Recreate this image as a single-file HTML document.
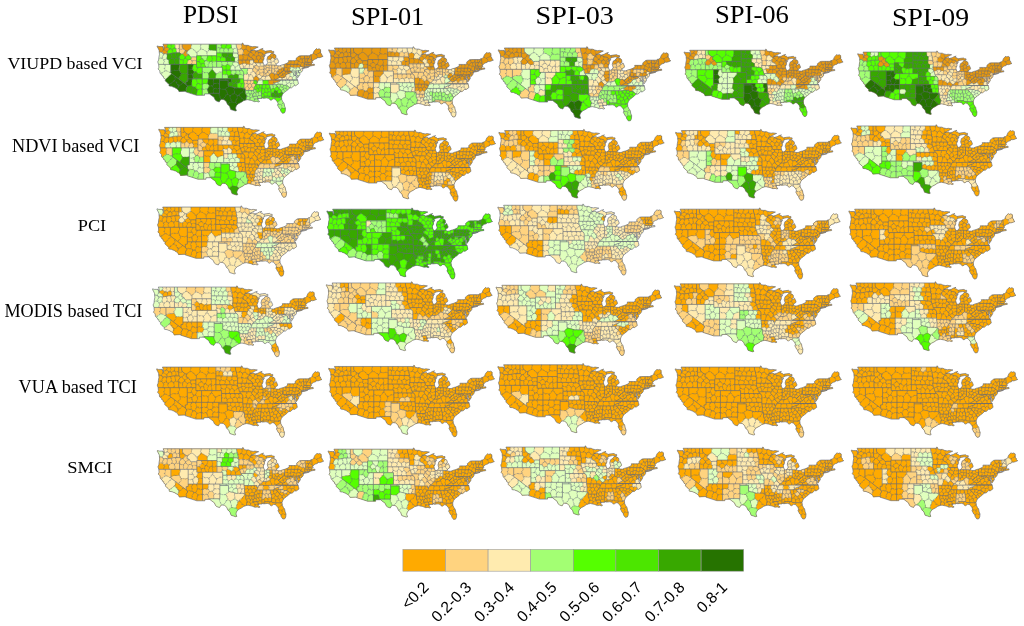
<!DOCTYPE html><html><head><meta charset="utf-8"><title>Correlation maps</title><style>html,body{margin:0;padding:0;background:#fff}body{width:1024px;height:626px;overflow:hidden;position:relative}svg{position:absolute;left:0;top:0}.t{font-family:"Liberation Serif","Times New Roman",serif;fill:#000}.l{font-family:"Liberation Sans",Arial,sans-serif;fill:#000}</style></head><body><svg width="1024" height="626" viewBox="0 0 1024 626"><defs><filter id="bl" x="-5%" y="-5%" width="110%" height="110%"><feGaussianBlur stdDeviation="0.45"/></filter><g id="b" fill="none" stroke-linejoin="round"><path d="M17 53l-3 -1l-3 0l-3 1l-2 0M27 96l-1 2l-2 1l-5 3l-3 0l1 3l-2 -1l-3 2M22 23l-2 1l0 3l-2 2l-2 3M23 38l-1 2l-2 6l-3 0l1 2l1 2l-2 3M17 53l2 2l3 2l1 2M18 13l1 1l1 2M23 59l0 2l2 3l-1 4l-2 0l0 2l0 4M22 21l0 2M22 23l3 1l2 1l5 3l0 2l2 0l2 0M23 59l3 -2l3 -1l4 -1l1 0M34 14l-3 1l-2 3l-2 -1l-3 1M27 74l1 3l-1 0l1 6l-2 3l-2 2l2 0l1 5l0 3M47 102l-3 -1l-3 1l-3 -3l-2 -2l-6 -1l-1 1l-2 -1M29 126l1 -2l4 -2l3 -3l1 -3l1 -1l4 -3l2 1l0 -3l2 -1l3 -3M34 38l0 3l1 1l-1 6l-2 3l2 0l0 4M35 4l0 2l2 2l-2 3l-1 3M34 14l4 3l1 -1l2 2l1 2M34 55l2 2l2 2l3 -1M42 20l-1 4l-2 2l-3 1l0 3M36 30l0 2l0 4l1 1M51 54l-3 0l-3 3l-4 1M41 58l0 2l-2 4l0 3l2 2l0 1l1 4M60 130l-3 1l0 3l-3 1l-4 3l-2 0l-1 4l-3 0l-3 1M47 20l-3 1l-2 -1M49 4l-1 4l0 2l1 1l1 2l-3 4l0 3M47 20l3 1l1 1M76 93l-3 1l-1 1l-7 0l-1 -2l-1 2l-3 -1l-5 1l-3 2l-1 0l-3 1M48 36l1 3l1 5l1 -1l1 5l-1 3l0 3M59 56l-2 -1l-3 -1l-3 0M62 18l-3 0l-4 1l0 1l-4 2M51 22l2 2l0 4l-1 3l1 0l1 3M65 53l-2 1l-3 2l-1 0M59 56l1 4l-1 1l2 3l1 6l-2 0l0 4M64 116l-2 3l1 6l1 -1l-2 3l-2 3M74 148l-1 -3l0 -3l-2 2l-3 -4l0 -5l-5 0l-1 -1l-2 -4M62 18l0 -4l1 0l0 -5l-2 -3l0 -2M66 20l-2 -1l-2 -1M64 34l-1 2l1 3l1 3l-1 4l2 0l0 3l-1 4M77 54l-3 -1l-5 2l0 -1l-4 -1M77 17l-2 2l-5 2l-2 -2l-2 1M67 34l0 -2l1 -6l-1 -1l0 -3l-1 -2M74 148l1 3l0 2l-3 0l-1 5l0 2M84 105l-2 3l1 4l-1 2l-3 3l-3 1l0 2l-2 4M91 137l-3 1l-3 4l-2 3l-5 1l-2 1l-2 1M79 74l0 2l1 5l0 2l-3 1l-2 3l1 3l0 3M84 105l-2 -2l-3 0l0 -7l-2 -1l-1 -2M77 56l3 1l4 1l-1 0l4 0l3 0M90 19l-2 2l-5 1l-1 -1l-3 2l-2 0M89 39l-2 -2l-2 1l-3 1M107 104l-3 0l-1 1l-5 2l-4 -1l-2 -1l-1 1l-4 -1l-3 0M98 26l-2 2l0 4l-1 -1l-2 3l-3 1l-1 4M98 48l-2 -1l-3 -4l-2 -1l-1 -1l-1 -2M98 52l-3 1l0 2l-3 0l-2 3M90 58l1 2l-1 5l0 1l1 0l0 6l2 2M98 48l0 2l0 2M98 52l1 1l3 2l3 3l1 0l1 2M110 40l-2 3l-5 1l-1 3l-1 0l-3 1M104 74l-1 -3l0 -2l3 -2l1 -4l0 -3M118 18l-1 3l-1 -1l-4 3l-4 0l-1 3l0 2l-3 3M120 148l-4 0l-2 0l-3 0l0 -2l-4 1l-3 1M107 60l2 -1l1 -1l5 -1l2 1M123 108l-3 -1l-2 1l-1 2l-5 -1l-3 0l-2 0M121 91l-3 0l-3 0l-4 0l-4 1M126 152l-1 4l-1 3l-2 1l-2 3l1 1l0 5l-3 3l-2 2M117 58l2 -4l0 -2l0 -3M121 62l0 -1l-2 -1l-2 -2M119 4l1 4l-2 4l0 5l0 1M139 32l-2 0l-4 -1l-1 -4l-1 -2l-3 0l0 -1l-5 -4l-3 -1l-2 -1M122 124l0 4l-2 0l-2 5l2 5l1 0l-1 3l1 3l-1 4M126 152l-1 -2l-3 -1l-2 -1M120 74l0 -3l2 -3l0 -3l-1 -3M137 61l-3 1l-2 -2l-2 0l-6 1l-3 1M126 74l0 4l-1 3l-3 2l-2 2l2 3l-1 3M130 100l-2 -1l-3 -4l1 -3l-3 1l-2 -2M130 100l-2 2l0 2l-3 1l-2 3M127 124l-1 -3l-1 -3l-2 -4l1 2l-1 -5l0 -3M132 152l-3 1l-1 0l-2 -1M134 99l-2 1l-2 0M140 141l-2 1l-1 3l0 2l-2 4l-3 1M132 152l2 3l2 0l2 2l2 3l0 1M142 84l0 2l-2 3l-2 2l0 5l-1 1l-3 2M134 99l3 1l3 2l1 3l2 1M135 124l1 2l2 5l0 1l2 6l-1 1l1 2M140 161l0 2l-1 3l0 3l-2 6l-1 -1l1 3l0 3M146 65l-3 -1l-4 0l-2 0M143 106l-1 2l2 5l-2 3l-3 2l-1 2l1 4M152 18l-1 1l-1 5l-4 1l-2 2l-1 2l-1 0l-3 3M139 32l0 2l-1 7l1 -1l1 4M157 142l-3 0l-3 2l-5 -2l1 -2l-4 0l-3 1M157 160l-3 0l0 -2l-6 1l-3 2l-2 0l-3 0M157 105l-3 -1l-1 1l-6 -1l-2 1l-2 1M155 53l-2 3l-3 1l-3 1l0 4l-1 3M146 65l2 2l1 3l2 0l2 2M153 72l-1 4l1 2l-1 3l-2 3M152 4l0 3l-1 4l-2 2l3 1l0 4M174 31l-3 -2l-3 -2l0 1l-2 -1l-4 -3l-2 -2l-5 0l-1 -2l-2 -2M152 44l0 2l2 1l0 5l1 1M153 72l2 0l4 -2l2 1l2 -2M155 53l2 1l2 0l1 4l5 2l2 1M175 160l-3 -1l-4 -1l-2 3l-1 1l-6 -3l-2 0M157 143l2 -1l3 -1l2 -2l6 2l0 1l2 -1l3 0M179 105l-2 -1l-3 -2l-4 0l-5 1l1 0l-3 -2l-2 -1l-4 -1M167 61l0 2l-2 1l-1 4l-1 1M163 69l1 4l2 -1l-1 4l3 5l1 0l2 3M171 60l-1 0l-3 1M175 44l0 2l0 2l-1 4l-2 5l-1 3M171 60l2 1l1 3l5 2l1 -1l3 1M174 31l-1 3l0 1l0 2l1 4l-1 3M181 23l-1 1l-1 3l-3 2l-2 2M182 149l-2 2l-3 2l0 2l0 2l-2 3M175 160l1 3l1 4l0 -1l2 5l-1 3l2 2M175 141l1 -3l1 -4l0 -2l1 0l-1 -6l0 -2M175 141l2 2l2 0l2 4l1 2M183 66l-1 1l-2 5l-3 3l0 1l1 2l0 2l-2 4M192 92l-4 2l-2 0l1 3l-1 1l-4 4l-2 1l-1 2M179 105l1 3l0 2l1 1l0 7l-2 1l1 2l0 3M181 4l1 4l-1 0l0 4l0 2l-2 6l1 0l1 3M181 23l2 1l5 1l2 0l2 1l1 -1l4 -1l6 0l1 2l3 1M191 148l-4 0l-1 1l-4 0M190 64l-3 0l-2 0l-2 2M189 44l1 4l0 1l2 3l0 4l-2 4l1 0l-1 4M190 64l2 1M197 140l-1 2l0 4l-3 0l-2 2M191 148l1 2l3 4l1 2l2 2M192 84l1 3l-1 3l0 2M192 92l2 1l3 3l1 4l3 0l0 1l2 3l1 2M207 63l-3 0l-3 1l-3 2l-2 -1l-1 0l-3 0M192 65l0 3l-1 2l0 1l2 6l-2 2l3 2l1 3M198 158l-1 2l-2 4l0 3l1 -1l0 5l-1 3M196 124l0 1l0 6l1 1l-2 2l1 2l1 4M217 142l-3 -1l-4 -2l-2 1l-2 1l-1 -1l-6 0l-2 0M217 156l-2 1l-3 1l-2 1l-7 -2l0 -1l-2 1l-3 1M202 124l0 -4l2 -5l2 -3l-1 -4l-1 -2M204 106l3 0l3 -1l4 -2l1 0l1 -3l7 1l1 -1l3 0M222 50l-3 -1l-4 -2l0 -1l-2 2l-3 0l-3 -2M220 18l-3 -1l-4 -2l1 1l-4 1l-3 0M215 174l0 4l2 -1l-1 5l3 4l-1 2l3 1l0 3l2 3M237 160l-2 0l-6 0l-3 0l-1 0l-6 -2l-2 0M220 18l-1 3l-1 2l0 2l0 3l0 5l0 1M222 16l-2 2M222 50l-1 3l0 2l-1 2l0 4l1 3M226 77l-1 1l-2 4l-1 2M226 47l-2 1l-2 2M224 4l-2 3l1 4l0 -2l0 5l-1 2M222 16l3 2l2 0l2 0l4 3M223 64l0 2l2 2l0 7l1 -1l0 3M244 178l-2 2l-4 0l0 4l0 2l-3 2l-4 4l-1 0l-2 2l-2 1M226 35l-1 3l0 2l0 2l0 1l1 4M226 47l2 2l2 2l2 -2l5 1l2 1M226 77l2 0l2 0l2 2l5 0l1 -1M242 108l-2 1l-5 2l-3 -3l-2 1l-3 1M233 21l-1 4l-2 1l2 2l1 3l0 3M240 17l-3 0l-1 2l-3 2M249 149l-1 3l-1 0l-4 3l-3 0l-1 3l-2 2M237 160l3 3l0 3l3 1l-1 2l3 5l-1 2l0 2M244 73l-2 3l-2 1l-2 1M238 78l2 2l1 3l-1 4l2 2l-2 2l1 3M239 51l0 4l2 1l-2 2l-1 2l1 4M245 46l-3 1l-2 3l-1 1M240 124l-1 2l0 3M241 4l1 3l0 3l-3 2l0 1l1 4M248 21l-2 0l-1 0l-4 -2l-1 -2M243 94l-1 4l-1 0l1 4l0 4l0 2M247 113l-3 -2l0 -2l-2 -1M244 64l1 3l0 3l-1 3M256 80l-3 -1l-1 -3l-1 -2l-4 0l-3 -1M255 182l-4 -1l-4 -3l-3 0M245 35l1 2l0 6l-1 0l0 3M255 52l-2 -1l-2 0l-3 -3l-3 -2M246 213l3 -3l0 -2l2 -2l4 -1l2 -1M247 113l-1 4l0 2l1 1l0 4M258 108l-2 2l-1 -1l-3 3l-3 0l-2 1M248 138l2 0l3 -1l2 -1l3 -2M248 21l1 2l-2 6l1 3l0 2M258 17l-2 0l-5 1l0 1l-3 2M253 94l1 -2l1 -3l1 -5l0 -1l0 -3M269 175l-3 1l-4 0l0 2l-1 1l-4 1l-2 2M255 182l-1 2l0 4l1 3l0 1l2 2l0 6l0 1l0 3M255 52l0 1l1 6l0 -1l0 3l-1 3M264 46l-2 1l0 1l-5 1l-2 3M256 80l2 0l3 -2l2 -2M257 94l1 2l-1 6l1 3l0 3M257 204l3 0l2 0l1 1l6 1l2 0l2 -1M259 124l0 2l0 2l-1 4l0 2M258 134l1 1l2 1l3 3l1 1M258 108l3 2l2 0l2 2M258 17l1 -3l-1 0l1 -5l-1 -3l0 -2M265 21l-2 0l-2 -2l-3 -2M265 140l-1 3l-1 1l-1 2l0 4l0 2M265 65l-1 2l-2 3l1 4l0 2M263 76l2 2l3 1l1 3l3 1M264 35l-1 2l0 6l1 3M271 51l-3 -1l-2 -2l-2 -2M264 34l1 -2l0 -1l0 -6l0 -2l0 -2M265 21l2 0l2 -3l6 1l0 -2l2 0M273 107l-3 0l-3 1l0 2l-2 2M265 112l1 3l1 4l-1 1l0 4M273 138l-3 1l-2 1l-3 0M269 154l0 4l-2 3l0 2l2 1l0 5l0 4l0 2M281 182l-4 -2l-3 0l0 -3l-3 -2l-2 0M269 66l1 -3l0 -1l-1 -6l0 -2l2 -3M271 51l4 0l2 -3l2 1l4 0M272 94l0 2l3 1l-1 7l-1 0l0 3M285 75l-2 2l-3 1l-1 3l-2 0l-2 2l-3 0M272 83l-1 2l0 2l1 5l1 2M283 111l-3 -1l0 -1l-4 -2l-3 0M281 182l-2 3l0 4l0 1l-1 3l-1 -1l-2 6l-1 3l0 2l-1 2M273 205l1 2l2 2l1 2l3 1M273 138l1 -2l2 -4l-2 -4l0 -1l0 -3M277 140l-1 -1l-3 -1M288 137l-4 1l-3 1l-4 1M277 140l2 3l0 4l-1 0l1 2l0 4l0 2M292 20l-3 0l0 2l-5 0l-2 2l-3 -1M285 182l-2 -1l-2 1M299 40l-3 -1l0 2l-7 0l-2 0l-3 0l-2 -1M283 124l0 -3l1 -1l-2 -6l0 -1l1 -2M286 108l-2 2l-1 1M305 158l-3 2l0 2l-1 2l-4 5l-2 1l1 2l-2 1l-4 1l-4 3l0 1l-1 4M285 182l3 2l1 1l1 0l3 4l0 4l5 0l2 1l2 3l2 1M295 72l-3 1l-4 2l1 0l-3 0M288 94l-1 3l0 2l2 2l-1 5l-2 2M286 108l4 1l1 -2l2 1l1 2l5 2l2 0M288 124l0 3l1 3l-1 1l1 3l-1 3M293 141l-1 -1l-2 -1l-2 -2M289 156l0 -3l1 -2l2 0l1 -6l0 -2l0 -2M294 4l0 2l0 3l1 2l-1 5l-2 2l0 2M300 25l-1 -1l-4 -2l-1 -2l-2 0M293 141l2 -1l2 0l3 -1l3 1M297 71l-2 1M302 88l-1 -3l1 -4l-3 1l1 -3l-3 -5l-2 -2M295 59l1 3l0 1l1 6l0 2M297 71l2 -1l2 0l1 0l5 0l2 1M299 40l-1 3l1 3l2 3l-1 -1l-1 6l0 2l-1 3M300 25l1 3l-1 2l-3 6l1 1l1 3M317 42l-3 -1l-4 0l1 1l-3 1l-2 -1l-5 -2l-2 0M309 21l-3 1l-3 1l0 2l-3 0M314 106l-1 2l-5 0l-2 0l-3 1l-2 -1M315 150l-3 1l-2 2l-1 1l-3 -1l-3 1M313 139l-3 1l-2 2l-3 -1l-2 0M311 73l0 3l-1 0l-3 3l-2 5l1 2l0 2M313 8l-1 2l-2 3l0 4l0 2l-1 2M309 21l2 2l4 2l0 3l3 -1l-1 0l4 4l2 2M317 173l-3 1l-4 1l-1 2M310 59l-2 3l1 4l1 1l-1 4M309 71l1 1l1 1M311 73l2 0l2 0l3 0l3 1M311 186l3 0l0 -2l4 1l3 1M313 129l1 2l0 3l0 3l-1 2M313 139l2 1l1 2M313 59l1 -3l1 -5l0 -2l1 -5l1 -2M315 88l0 3l0 5l-1 -1l-2 2l1 3l1 5l0 1M319 110l-2 -2l-1 -1l-2 -1M316 142l1 3l-2 3l0 2M320 157l-2 -3l-1 -3l-2 -1M319 110l0 3l1 4l-1 -1l-1 4l-1 4l-1 3l0 2M316 142l3 0l1 -1l4 0M317 164l0 3l1 2l0 2l-1 2M323 177l-2 -1l-1 -3l-3 0M319 41l-2 1M324 109l-2 1l-3 0M320 163l-1 -3l1 -1l0 -2M329 151l-3 2l-3 2l0 1l-3 1M323 177l0 3l1 0l-2 3l-1 3M321 186l2 2l1 2M323 73l-2 1M321 74l1 3l-2 4l1 0l0 4l0 3M324 190l-1 1l0 4l-1 3M322 59l0 2l0 4l-1 3l2 2l0 3M327 175l-3 2l-1 0M330 73l-2 1l-3 -1l-2 0M335 97l-1 1l-2 2l-5 1l-1 5l0 2l-2 1M324 109l3 2l1 -1l4 3l-1 4l3 1l3 1M335 187l-4 0l-3 1l-1 1l-3 1M325 129l1 3l-1 3l0 2l-1 4M324 141l2 1l2 1M324 31l3 2l4 0l0 3l3 4l2 1M329 26l-2 -3l0 -1l-3 -5l2 -3l-1 -2M328 164l0 3l1 0l-1 6l-1 2M327 175l3 1l2 0l1 2M336 139l-4 1l-1 2l-3 1M328 143l1 2l0 3l0 3M336 41l-2 1l-2 2l-3 4l-1 2M329 151l3 2l3 0l2 2M337 67l-2 1l-2 4l-3 1M330 73l3 3l3 3l0 3M336 184l1 1l-2 2M339 196l-1 -2l1 0l-3 -5l-1 -2M337 119l-1 2l0 4l-1 2l0 2M335 60l4 0l2 -2l1 -1l3 -3M337 41l-1 0M337 129l0 2l0 3l-1 3l0 2M336 139l2 1l5 2l-1 3l2 0M344 161l-4 -1l-3 1M337 84l2 1l5 2l-1 3l2 0l3 1l2 3M337 202l0 -2l2 -2l0 -2M345 114l-2 0l0 2l-4 1l-2 2M343 29l-1 1l1 5l-2 2l-3 2l-1 2M337 41l1 1l4 3l2 1l2 0M337 172l3 0l3 1M339 196l3 -1l0 -3l4 1l3 0M350 94l-2 2l0 2l-1 3l-4 1l-2 1M343 147l2 2l3 3l-1 3l1 2M347 170l-2 1l-2 2M343 173l1 4l1 2l0 2l-1 3M348 157l-2 2l-2 2M344 161l0 2l-1 5l3 0l1 2M345 77l4 2l3 0l0 2l4 1M346 46l0 2l-1 4l0 2M345 54l1 2l5 0l0 2l2 2M357 108l-3 1l-2 0l-1 3l-3 0l-2 1M346 46l2 -1l1 0l3 -2M352 171l-3 -1l-2 0M348 157l2 -1l3 1M350 184l1 -1l3 -2M352 93l-2 1M356 168l-2 2l-2 1M352 171l0 3l2 2l-1 1l1 4M353 32l1 3l-2 2l0 4l0 2M352 43l2 1l4 1l2 2M355 89l-1 2l-2 2M352 93l2 4l1 1l1 2l2 4M361 54l-3 1l-4 3l1 0l-2 2M353 60l0 3l0 3l0 3M356 155l-2 1l-1 1M353 157l0 4l1 1l0 3l2 3M354 181l3 1l4 -1l2 0M356 82l-1 3l0 2l0 2M355 89l2 1l3 3l3 -1l6 -2l0 1l3 2M358 79l-1 2l-1 1M356 168l1 1l3 1l3 -1M356 144l0 3l1 5l-1 3M365 156l-4 0l-1 -1l-4 0M358 104l-1 2l0 2M357 108l0 1l3 4l2 2l2 -1l1 3M372 100l-3 1l-3 0l-4 3l-1 -1l-3 1M372 79l-3 1l-5 0l1 0l-4 0l-3 -1M358 69l1 3l0 2l0 2l-1 3M369 39l-3 3l-3 1l-1 3l-2 1M360 47l1 3l0 1l0 3M370 58l-3 0l0 1l-3 -3l-3 -2M369 175l-2 0l-2 0l-2 -1M365 158l2 -1l4 1l2 1M368 129l0 4l-1 2l-1 1l2 5l0 3M375 170l-3 2l-1 2l-2 1M369 175l1 2l3 2l0 3l2 2M372 103l2 0l2 2l3 -1M377 90l-3 -1l-2 2M378 156l-2 1l-3 2M373 159l1 3l1 3l1 1l-1 4M375 170l4 1l2 0l3 1M377 115l0 3l1 2l-3 1l2 6l0 1M381 86l-1 0l-1 2l-2 2M385 99l-2 -3l0 -1l-4 -2l-2 -3M378 144l0 4l0 3l0 1l0 4M385 158l-2 0l-2 -1l-3 -1M378 29l0 2l1 2l-1 3M379 77l0 2l-1 4l2 0l1 3M384 100l0 2l-3 1l-2 1M379 104l0 3l-1 0l2 5l1 2M381 86l2 -1l4 0l2 1M395 57l-2 -1l-3 0l0 2l-5 0l-2 -2M384 172l-1 2l2 4l-1 3l0 3M384 172l2 -2M385 99l-1 1M384 100l3 2l0 1l3 3l2 2M389 95l-2 0l-1 2l-1 2M397 67l-2 0l-1 0l-5 0l-2 1l-2 -1M393 155l-2 0l-4 2l0 1l-2 0M385 158l1 3l-1 0l1 7l0 2M386 170l3 -1l3 0l2 1l3 0M387 129l0 3l0 3l2 2l1 -1l-3 6l0 2M390 85l-1 1M389 86l1 4l0 1l-1 4M389 95l4 0l2 2l2 -1l2 1M389 76l0 3l2 1l-1 2l0 3M392 184l-2 3l0 3l0 2M390 85l2 2l4 -1l3 0M398 128l-1 -2l0 -4l-2 -2l0 1l-3 -6l0 -3l-2 -1M392 44l2 2l3 0l1 3l1 2M405 156l-3 2l-3 2l-1 -1l-3 1M399 51l-1 3l-2 0l-1 3M395 57l1 3l0 4l2 2M398 66l-1 1M397 67l0 2l0 3l0 3l1 1M404 172l-2 0l-2 1l-3 0M408 64l-2 -1l-3 1l-3 1l-2 1M399 51l3 0M408 89l-3 1l-2 -2l-4 1M407 39l-1 2l-1 1l-2 6l-1 1l0 2M402 51l1 0l3 2l2 1M402 144l1 3l2 4l-2 -2l1 5l1 2M410 95l-1 2l-1 5l-3 1l-2 1M410 163l-2 3l-2 3l0 1l-2 2M411 178l-2 -1l0 -2l-3 -3l-2 0M408 158l-2 0l-1 -2M407 140l-1 -3l0 1l0 -5l-1 -3l0 -2M409 107l-1 4l0 2l-1 2l-1 3l2 4l0 4l-2 2M418 149l-2 3l-4 1l-1 3l-3 2M408 158l1 1l1 4M410 57l-1 2l-1 2l0 3M415 74l-2 -3l-4 -3l0 -1l-1 -3M410 87l-2 2M408 89l0 2l1 1l1 3M409 77l1 3l-1 0l1 5l0 2M420 86l-3 0l0 3l-4 -1l-3 -1M410 163l2 2l4 1l0 -1l3 1M410 194l1 -3l1 -1l-1 -2M410 95l2 2l2 2l3 -1M411 178l0 2l0 5l0 2M420 173l-2 1l-2 3l-2 0l-3 1M417 98l0 2l-2 4l1 3M417 98l3 -1M419 166l1 -2l4 -3l1 0l0 -3M419 166l0 2l0 3l1 2M434 194l-4 2l-1 3l-5 2l-3 1l-1 2M421 79l0 3l-1 2l0 2M420 86l0 1l3 4M420 173l1 1l3 1M420 135l1 4l0 1l1 2M423 91l-1 3l-1 1l-1 2M420 97l3 1l0 2l4 3l2 1M421 211l3 1l0 1l5 -1l3 1M423 91l2 0l4 0l1 -1M435 170l-3 0l-3 1l-2 1l-3 3M424 175l0 2l-1 4l2 2l2 4M428 152l-2 1l-2 3M436 110l-2 1l-3 3l-1 -1l-2 2l-2 1M428 142l1 3l0 4l0 -1l-1 4M438 153l-3 0l-4 -1l-3 0M434 226l-2 1l0 1l-3 2M433 86l-2 2l-1 2M430 90l2 2l1 0l1 5l1 2M430 78l0 3l2 1l1 4M440 207l-2 2l-1 0l-2 2l-3 2M432 213l2 2l-1 4l0 2l1 2l0 3M432 101l2 2l3 2l0 2M433 164l2 -1l2 -1l2 -3M442 86l-3 0l-2 0l-4 0M446 226l-2 0l-2 2l-1 -1l-4 -2l-3 1M434 121l1 3l0 1l0 3M437 128l0 4l0 1l0 2l-1 6l-1 2M437 107l-1 3M436 110l2 1l1 4l2 3l0 1M445 106l-4 1l-2 1l-2 -1M440 146l0 3l-1 2l-1 2M438 153l0 1l2 3M440 157l-1 2M439 159l1 3l2 2l1 2l3 2M449 156l-3 1l-2 -1l-4 1M452 85l-2 0l-2 -1l-4 0l-2 2M447 97l0 2l0 2l-1 4l-1 1M445 106l2 1l2 3M445 128l2 2l2 3l1 5l1 3M454 125l-1 -1l-3 -2l0 -5l-3 -1l-1 -1M451 141l-1 3l-2 2M453 148l-1 1l-2 4l-1 3M449 156l0 2l2 1l0 1l3 3M461 137l-3 1l-5 1l1 1l-3 1M453 74l-1 4l0 2l0 2l0 3M453 86l-1 -1M453 96l1 -3l0 -1l0 -3l-1 -3M462 86l-3 1l-4 -1l-2 0M463 115l-2 3l-3 1l-1 4l-1 0l-2 2M454 125l0 3M457 100l1 1l1 3l-1 2M460 106l2 2l1 1l-1 3l1 3M461 128l0 3l1 2l-1 4M461 137l3 3l1 1M465 83l-1 2l-2 1M462 86l2 1l-1 4l0 3l1 2M462 155l0 -3l2 0l1 -6l0 -3l0 -2M463 115l3 1l2 1l3 1M465 83l-1 -2l0 -4l-1 -1l0 -2M474 85l-2 -1l-4 0l-2 0l-1 -1M465 141l2 0l2 -3l3 1l3 1M465 61l0 2l2 2l-1 4l-1 3l0 2M479 112l-2 1l0 1l-4 1l-2 3M471 118l0 2l-1 5l2 0l0 3M472 96l0 -3l1 -1l1 -3l0 -4M475 84l-1 1M477 128l-2 4l-1 3l2 1l-1 4M475 140l1 2l4 2l-1 1l1 2M476 74l0 3l-1 3l0 1l0 3M475 84l3 1l0 3l4 -1l2 -1M475 105l1 -3l3 -1l2 0M477 61l1 3l1 3l-2 2l0 1l1 4M481 101l1 -3l-1 -1M481 101l1 1M487 84l-3 2M484 86l1 2l-2 3l1 4l1 1M491 63l-2 -2l-1 -1l-3 -1M485 105l1 1M486 106l0 1l0 2M494 102l-4 1l-3 2l-1 1M487 74l0 1l0 5l0 2l0 2M495 86l-3 -1l-3 0l-2 -1M488 111l1 1l3 1l3 -1M488 74l0 -3l1 -2l2 -4l0 -2M493 62l-2 1M500 53l-1 3l-3 3l-2 0l-1 3M493 62l2 2l3 3l3 0l3 1M496 45l1 3l2 -1l0 4l1 2M498 93l1 3l3 2l1 1M507 89l-3 -1l-1 1l-5 1M498 79l1 -2l1 -3l3 -3l1 -3M506 55l-3 0l-1 0l-2 -2M504 68l2 -1M513 52l-2 0l-2 2l-3 1M506 55l-1 3l0 5l1 1l0 3M506 67l3 1l1 1l4 0M522 54l-3 1l-3 0l-2 0M520 74l2 3l-1 1l0 3M521 44l1 2l1 2l-1 3l0 3M525 56l0 -1l-3 -1M526 67l0 1l-1 3l1 2M537 57l-2 0l-4 -2l-2 -1l-3 0M535 76l0 -3l3 -1M540 69l1 -2M544 35l2 1l3 3l3 1l2 0M569 30l-3 3l-1 3l-6 0l-3 3l0 -1l-2 2M554 40l1 2l2 2l1 6l-1 -1l1 3" stroke="#5f677a" stroke-width="1.9" stroke-dasharray="7 2 3 2"/><path d="M47 74l-42 0M5 74l-2 -5l-1 -4l3 -6l1 -10l2 -10l-1 -8M100 167l-24 1l-2 -4l-6 -6l-5 -2l-1 -2l-7 -2l-4 -2l-9 -1l-1 -1l0 -5l-3 -3l-4 -3l-6 -6l0 -3l1 -2l-2 -2l-4 -2l-1 -3l0 -3l-5 -2l0 -3l-7 -6l-1 -9l-6 -6l3 -6l-1 -10M7 31l0 -4l-1 -3l-3 -6l-3 -5l0 -3l6 2l9 0l5 0l2 9l2 -1l-1 -9l-3 -7l57 0M78 34l-21 0l-3 1l-12 2l-7 1l-7 -1l-4 1l-5 -1l-1 -4l-5 -1l-6 -1M77 74l-30 0M47 74l0 30l22 16l18 14l14 10M77 74l30 0M78 34l5 4l-4 6l-4 5l3 3l-1 4l0 18M77 4l10 0M77 4l0 26l1 4M87 4l120 0M87 4l0 10l3 6l10 7l4 0l-1 11l6 1l4 5l4 5l7 -1l8 0l5 1M101 144l1 2l4 5l-3 2l-3 7l2 4l-2 3M157 181l-20 0l-38 -12l1 -2M107 124l0 8l-7 1l0 6l1 5M157 124l-50 0M107 74l0 50M137 74l-30 0M137 49l0 25M157 84l-20 0l0 -10M207 44l-70 0l0 5M182 176l-17 0l0 5l-8 0M157 124l0 57M217 124l-60 0M157 84l0 40M207 84l-50 0M217 129l0 45l-36 0l1 2M309 197l-9 3l-4 3l-3 2l-10 5l-6 5l-3 6l-1 5l3 8l-4 1l-7 -2l-9 -3l-4 -11l-8 -8l-3 -8l-8 -7l-9 -1l-4 2l-4 7l-9 -3l-5 -4l-4 -9l-11 -8l-5 -4M207 84l20 0l0 10M207 64l0 20M283 69l-3 -1l-5 -3l-7 1l-6 -2l-55 0M207 44l0 20M207 34l0 10M207 4l0 30M282 35l-75 -1M207 4l68 0M302 157l-8 -2l-7 1l-6 -1l-6 1l-7 -2l-7 -2l-6 -1l-8 -3l0 -19l-30 0M217 124l0 5M227 124l-10 0M301 124l-74 0M227 94l0 30M294 94l-67 0M275 4l21 0l0 -4l3 1l2 6l8 1l8 0l6 3l10 2l6 -1l13 2l-5 2l-10 5l-10 6M275 4l1 10l3 5l0 6l3 10M282 35l-3 3l4 3l0 18M283 59l-2 0l2 10M283 69l3 8l2 5l1 5l1 1M335 59l-52 0M333 90l-3 -2l-40 0M290 88l4 6M294 94l4 2l3 6l0 22M350 134l-6 0l2 -5l-45 0M301 124l0 5M301 129l2 11l-1 17M302 157l5 1l0 6M307 164l0 10l2 4l3 4l-2 6l0 3l-1 6M336 164l-29 0M351 192l-3 1l5 0l-3 4l3 3l4 2l-4 2l-6 -2l-8 1l-5 -2l-5 -2l-5 -1l-9 -2l-6 1M327 27l10 -2l3 -1l3 4M327 27l-3 0l0 6l-6 4l2 7l-1 2l8 4l7 5l1 4M341 69l5 4l-1 3l-1 2l-7 2l-1 6l-3 4M333 90l-1 4l1 1l7 7l1 3l4 1l0 2l-1 4l8 9l4 3M335 59l1 7l5 3M346 144l-5 4l-4 7l-1 9M336 164l0 5l2 2l-5 7l-2 6l19 0l-1 3l2 5M369 69l-28 0M343 28l11 -3l7 -4l8 -2l-4 3l2 3l4 0l5 4l11 -2l10 -1l4 3l5 0l0 5l-6 1l-8 -2l-10 2l-5 2l-6 6M343 28l13 5l10 2l3 5l2 3M365 144l-19 0M350 134l-4 10M353 129l-1 0l-2 5M363 192l-12 0M410 128l-43 1l0 -2l-14 2M356 124l-3 5M366 116l-3 4l-1 3l-6 1M372 191l-5 0l1 -4l-2 3l-3 2M365 144l1 1l-3 30l0 15l0 2M391 144l-26 0M399 103l-6 3l-3 5l-6 3l-6 1l-7 0l-5 1M372 76l0 24l-1 4l1 5l-5 6l-1 1M371 43l-4 5l3 -1l7 -6l-5 8l0 6l-4 8l1 6M369 69l3 7M372 76l3 1l4 -1M433 187l1 9l4 8l4 5l2 10l3 7l-1 10l-3 6l-7 1l-6 -8l-1 -6l-4 -3l-3 -6l-3 -5l2 -5l-2 -6l-6 -7l-3 -3l-6 -1l-7 5l-4 -1l-3 -5l-8 -2l-10 1M397 184l-26 0l0 1l2 2l-1 4M379 76l20 0M379 76l3 -3l3 -5l-3 -10l3 -11l6 -3l6 -7l3 -1l5 1l8 5l1 5l0 4l-6 4l3 3l7 -5l5 11l-1 4l-6 3l-3 6M404 144l-13 0M391 144l5 21l1 6l0 8l0 5M433 187l-6 -1l0 4l-2 -2l-26 -1l-2 -3M399 76l0 27M421 110l-4 -3l-7 0l-6 -2l-5 -2M399 76l14 1M404 144l12 0M430 128l-3 5l-11 3l-12 6l0 2M428 118l-18 10M430 128l-20 0M410 128l20 0M413 77l4 1l3 1l7 0l7 -3l8 -2M416 144l8 -2l13 1l3 3l11 0l11 9M416 144l-2 3l4 2l7 9l7 6l4 9l3 1M429 104l-8 8M421 112l0 -2M421 112l7 6M429 104l-4 4l-4 2M428 118l7 3l9 -3l7 -10l8 -2l5 -2l5 -2l1 -1M442 88l-1 2l-2 7l-7 4l-3 3M489 128l-59 0M430 128l59 0M439 174l-3 5l-3 8M462 155l-7 7l-7 5l-5 4l-4 3M442 74l0 14M442 88l0 9l10 0M442 74l8 -3M450 71l7 -4l1 -2l-1 -4l15 0l7 0l6 -3l-1 -5l5 -4l5 -4l6 -1l14 0M450 71l0 3l44 0l3 4l3 2M452 97l37 0l2 -2M452 97l0 5l5 -3l6 -1l6 0l1 3M489 128l1 4l2 9l-10 7l-5 -1l-9 8l-6 0M470 101l2 2l5 3l-3 4l4 1M478 111l7 4l-1 3l0 6l3 1l2 3M493 100l0 1l3 5l1 3l-3 5l-6 8l-1 -4l1 -6l-4 -4l2 -8l-4 2l0 7l2 4l-6 -2M491 95l1 3M493 96l-2 -1M492 98l1 -2M493 100l-1 -1l0 -1M492 98l1 2M507 88l0 1l0 5l-4 6l-5 4l-5 -4M500 80l-4 4l-1 3l5 5l-7 4M500 80l8 4M508 88l-1 0M507 88l1 0M508 88l3 -3l13 -2l4 0l-9 3l-11 2l-1 0M508 84l0 4M511 84l-3 0M529 81l-11 0l-7 3M512 73l0 9l-1 2M515 66l-3 7M512 73l17 1M514 44l18 0M514 44l-1 5l1 9l1 8M515 66l8 1M532 44l-1 5l-4 4l-4 8l-1 5l1 1M523 67l11 0l5 -2M536 79l-7 2M529 74l0 7M529 74l5 0l2 5M532 44l1 -3l3 0M539 65l2 2l-4 4l3 3l7 -1l1 4l-7 1l-5 1M536 41l3 -1l4 -4l2 -5l2 -4l8 -8l3 3l6 -2l5 3l0 12l4 3l0 4l5 4l-7 3l-7 2l-5 -1l-3 4l-7 2l-4 2l-3 4l-2 1M536 41l2 19l2 3M540 63l-1 2" stroke="#626878" stroke-width="2.2"/></g></defs><g filter="url(#bl)"><g transform="translate(157.20 43.00) scale(0.2871 0.2891)"><path d="M7 31l0 -4l-1 -3l-3 -6l-3 -5l0 -3l6 2l9 0l5 0l1 4l1 4l0 1l0 -1l2 0l0 -2l-1 -7l-3 -7l276 0l0 -4l3 1l2 6l8 1l4 0l4 0l6 3l2 1l8 1l6 -1l13 2l-5 2l-10 5l-8 5l8 -1l3 -1l3 4l11 -3l7 -4l8 -2l-3 3l1 3l4 0l5 4l2 -1l9 -1l10 -1l4 3l5 0l0 5l-6 1l-8 -2l-10 2l-4 2l-1 0l-6 6l-3 4l0 1l2 -1l7 -6l-5 8l0 6l-2 4l-2 4l1 6l3 7l3 1l3 -1l1 0l3 -3l3 -5l0 -1l-3 -9l1 -2l2 -9l6 -3l0 -1l6 -6l3 -1l5 1l3 1l5 4l1 5l0 4l-5 4l2 2l0 1l7 -5l5 11l-1 4l-6 3l-1 3l-2 2l0 1l4 1l3 1l7 0l3 -1l4 -2l8 -2l8 -3l7 -4l1 -2l-1 -4l15 0l5 0l2 0l6 -3l-1 -5l5 -4l5 -4l6 -1l14 0l7 0l11 0l0 -1l1 -2l3 0l3 -1l4 -4l1 -1l1 -4l2 -4l8 -8l3 3l6 -2l5 3l1 0l0 12l3 3l0 4l5 4l-7 3l-7 2l-5 -1l-1 2l-2 2l-7 2l-4 2l-3 4l-2 1l-1 2l1 0l1 2l-2 2l-1 2l2 3l7 -1l1 4l-7 1l-5 1l-7 2l-8 0l-3 0l-7 3l-2 0l-1 0l0 3l3 -2l13 -2l4 0l-9 3l-11 2l-1 1l0 5l-4 6l-5 4l-4 -3l2 5l1 3l-2 3l-1 2l-6 8l-1 -4l1 -6l-1 -1l-1 -2l-2 -1l1 -3l1 -5l-3 2l-1 0l0 7l2 4l-1 0l-1 0l3 2l-1 3l0 6l1 0l2 1l2 3l1 4l2 9l-10 7l-1 0l-4 -1l-9 8l-6 0l-7 7l-1 1l-6 4l-2 2l-3 2l-4 3l-3 5l-3 8l1 6l0 3l4 8l2 3l2 2l2 10l3 7l-1 10l-3 6l-7 1l-6 -8l-1 -5l0 -1l-4 -3l-3 -6l-3 -5l1 -4l1 -1l-2 -6l-6 -7l-3 -3l-6 -1l-7 5l-4 -1l-3 -5l-8 -2l-10 1l-5 0l1 -2l-1 0l-1 1l-3 2l-12 0l-2 1l1 0l3 0l-2 4l2 3l4 2l-4 2l-6 -2l-8 1l-2 -1l-3 -1l-5 -2l-5 -1l-2 0l-7 -2l-6 1l-5 2l-4 1l-4 3l-3 2l-10 5l-3 3l-3 2l-3 6l-1 5l3 8l-4 1l-7 -2l-9 -3l-4 -11l-6 -6l-2 -2l-3 -8l-8 -7l-8 -1l-1 0l-1 1l-3 1l-4 7l-9 -3l-5 -4l-4 -9l-11 -8l-5 -4l-17 0l0 4l0 1l-28 0l-21 -7l-17 -5l1 -2l-24 2l-2 -5l-3 -4l-3 -2l-5 -2l-1 -2l-7 -2l-4 -2l-9 -1l-1 -1l0 -5l-3 -3l-4 -3l-6 -6l0 -3l0 -1l1 -1l-2 -2l-4 -2l-1 -3l0 -3l-5 -2l0 -3l-6 -5l-1 -1l-1 -9l-6 -6l3 -6l-1 -10l-2 -5l-1 -4l3 -6l1 -6l0 -4l2 -10zM492 96l0 1l1 0l0 -1z" fill="#FFEBAF"/><path d="M336 119l1 0l8 -6l1 0l7 8l3 2l0 1l-2 5l-1 0l-2 5l-1 0l-6 0l-1 0l2 -5l-10 0zM295 73l-9 2l-1 0l-3 -6l-1 -10l0 -1l1 0l0 -17l0 -1l-1 0l1 0l17 -1l1 -14l-8 -5l2 -16l2 0l0 -4l3 1l2 6l8 1l4 0l4 0l6 3l2 1l8 1l6 -1l13 2l-5 2l-10 5l-8 5l8 -1l3 -1l3 4l11 -3l7 -4l8 -2l-3 3l1 3l4 0l5 4l2 -1l9 -1l10 -1l4 3l5 0l0 5l-6 1l-8 -2l-10 2l-4 2l-1 0l-6 6l-3 4l0 1l2 -1l7 -6l-5 8l0 6l-2 4l-2 4l1 6l1 0l-1 0l-16 0l-12 0l-5 -2l0 -1l-1 -6l0 -1l-12 0l0 14l-2 1l-10 -1l-2 -2l-12 0l-1 2zM109 38l1 0l0 1l0 1l1 0l-1 0l-12 9l-9 -10l0 -1l8 -13l-7 -5l-4 -6l0 -10l34 0l-1 15l-15 12l-1 7zM37 38l-2 0l-7 -1l-4 2l-5 -2l-1 -4l-2 0l-3 -1l-6 0l0 -1l0 -4l-1 -3l-3 -6l-3 -5l0 -3l6 2l9 0l5 0l1 4l1 4l0 1l0 -1l2 0l0 -2l-1 -7l-3 -7l16 0l-1 10l7 6l0 1l-6 9zM386 128l1 0l10 0l-8 -17l1 0l0 -1l3 -4l6 -4l5 2l5 2l1 1l5 0l2 -9l3 -1l3 -6l0 -1l7 0l3 -5l9 1l0 -12l8 -3l7 -4l1 -2l-1 -4l15 0l5 0l2 0l6 -3l-1 -5l5 -4l5 -4l6 -1l14 0l7 0l11 0l0 -1l1 -2l3 0l3 -1l4 -4l1 -1l1 -4l2 -4l8 -8l3 3l6 -2l5 3l1 0l0 12l3 3l0 4l5 4l-7 3l-7 2l-5 -1l-1 2l-2 2l-7 2l-4 2l-3 4l-2 1l-1 2l1 0l1 2l-2 2l-1 2l2 3l7 -1l1 4l-7 1l-5 1l-7 2l-8 0l-3 0l-7 3l-2 0l-1 0l-8 -3l-3 3l-1 2l-9 -1l-2 2l-1 0l-9 -2l-1 0l-9 -1l-2 2l1 10l2 0l1 1l-1 0l3 0l0 1l1 2l0 1l-1 2l-5 1l-5 2l-1 1l-7 1l-1 2l-5 9l-1 0l-3 1l-6 2l-7 -3l-16 8l19 1l-3 5l-1 0l-11 4l-8 4l-3 1l-1 2l-13 0l-4 0zM396 58l-1 0l-12 -1l-1 0l1 -1l2 -9l6 -3l0 -1l6 -6l3 -1l5 1l3 1l5 4l1 5l0 4l-5 4l-1 0l-6 -4l-3 0zM507 88l0 -1l1 0l3 -2l13 -2l4 0l-9 3l-11 2z" fill="#E8990F"/><path d="M336 164l-16 0l-13 0l-1 0l0 -5l-4 -1l0 -1l0 -3l1 -13l0 -1l-2 -11l0 -1l12 0l12 0l12 0l0 1l-1 10l9 6l0 1l-3 2l-4 7zM346 114l-1 0l-1 -2l-1 0l2 -4l0 -2l-4 -1l-1 0l0 -2l0 -1l-7 -7l-1 -1l1 -4l3 -4l0 -2l0 -4l1 0l0 -1l7 -1l1 -2l11 6l2 -3l14 0l0 -3l3 1l3 -1l1 0l1 0l9 0l10 0l10 0l4 0l0 1l4 1l3 1l7 0l3 -1l3 7l0 1l-3 4l0 1l-7 0l-2 6l-4 2l-1 8l-6 1l-6 -3l-1 0l-4 -2l-5 4l-1 1l-3 3l-6 3l-3 1l-3 0l-7 0l-4 1l-1 1l-1 0l-9 -9zM137 74l-17 0l-17 0l4 -14l10 -3l2 -8l5 -1l8 0l5 1l0 12zM300 25l-1 15l-17 0l-3 -2l-1 0l3 -4l-2 -9l0 -2l-1 -4l-2 -5l-1 -10l19 0l-2 16zM98 25l0 1l-9 13l-7 0l0 -1l-4 -4l-1 -4l0 -7l0 -19l10 0l0 10l3 5z" fill="#FFD37F"/><path d="M51 106l0 1l-22 20l-1 0l1 -1l-2 -2l-4 -2l-1 -3l0 -3l-5 -2l0 -3l-6 -5l-1 -1l-1 -9l-6 -6l3 -6l-1 -10l-2 -5l-1 -4l3 -6l1 -6l0 -4l2 -10l-1 -8l6 0l5 1l1 0l0 1l1 3l3 1l1 1l4 -1l6 0l0 1l1 17l6 3l1 15l5 0l1 0l0 1l0 28l0 2zM204 107l0 -1l-13 -13l0 -1l0 -8l0 -1l1 0l35 0l0 1l0 16zM256 80l7 -4l2 -11l0 -1l3 1l1 0l2 -14l-7 -4l-1 0l0 -1l1 -12l0 -12l-6 -5l-1 -13l18 0l2 10l1 2l1 3l1 6l2 9l0 1l-3 3l4 2l0 1l0 8l0 10l-1 0l1 10l3 6l1 2l2 5l0 5l1 1l5 6l-1 0l-21 0l-20 0l2 -14zM137 49l-5 0l-8 0l-7 1l-4 -5l-1 0l-3 -6l-6 0l-1 0l0 -1l1 -7l15 -13l1 -14l62 0l0 19l26 3l0 1l0 17l-34 0l-33 0l-3 0zM471 118l-8 -3l-1 0l-3 -9l0 -1l1 0l4 -2l5 -1l1 -1l-1 -3l-3 0l0 -1l-2 0l-1 0l-1 -11l0 -1l2 -2l1 0l9 2l1 -1l9 2l2 -2l1 0l9 1l0 1l0 1l4 5l-2 1l6 6l-1 1l-5 4l-4 -3l2 5l1 3l-2 3l-1 2l-6 8l-1 -4l1 -6l-1 -1l-1 -2l-2 -1l1 -3l1 -5l-3 2l-1 0l0 7l2 4l-1 0l-1 0l3 2l-1 3l0 6l1 0l2 1l2 3l1 4l2 9l-10 7l-1 0l-4 -1l-9 8l-6 0l0 1l-12 -10l-2 0l-9 0l-2 -2l-2 -1l-11 -1l-1 1l-7 1l-12 0l0 -2l0 -1l12 -5l4 -1l7 -3l3 -4l1 0l6 0l8 0l16 0l10 0zM492 96l0 1l1 0l0 -1zM368 144l-3 0l-19 0l4 -10l2 -5l0 -1l1 0l14 -1l0 1l1 0l0 1l1 0z" fill="#E0FFBD"/><path d="M180 176l-15 0l0 4l0 1l-9 0l0 -22l0 -16l0 -1l1 0l18 -1l1 0l7 7l0 1l-8 12zM242 108l5 5l0 11l-1 0l-19 0l-25 0l2 -18l23 -6l0 10zM180 124l-23 0l-1 0l0 -25l0 -15l1 0l0 -1l13 0l-7 -13l0 -1l4 -8l-13 -7l0 -1l-2 -9l0 -1l23 0l1 0l0 1l-4 15l11 6l7 -1l2 0l15 -2l0 1l16 0l21 0l18 0l3 1l0 1l1 0l-2 11l0 1l-1 0l-7 4l0 -1l-12 -7l-5 6l-1 0l-12 -1l-4 6l-1 0l-14 0l-12 0l-3 0l0 8l0 1l-13 13zM207 35l-1 0l0 -1l0 -17l0 -13l18 0l-1 12l10 4l7 -4l8 5l10 -5l7 5l-1 13l0 1l-16 0l-15 0l-15 0zM308 197l2 -9l1 -3l0 -3l-2 -4l-1 -1l-1 -3l-1 0l0 -10l1 0l0 -1l10 0l11 0l7 0l1 -2l0 -1l8 1l3 9l4 1l4 -3l1 0l7 1l1 0l-1 6l0 6l1 9l0 2l-1 0l-12 0l-2 1l1 0l3 0l-2 4l2 3l4 2l-4 2l-6 -2l-8 1l-2 -1l-3 -1l-5 -2l-5 -1l-2 0l-7 -2l-6 1zM301 124l-18 0l-1 0l1 -13l-10 -4l-8 5l-7 -4l-1 0l-1 -14l0 -1l1 0l15 0l16 0l5 0l-4 -5l1 0l25 -1l0 1l0 18l-1 0l0 1l-12 1l0 4zM429 230l0 -1l-4 -3l-3 -6l-3 -5l1 -4l1 -1l-2 -6l15 -11l0 3l4 8l2 3l2 2l2 10l3 7l-12 0zM439 174l-3 -1l-4 -9l-7 -6l-1 -1l-6 -8l-10 9l-1 0l-2 -1l-10 3l-1 0l-3 -16l11 0l2 0l12 -1l8 -2l4 1l9 1l3 2l11 0l2 2l9 8l-7 7l-1 1l-6 4l-2 2l-3 2z" fill="#A3FF73"/><path d="M136 180l4 -19l-8 -8l-6 0l-1 0l-6 -5l2 -24l0 -1l1 0l12 0l23 0l20 0l0 1l-1 17l-1 0l-18 2l0 17l0 21l-20 0zM142 106l-8 -6l-4 0l-9 -9l4 -17l0 -1l1 0l10 0l0 -9l0 -20l1 0l0 -1l15 0l1 0l0 1l2 9l12 8l1 0l-4 8l7 15l-14 0l0 21l-14 1zM77 74l0 -18l0 -1l1 -3l-3 -2l0 -1l3 -5l4 -6l7 0l9 10l12 -8l3 4l4 5l2 0l-2 9l-10 2l-3 14l-1 0l-10 0zM35 30l6 -10l-7 -6l1 -10l26 0l1 13l4 2l0 1l1 14l-10 0l-3 1l-12 2l-5 1l-1 0zM352 171l-5 0l-3 -9l-8 -1l1 -6l4 -7l0 -1l2 -1l1 -1l-9 -6l1 -10l1 0l0 -1l9 0l0 1l-2 4l6 0l1 0l0 1l-4 9l9 0l9 0l3 0l0 -14l0 -1l19 0l1 16l3 0l1 0l2 11l1 4l9 -3l1 0l3 1l10 -8l1 0l7 9l7 5l0 1l2 6l-11 5l-4 -2l-2 -7l-8 -3l-6 9l0 1l-6 0l-1 6l1 5l1 2l12 1l14 1l1 0l1 1l0 -3l6 0l0 1l1 6l0 1l-14 10l-1 0l-6 -7l-3 -3l-6 -1l-7 5l-4 -1l-3 -5l-8 -2l-10 1l-5 0l1 -2l-1 0l-1 1l-3 2l0 -2l-1 -15l0 -1l1 -5l-7 0zM303 158l-1 0l-8 -3l-5 1l-2 1l-6 -1l-2 0l-2 -16l10 -3l1 -13l0 -1l13 0l0 1l1 0l0 5l1 11l0 17zM258 108l-11 6l-5 -5l-15 1l-1 0l0 -16l0 -10l-5 0l5 -7l12 1l6 -5l1 0l11 7l-2 13l3 0l0 1zM239 51l0 13l-18 0l-14 0l-1 0l0 -1l-14 2l-1 0l-1 0l-7 1l-1 0l-11 -6l0 -1l4 -15l0 -1l14 0l17 0l0 -9l1 0l19 0l1 0l-1 13zM259 17l-1 0l-10 5l-8 -5l-7 4l-11 -4l0 -1l1 -12l35 0zM434 225l13 0l0 1l-1 10l-3 6l-7 1l-6 -8l-1 -5z" fill="#55FF00"/><path d="M132 152l9 9l-4 20l-21 -7l-17 -5l1 -2l0 -1l2 -3l-2 -3l3 -7l0 -1l2 -1l-2 -2l0 -1l1 0l16 -1l6 5zM107 132l-7 1l0 6l1 5l-14 -10l-13 -10l9 -19l-7 -12l3 -19l0 -1l28 0l0 1l0 30l0 20zM157 105l0 19l-18 0l-12 0l-4 -15l0 -1l7 -8l0 -1l4 0l1 0l8 7zM178 105l13 -13l1 0l13 14l-2 18l-1 0l-22 0zM77 74l-17 0l-18 0l-1 0l-1 -15l-6 -3l0 -1l0 -17l0 -1l1 0l7 -1l6 -1l6 -1l3 -1l7 0l14 0l5 4l0 1l-4 7l-3 4l2 2l0 1l0 3l-1 1zM226 47l-1 0l1 -13l19 0l19 0l0 12l7 5l-1 15l-1 0l-1 0l-6 -2l-7 0l-16 0l-1 0l0 -12zM181 24l-1 0l0 -1l0 -19l27 0l0 23zM435 169l0 1l2 2l2 1l0 1l-3 5l-3 8l-5 0l-1 3l0 1l0 -1l-1 0l-1 -1l-14 -1l-12 -1l-1 0l-1 -3l-1 -5l1 -6l7 -1l5 -9l1 0l9 3l2 7l3 1zM280 155l0 1l-1 0l-4 0l-7 -2l-7 -1l-6 -2l-8 -2l0 -1l0 -10l10 -4l1 -10l-12 0l1 -11l11 -5l7 3l8 -4l0 -1l10 4l1 0l0 1l-1 12l5 0l1 0l0 1l-1 13l-10 4z" fill="#38A800"/><path d="M174 161l0 -1l8 -11l-7 -8l2 -17l0 -1l19 0l21 0l23 0l19 0l0 1l-1 10l-10 5l0 9l1 0l6 2l6 2l7 1l1 1l6 1l6 0l6 1l7 -1l9 2l2 1l2 0l0 16l3 4l2 4l-1 6l-2 9l-5 2l-4 1l-4 3l-3 2l-10 5l-3 3l-3 2l-3 6l-1 5l3 8l-4 1l-7 -2l-9 -3l-4 -11l-6 -6l-2 -2l-3 -8l-8 -7l-8 -1l-1 0l-1 1l-3 1l-4 7l-9 -3l-5 -4l-4 -9l-11 -8l-5 -4l-3 0zM100 139l-1 -6l1 0l0 -1l6 0l0 -8l0 -15l0 -17l0 -18l1 0l0 -1l19 0l0 1l-4 17l8 9l-6 9l3 15l-5 0l-2 24l-15 1l1 2l-3 2l-2 7l1 3l0 1l-2 3l-24 2l-2 -5l-3 -4l-3 -2l-5 -2l-1 -2l-7 -2l-4 -2l-9 -1l-1 -1l0 -5l-3 -3l-4 -3l-6 -6l0 -3l0 -1l1 -1l21 -20l-3 -2l0 -6l0 -24l0 -1l32 0l0 1l-3 19l8 12l0 1l-9 18l13 9l4 4l8 6z" fill="#267300"/><use href="#b"/></g></g><g filter="url(#bl)"><g transform="translate(328.70 46.80) scale(0.2850 0.2891)"><path d="M7 31l0 -4l-1 -3l-3 -6l-3 -5l0 -3l6 2l9 0l5 0l1 4l1 4l0 1l0 -1l2 0l0 -2l-1 -7l-3 -7l276 0l0 -4l3 1l2 6l8 1l4 0l4 0l6 3l2 1l8 1l6 -1l13 2l-5 2l-10 5l-8 5l8 -1l3 -1l3 4l11 -3l7 -4l8 -2l-3 3l1 3l4 0l5 4l2 -1l9 -1l10 -1l4 3l5 0l0 5l-6 1l-8 -2l-10 2l-4 2l-1 0l-6 6l-3 4l0 1l2 -1l7 -6l-5 8l0 6l-2 4l-2 4l1 6l3 7l3 1l3 -1l1 0l3 -3l3 -5l0 -1l-3 -9l1 -2l2 -9l6 -3l0 -1l6 -6l3 -1l5 1l3 1l5 4l1 5l0 4l-5 4l2 2l0 1l7 -5l5 11l-1 4l-6 3l-1 3l-2 2l0 1l4 1l3 1l7 0l3 -1l4 -2l8 -2l8 -3l7 -4l1 -2l-1 -4l15 0l5 0l2 0l6 -3l-1 -5l5 -4l5 -4l6 -1l14 0l7 0l11 0l0 -1l1 -2l3 0l3 -1l4 -4l1 -1l1 -4l2 -4l8 -8l3 3l6 -2l5 3l1 0l0 12l3 3l0 4l5 4l-7 3l-7 2l-5 -1l-1 2l-2 2l-7 2l-4 2l-3 4l-2 1l-1 2l1 0l1 2l-2 2l-1 2l2 3l7 -1l1 4l-7 1l-5 1l-7 2l-8 0l-3 0l-7 3l-2 0l-1 0l0 3l3 -2l13 -2l4 0l-9 3l-11 2l-1 1l0 5l-4 6l-5 4l-4 -3l2 5l1 3l-2 3l-1 2l-6 8l-1 -4l1 -6l-1 -1l-1 -2l-2 -1l1 -3l1 -5l-3 2l-1 0l0 7l2 4l-1 0l-1 0l3 2l-1 3l0 6l1 0l2 1l2 3l1 4l2 9l-10 7l-1 0l-4 -1l-9 8l-6 0l-7 7l-1 1l-6 4l-2 2l-3 2l-4 3l-3 5l-3 8l1 6l0 3l4 8l2 3l2 2l2 10l3 7l-1 10l-3 6l-7 1l-6 -8l-1 -5l0 -1l-4 -3l-3 -6l-3 -5l1 -4l1 -1l-2 -6l-6 -7l-3 -3l-6 -1l-7 5l-4 -1l-3 -5l-8 -2l-10 1l-5 0l1 -2l-1 0l-1 1l-3 2l-12 0l-2 1l1 0l3 0l-2 4l2 3l4 2l-4 2l-6 -2l-8 1l-2 -1l-3 -1l-5 -2l-5 -1l-2 0l-7 -2l-6 1l-5 2l-4 1l-4 3l-3 2l-10 5l-3 3l-3 2l-3 6l-1 5l3 8l-4 1l-7 -2l-9 -3l-4 -11l-6 -6l-2 -2l-3 -8l-8 -7l-8 -1l-1 0l-1 1l-3 1l-4 7l-9 -3l-5 -4l-4 -9l-11 -8l-5 -4l-17 0l0 4l0 1l-28 0l-21 -7l-17 -5l1 -2l-24 2l-2 -5l-3 -4l-3 -2l-5 -2l-1 -2l-7 -2l-4 -2l-9 -1l-1 -1l0 -5l-3 -3l-4 -3l-6 -6l0 -3l0 -1l1 -1l-2 -2l-4 -2l-1 -3l0 -3l-5 -2l0 -3l-6 -5l-1 -1l-1 -9l-6 -6l3 -6l-1 -10l-2 -5l-1 -4l3 -6l1 -6l0 -4l2 -10zM492 96l0 1l1 0l0 -1z" fill="#E8990F"/><path d="M74 148l17 -11l1 0l8 6l0 -4l-1 -6l1 0l0 -1l6 0l0 -8l0 -15l0 -17l1 0l14 -1l4 -17l0 -1l1 0l11 0l0 1l0 9l6 0l14 0l0 1l0 21l0 19l0 18l-17 0l-8 11l-6 0l-1 0l-5 -5l-15 1l1 2l-3 2l-2 7l1 3l0 1l-2 3l-24 2l-2 -5l-3 -4l-1 0zM64 116l-4 14l0 1l-19 12l0 1l0 -1l-3 -3l-4 -3l-6 -6l0 -3l0 -1l1 -1l-2 -2l-4 -2l-1 -3l0 -3l-5 -2l0 -3l-6 -5l0 -1l15 -10l0 -21l1 0l0 -1l20 0l1 0l0 1l0 28l0 2l3 2zM247 114l-5 -5l-15 1l-1 0l0 -16l0 -10l-5 0l-14 0l-1 0l0 -20l1 0l0 -1l16 0l21 0l1 0l0 1l0 9l-6 5l2 15l2 0l14 0l15 0l0 -10l13 -8l-3 -6l-1 -10l0 -1l14 0l15 0l12 0l1 0l0 1l0 13l7 1l6 -7l1 0l4 2l5 4l0 1l0 3l10 6l2 -3l14 0l0 -3l3 1l3 -1l1 0l1 0l9 0l10 0l10 0l4 0l0 1l4 1l3 1l2 0l-2 7l3 5l-2 6l-4 2l-7 -3l-6 9l-1 0l-4 -2l0 -6l-10 -2l-4 4l0 1l-6 4l-7 -1l0 1l1 5l-5 6l-1 1l-1 1l-3 3l0 3l-1 0l-6 1l-4 -3l-7 -7l-8 6l-1 0l-12 -10l-4 0l-1 0l-5 -3l-12 1l0 4l-1 0l-14 -3l-4 2l-10 -4l-8 5l-7 -4zM248 21l10 -5l7 5l13 -5l1 3l1 6l2 9l0 1l-18 0l-16 0l0 -1zM241 17l-1 0l-7 4l-11 -4l-2 1l-13 -1l-1 0l0 -13l35 0zM339 171l-5 7l-1 0l-6 -2l-4 1l-6 -4l-1 0l1 -9l-10 0l-1 0l0 -5l-4 -1l0 -1l0 -3l0 -1l13 -3l5 6l9 -6l8 5l1 0l-2 9l1 5zM435 226l-6 4l0 -1l-4 -3l-3 -6l-3 -5l1 -4l1 -1l-2 -6l-6 -7l-3 -3l-6 -1l-7 5l-4 -1l-3 -5l-8 -2l-10 1l1 -4l-2 -1l0 -1l0 -1l0 -1l21 0l5 0l1 0l0 1l1 2l12 1l14 1l1 0l1 1l0 -3l6 0l0 1l1 6l0 3l4 8l2 3l1 0l-8 6l2 12zM410 128l0 -1l17 -9l1 0l7 3l9 -3l2 -3l1 0l7 9l8 -9l1 -1l8 3l8 -6l3 2l3 2l-1 3l0 6l1 0l2 1l2 3l0 1l-17 0l-18 -1l-19 0z" fill="#FFD37F"/><path d="M180 176l-15 0l0 4l0 1l-9 0l0 -22l0 -16l0 -19l1 0l0 -1l20 0l0 1l-1 17l7 7l0 1l-8 12zM237 160l-20 -1l0 -1l0 -29l0 -5l-15 0l-22 0l-2 -19l13 -13l0 -8l0 -1l1 0l35 0l0 1l0 16l0 10l15 -2l5 5l11 -5l7 3l8 -4l0 -1l10 4l3 -2l1 0l14 3l1 0l0 1l-1 12l-18 0l-17 0l-20 0l-6 0l-1 4l8 0l1 0l0 1l0 19l1 0l0 1l-11 11zM74 149l-14 -18l0 -1l3 -14l-16 -12l0 -6l29 -5l3 -19l0 -1l28 0l0 1l0 30l0 20l0 8l-7 1l0 6l1 5l-9 -7l-17 12zM241 94l-3 -16l6 -5l0 -9l-5 0l-18 0l-14 0l-1 0l0 -18l0 -12l1 0l19 0l19 0l19 0l0 12l0 1l-8 5l0 11l6 0l3 1l3 1l7 0l5 2l3 1l0 1l3 6l-13 8l0 11l-20 0zM248 22l-8 -5l0 -1l0 -12l56 0l0 -4l3 1l2 6l8 1l4 0l4 0l6 3l2 1l1 0l3 14l-1 1l-1 0l-2 1l0 5l-2 1l-4 3l1 4l-1 0l-2 1l-18 -2l1 -15l-8 -4l-13 3l0 -1l-1 -4l-1 -2l-12 5l-1 0l-6 -5zM308 197l2 -9l1 -3l0 -3l-2 -4l-1 -1l-1 -3l-1 0l0 -10l1 0l0 -1l10 0l0 1l0 9l6 4l4 -2l7 2l0 1l-2 5l4 0l14 0l0 1l-1 3l3 5l-1 0l-2 1l1 0l3 0l-2 4l2 3l4 2l-4 2l-6 -2l-8 1l-2 -1l-3 -1l-5 -2l-5 -1l-2 0l-7 -2l-6 1zM293 141l0 -1l10 -1l0 1l0 17l0 1l-1 0l-8 -3l-5 1l-1 0zM331 74l-1 0l-7 -1l-1 -14l0 -1l13 0l-1 -2l-6 -5l0 -1l7 -9l2 -1l9 6l0 8l7 6l0 9l-12 0l-4 -2l-6 6zM434 225l-2 -12l0 -1l8 -5l2 2l2 10l3 7l-1 10l-3 6l-7 1l-6 -8l-1 -5zM462 156l-12 -10l-2 0l-9 0l-2 -2l-2 -1l-11 -1l-1 1l-7 1l-12 0l0 -2l0 -1l12 -5l4 -1l7 -3l3 -4l1 0l6 0l8 0l16 0l16 0l12 0l1 4l2 9l-10 7l-1 0l-4 -1l-9 8l-6 0zM366 129l0 -2l-13 2l2 -5l1 0l0 -1l6 -1l0 -2l4 -4l1 -1l5 -6l-1 -5l0 -1l0 -1l1 0l7 2l5 -4l0 -1l0 -1l5 -4l10 3l1 0l0 6l4 1l5 2l0 1l-3 21l-8 0l-21 1l-10 0zM442 88l-1 2l-2 7l-3 2l-1 0l-5 -8l-7 0l-4 -5l2 -7l6 0l3 -1l4 -2l8 -2l1 0l0 12l0 2z" fill="#FFEBAF"/><path d="M214 174l1 0l0 -1l2 0l0 -15l20 2l11 -11l-1 0l0 -1l0 -10l0 -9l-8 0l0 -5l0 -1l1 0l19 0l15 0l14 0l13 0l0 1l1 0l0 5l1 11l-10 1l-4 15l-2 1l-6 -1l-2 0l-4 0l-5 -1l-1 20l-14 7l-1 0l-9 -4l-19 17l-1 0l-1 0l-1 1zM60 130l15 18l-4 12l0 1l0 -1l-3 -2l-5 -2l-1 -2l-7 -2l-4 -2l-9 -1l-1 -1l0 -5zM191 149l-9 0l-7 -8l2 -17l0 -1l19 0l21 0l1 0l0 1l0 5l0 13l-1 0l-20 -2zM122 91l-1 1l-14 1l0 -1l-1 0l0 -18l-3 0l4 -14l10 -3l4 5l1 0l-1 11l5 0l0 1zM351 192l-3 -5l1 -2l0 -1l-5 0l-13 0l2 -6l4 -6l1 -1l-2 -2l-1 -5l1 -3l1 -6l4 -7l0 -1l2 -1l3 -2l4 -10l2 -5l0 -1l1 0l14 -1l0 1l1 0l19 0l18 0l1 0l3 -21l-5 -2l-1 0l0 -1l7 -9l7 3l1 0l-2 8l1 0l1 0l3 3l4 -2l4 -3l1 0l0 1l-8 7l6 6l0 1l-16 8l19 1l-3 5l-1 0l-11 4l-8 4l-3 1l0 1l11 0l8 -2l4 1l9 1l3 2l11 0l2 2l9 8l-7 7l-1 1l-6 4l-2 2l-3 2l-4 3l-3 -1l-4 -9l-7 -6l-6 8l-1 0l-8 -3l-1 0l-2 -5l-2 -1l-10 3l-1 0l-1 -5l-8 4l-7 -2l-4 3l-1 0l-8 -2l-1 0l0 -1l-8 -1l-2 1l2 11l7 1l1 0l-1 6l0 6l1 9l0 2l-1 0z" fill="#E0FFBD"/><path d="M225 195l19 -17l1 0l10 3l14 -7l0 -20l6 1l6 0l6 1l7 -1l9 2l2 1l2 0l0 16l3 4l2 4l-1 6l-2 9l-5 2l-4 1l-4 3l-3 2l-10 5l-3 3l-3 2l-3 6l-1 5l3 8l-4 1l-7 -2l-9 -3l-4 -11l-6 -6l-2 -2l-3 -8l-8 -7zM174 161l0 -1l8 -12l9 0l6 -9l20 2l1 0l0 1l-1 14l0 18l-2 0l9 21l-1 1l-3 1l-4 7l-9 -3l-5 -4l-4 -9l-11 -8l-5 -4l-3 0zM372 185l2 2l-1 4l-1 0l-5 0l1 -2l-1 0l-1 1l-3 2l0 -2l-1 -15l0 -1l1 -5l-7 0l-1 0l0 -1l-2 -11l3 -2l9 1l0 1l8 2l5 -3l7 2l8 -4l1 0l0 1l1 4l9 -3l1 0l3 1l0 1l2 5l8 3l7 -8l0 -1l1 0l0 1l7 5l0 1l2 6l2 2l2 1l0 1l-3 5l-3 8l-5 0l-1 3l0 1l0 -1l-1 0l-1 -1l-14 -1l-12 -1l-1 0l-1 -3l-13 0l-9 0l-3 0z" fill="#A3FF73"/><use href="#b"/></g></g><g filter="url(#bl)"><g transform="translate(498.40 46.74) scale(0.2982 0.3054)"><path d="M7 31l0 -4l-1 -3l-3 -6l-3 -5l0 -3l6 2l9 0l5 0l1 4l1 4l0 1l0 -1l2 0l0 -2l-1 -7l-3 -7l276 0l0 -4l3 1l2 6l8 1l4 0l4 0l6 3l2 1l8 1l6 -1l13 2l-5 2l-10 5l-8 5l8 -1l3 -1l3 4l11 -3l7 -4l8 -2l-3 3l1 3l4 0l5 4l2 -1l9 -1l10 -1l4 3l5 0l0 5l-6 1l-8 -2l-10 2l-4 2l-1 0l-6 6l-3 4l0 1l2 -1l7 -6l-5 8l0 6l-2 4l-2 4l1 6l3 7l3 1l3 -1l1 0l3 -3l3 -5l0 -1l-3 -9l1 -2l2 -9l6 -3l0 -1l6 -6l3 -1l5 1l3 1l5 4l1 5l0 4l-5 4l2 2l0 1l7 -5l5 11l-1 4l-6 3l-1 3l-2 2l0 1l4 1l3 1l7 0l3 -1l4 -2l8 -2l8 -3l7 -4l1 -2l-1 -4l15 0l5 0l2 0l6 -3l-1 -5l5 -4l5 -4l6 -1l14 0l7 0l11 0l0 -1l1 -2l3 0l3 -1l4 -4l1 -1l1 -4l2 -4l8 -8l3 3l6 -2l5 3l1 0l0 12l3 3l0 4l5 4l-7 3l-7 2l-5 -1l-1 2l-2 2l-7 2l-4 2l-3 4l-2 1l-1 2l1 0l1 2l-2 2l-1 2l2 3l7 -1l1 4l-7 1l-5 1l-7 2l-8 0l-3 0l-7 3l-2 0l-1 0l0 3l3 -2l13 -2l4 0l-9 3l-11 2l-1 1l0 5l-4 6l-5 4l-4 -3l2 5l1 3l-2 3l-1 2l-6 8l-1 -4l1 -6l-1 -1l-1 -2l-2 -1l1 -3l1 -5l-3 2l-1 0l0 7l2 4l-1 0l-1 0l3 2l-1 3l0 6l1 0l2 1l2 3l1 4l2 9l-10 7l-1 0l-4 -1l-9 8l-6 0l-7 7l-1 1l-6 4l-2 2l-3 2l-4 3l-3 5l-3 8l1 6l0 3l4 8l2 3l2 2l2 10l3 7l-1 10l-3 6l-7 1l-6 -8l-1 -5l0 -1l-4 -3l-3 -6l-3 -5l1 -4l1 -1l-2 -6l-6 -7l-3 -3l-6 -1l-7 5l-4 -1l-3 -5l-8 -2l-10 1l-5 0l1 -2l-1 0l-1 1l-3 2l-12 0l-2 1l1 0l3 0l-2 4l2 3l4 2l-4 2l-6 -2l-8 1l-2 -1l-3 -1l-5 -2l-5 -1l-2 0l-7 -2l-6 1l-5 2l-4 1l-4 3l-3 2l-10 5l-3 3l-3 2l-3 6l-1 5l3 8l-4 1l-7 -2l-9 -3l-4 -11l-6 -6l-2 -2l-3 -8l-8 -7l-8 -1l-1 0l-1 1l-3 1l-4 7l-9 -3l-5 -4l-4 -9l-11 -8l-5 -4l-17 0l0 4l0 1l-28 0l-21 -7l-17 -5l1 -2l-24 2l-2 -5l-3 -4l-3 -2l-5 -2l-1 -2l-7 -2l-4 -2l-9 -1l-1 -1l0 -5l-3 -3l-4 -3l-6 -6l0 -3l0 -1l1 -1l-2 -2l-4 -2l-1 -3l0 -3l-5 -2l0 -3l-6 -5l-1 -1l-1 -9l-6 -6l3 -6l-1 -10l-2 -5l-1 -4l3 -6l1 -6l0 -4l2 -10zM492 96l0 1l1 0l0 -1z" fill="#FFEBAF"/><path d="M289 88l-1 -1l0 -5l-2 -5l-1 -2l-3 -6l-1 -10l0 -1l1 0l0 -17l0 -1l-3 -2l-1 0l3 -4l-2 -9l0 -2l-1 -4l-2 -5l-1 -10l21 0l0 -4l3 1l2 6l8 1l4 0l4 0l6 3l2 1l8 1l6 -1l13 2l-5 2l-10 5l-8 5l8 -1l3 -1l3 4l11 -3l7 -4l8 -2l-3 3l1 3l4 0l5 4l2 -1l9 -1l10 -1l4 3l5 0l0 5l-6 1l-8 -2l-10 2l-4 2l-1 0l-6 6l-3 4l0 1l2 -1l7 -6l-5 8l0 6l-2 4l-2 4l1 6l1 0l-1 0l-16 0l-1 -9l-7 -5l-10 5l0 -1l-12 0l0 14l-2 1l-10 -1l-5 15l-4 0l-12 0zM300 40l-1 18l11 0l3 0l4 -16l2 -2l-1 -3l0 -1l4 -2l-13 -12l-9 3l-1 15zM119 49l-2 9l-10 3l0 -1l-9 -8l-8 6l-13 -1l0 -1l0 -1l1 -3l-3 -2l0 -1l3 -5l4 -6l-4 -4l-11 0l-10 0l-3 1l-12 2l-5 1l-2 0l-7 -1l-4 2l-5 -2l-1 -4l-2 0l-3 -1l-6 0l0 -1l0 -4l-1 -3l-3 -6l-3 -5l0 -3l6 2l9 0l5 0l1 4l1 4l0 1l0 -1l2 0l0 -2l-1 -7l-3 -7l67 0l0 10l3 5l8 6l2 1l4 1l-1 11l6 0l1 0l0 1l0 1l3 4l4 5zM462 128l-1 9l0 1l-10 3l-2 5l-1 0l-9 0l-2 -2l-2 -1l-11 -1l-1 1l-1 0l0 -1l-2 -7l7 -3l3 -4l-19 0l-5 0l3 -21l0 -1l1 1l7 -1l1 0l3 3l4 -2l4 -3l3 -3l0 -1l6 -3l2 -7l2 -3l0 -1l0 -12l8 -3l7 -4l1 -2l-1 -4l15 0l5 0l2 0l6 -3l-1 -5l5 -4l5 -4l6 -1l14 0l7 0l11 0l0 -1l1 -2l3 0l3 -1l4 -4l1 -1l1 -4l2 -4l8 -8l3 3l6 -2l5 3l1 0l0 12l3 3l0 4l5 4l-7 3l-7 2l-5 -1l-1 2l-2 2l-7 2l-4 2l-3 4l-2 1l-1 2l1 0l1 2l-2 2l-1 2l2 3l7 -1l1 4l-7 1l-5 1l-7 2l-8 0l-3 0l-7 3l-2 0l-1 0l-8 -3l-3 3l-1 2l0 1l4 5l-6 4l-1 0l-1 0l-1 0l-1 1l-1 0l-4 0l-13 0l1 -12l1 0l1 -1l9 2l2 -2l1 -10l-9 0l-13 0l-11 0l-1 11l9 0l0 1l2 10l2 0l1 1l-1 0l3 0l0 1l1 2l0 1l-1 2l-5 1l-5 2l-1 1l-7 1l-1 2l-5 9l-1 0l-3 1l-6 2l0 6l2 0l8 0l16 0zM336 119l1 0l8 -6l1 0l7 8l3 2l0 1l-2 5l-1 0l-2 5l-1 0l-6 0l-1 0l2 -5l-10 0zM356 108l1 -4l-5 -11l3 -4l0 -7l3 -3l14 0l0 14l0 7l0 4l1 5l-5 6l-1 1l-1 1l-1 0zM396 58l-1 0l-12 -1l-1 0l1 -1l2 -9l6 -3l0 -1l6 -6l3 -1l5 1l3 1l5 4l1 5l0 4l-5 4l-1 0l-6 -4l-3 0zM507 88l0 -1l1 0l3 -2l13 -2l4 0l-9 3l-11 2z" fill="#E8990F"/><path d="M126 152l-10 22l-17 -5l1 -2l-24 2l-2 -5l-3 -4l-1 0l4 -12l17 -11l1 0l8 6l0 -4l-1 -6l1 0l0 -1l6 0l1 -8l0 -1l15 0l0 1l-2 24zM7 31l6 0l5 1l1 0l0 1l1 3l3 1l1 1l4 -1l6 0l1 0l7 -1l6 -1l0 1l4 17l0 1l-1 0l-10 5l1 14l5 0l32 0l0 1l-3 19l-28 5l0 4l-1 0l-20 -6l-15 10l-1 0l-1 -1l-1 -9l-6 -6l3 -6l-1 -10l-2 -5l-1 -4l3 -6l1 -6l0 -4l2 -10zM314 59l-1 0l-15 0l1 -19l1 -15l9 -4l14 12l0 1l-4 3l1 4l-1 0l-1 1zM280 25l2 9l0 1l-18 0l0 -1l0 -12l-6 -5l-1 -13l18 0l2 10l1 2l1 3zM324 141l1 -12l0 -1l12 0l9 0l0 1l-2 4l6 0l1 0l0 1l-4 10l-2 2l-3 2l-4 7l-2 9l-16 0l-13 0l-1 0l0 -5l-4 -1l0 -1l0 -3l0 -1l13 -3l5 6l9 -5l-1 -8zM366 116l1 -1l5 -6l-1 -5l0 -1l1 -3l0 -9l0 -15l3 1l3 -1l1 0l3 -3l3 -5l0 -1l-3 -9l1 -2l12 1l3 -6l1 0l3 -1l7 4l0 1l2 2l0 1l7 -5l5 11l-1 4l-6 3l-1 3l-2 2l0 1l-13 0l0 9l0 11l-1 6l-5 4l-1 1l-3 3l-6 3l-3 1l-3 0l-7 0zM346 73l0 3l-1 2l0 1l-1 0l-7 1l0 2l0 1l-1 0l0 -1l-6 -8l-7 -1l-1 -14l0 -1l13 0l0 1l1 0l9 -5l1 0l7 6l0 9l-11 0l4 3zM442 88l-1 2l-2 7l-3 2l-1 0l-5 -8l-7 0l-4 -5l2 -7l6 0l3 -1l4 -2l8 -2l1 0l0 12l0 2zM473 97l-1 0l-8 0l-1 0l-1 -11l-9 0l-1 -1l1 -11l0 -1l10 0l13 0l11 0l1 1l-1 10l0 1l-2 2l-1 0l-9 -2l-1 0z" fill="#FFD37F"/><path d="M309 178l-1 -1l-1 -3l-1 0l0 -10l1 0l0 -1l10 0l11 0l8 0l0 1l1 5l2 2l-5 7l-2 5l4 0l0 1l1 0l-1 0l-1 3l4 9l-2 6l-3 -1l-5 -2l-5 -1l-2 0l-7 -2l-6 1l-1 0l2 -9l1 -3l0 -3zM119 148l2 -24l0 -1l1 0l4 0l-3 -14l0 -1l7 -8l0 -1l4 0l8 -15l0 -1l1 0l14 0l0 1l0 21l0 19l0 18l-17 0l-8 11l-6 0l-1 0zM107 132l-7 1l0 6l1 5l-14 -10l-13 -10l9 -19l-7 -12l3 -19l0 -1l28 0l0 1l0 30l0 20zM301 108l0 -6l-3 -6l-4 -2l-21 0l-1 0l0 -11l13 -9l1 0l0 1l1 2l2 5l0 5l1 1l15 0l6 -15l10 1l2 -2l8 1l6 9l0 4l-4 4l0 4l1 1l1 1l1 0l0 1l-1 0l-11 13l-4 0l-1 0l-5 -3zM283 59l-1 0l1 10l-3 -1l-5 -2l-6 0l-1 0l-6 -2l-7 0l0 -12l0 -1l8 -5l1 -12l18 0l0 1l-3 3l4 2l0 1l0 8zM137 49l-5 0l-8 0l-7 1l-4 -5l-1 0l-3 -6l-6 0l-1 0l0 -1l1 -7l1 -3l-4 -1l-10 -7l-4 -6l0 -10l66 0l0 13l22 13l0 1l1 0l-1 13l-1 0l-33 0l-3 0zM462 156l-12 -10l-2 0l2 -5l0 -1l10 -3l1 -8l-7 -1l-19 0l-1 0l0 -7l1 0l9 -3l2 -3l4 -7l1 0l0 -1l7 -1l2 -1l3 10l8 2l8 -6l3 2l3 2l-1 3l0 6l1 0l2 1l2 3l1 4l2 9l-10 7l-1 0l-4 -1l-9 8l-6 0zM423 142l0 1l-7 1l-12 0l0 -2l0 -1l12 -5l4 -1l1 0zM366 129l0 -2l-13 2l2 -5l1 0l0 -1l6 -1l0 -2l4 -4l0 -1l5 -1l6 0l1 0l6 -1l6 -3l0 1l8 17l-21 1l-10 0z" fill="#E0FFBD"/><path d="M343 173l-6 0l0 -1l1 -1l-2 -2l-1 -5l1 -3l1 -6l4 -7l0 -1l2 -1l3 -2l4 -10l2 -5l0 -1l1 0l14 -1l0 1l1 0l19 0l18 0l5 -1l1 0l20 1l-3 5l-1 0l-11 4l-8 4l-3 1l-1 2l-13 0l-4 0l-9 0l1 12l6 2l8 -4l1 0l0 1l2 10l1 5l1 1l-1 8l1 5l-1 0l-13 0l-9 0l-6 -9l-6 0l0 6l0 1l-9 -1l-3 -10l-4 0zM74 149l-14 -18l-19 12l0 1l0 -1l-3 -3l-4 -3l-6 -6l0 -3l0 -1l1 -1l-2 -2l-4 -2l-1 -3l0 -3l-5 -2l0 -3l-6 -5l0 -1l16 -10l20 6l0 -3l29 -5l8 12l0 1l-9 18l13 9l4 4l-17 12zM239 51l0 13l-18 0l-14 0l-1 0l0 -18l0 -2l-33 0l1 -13l-22 -13l0 -14l106 0l1 13l6 4l-1 13l0 1l-16 0l-15 0l-6 0l-1 12zM429 230l0 -1l-4 -3l-3 -6l-3 -5l1 -4l1 -1l-2 -6l15 -11l0 3l4 8l2 3l2 2l2 10l3 7l-12 0z" fill="#A3FF73"/><path d="M157 159l0 1l0 21l-20 0l-21 -7l9 -22l1 0l6 0l9 9zM217 174l-22 0l-13 0l0 2l-3 0l-5 -15l0 -1l8 -12l9 0l6 -9l20 2l1 0l0 1l-1 14zM60 130l15 18l-4 12l0 1l0 -1l-3 -2l-5 -2l-1 -2l-7 -2l-4 -2l-9 -1l-1 -1l0 -5zM176 141l-1 0l-18 2l-1 0l0 -19l1 0l0 -1l20 0l0 1zM127 124l-20 0l-1 0l0 -15l0 -17l0 -18l1 0l0 -1l19 0l11 0l0 1l0 9l6 0l0 1l-8 16l-1 0l-4 0l-6 9zM180 124l-2 -19l13 -13l0 -8l0 -1l1 0l14 0l0 -19l1 0l0 -1l16 0l21 0l18 0l3 1l3 1l7 0l5 2l3 1l0 1l3 6l-13 8l0 10l15 0l1 0l0 1l-2 14l-4 3l-10 -4l-1 0l0 -13l-19 0l2 -14l-11 -7l-5 6l-1 0l-12 -1l-4 5l5 0l0 1l0 9l16 0l0 1l1 0l-2 14l5 5l0 11l-1 0l-19 0l-25 0zM273 205l7 -23l-11 -7l0 -21l6 1l6 0l6 1l7 -1l9 2l2 1l2 0l0 16l3 4l2 4l-1 6l-2 9l-5 2l-4 1l-4 3l-3 2l-10 5l-3 3l-7 -7zM363 192l0 -2l-1 -15l0 -1l1 0l6 1l6 8l17 0l5 0l-1 -4l1 -6l0 -2l-2 -6l-1 -5l-1 -5l-8 4l-7 -3l0 -12l0 -1l13 1l11 0l2 0l12 -1l8 -2l4 1l9 1l3 2l11 0l2 2l9 8l-7 7l-1 1l-6 4l-2 2l-3 2l-4 3l-3 5l-3 8l1 6l0 1l-14 10l-1 0l-6 -7l-3 -3l-6 -1l-7 5l-4 -1l-3 -5l-8 -2l-10 1l-5 0l1 -2l-1 0l-1 1zM399 102l5 2l5 2l0 1l-3 21l-8 0l-1 0l-8 -17l1 0l0 -1l3 -4zM434 225l13 0l0 1l-1 10l-3 6l-7 1l-6 -8l-1 -5z" fill="#55FF00"/><path d="M181 174l0 -1l34 0l2 0l0 -15l0 -16l-20 -2l-6 9l-9 0l-7 12l5 15l-15 0l0 4l0 1l-9 0l0 -22l0 -16l0 -1l1 0l18 -1l2 -17l0 -1l19 0l21 0l23 0l6 0l1 -9l-6 -5l0 -1l2 -14l-2 0l-14 0l-1 0l0 -10l-5 0l5 -7l12 1l6 -5l1 0l11 7l-2 13l3 0l15 0l0 1l1 13l10 3l3 -2l2 -14l0 -1l6 0l4 2l1 0l0 1l3 6l0 10l0 12l0 5l1 11l0 17l0 1l-1 0l-8 -3l-5 1l-2 1l-6 -1l-2 0l-4 0l-5 -1l-1 20l-14 7l-1 0l-9 -4l-19 17l-1 0l-1 0l-1 1l-3 1l-4 7l-9 -3l-5 -4l-4 -9l-11 -8l-5 -4zM256 64l-1 0l-16 0l-1 0l0 -12l-12 -5l-1 0l1 -13l19 0l19 0l0 12l0 1l-8 5z" fill="#38A800"/><path d="M281 212l-1 1l-3 2l-3 6l-1 5l3 8l-4 1l-7 -2l-9 -3l-4 -11l-6 -6l-2 -2l-3 -8l-8 -7l-8 -1l19 -17l1 0l10 3l14 -7l12 8l-7 23z" fill="#267300"/><use href="#b"/></g></g><g filter="url(#bl)"><g transform="translate(684.20 49.15) scale(0.2750 0.2774)"><path d="M7 31l0 -4l-1 -3l-3 -6l-3 -5l0 -3l6 2l9 0l5 0l1 4l1 4l0 1l0 -1l2 0l0 -2l-1 -7l-3 -7l276 0l0 -4l3 1l2 6l8 1l4 0l4 0l6 3l2 1l8 1l6 -1l13 2l-5 2l-10 5l-8 5l8 -1l3 -1l3 4l11 -3l7 -4l8 -2l-3 3l1 3l4 0l5 4l2 -1l9 -1l10 -1l4 3l5 0l0 5l-6 1l-8 -2l-10 2l-4 2l-1 0l-6 6l-3 4l0 1l2 -1l7 -6l-5 8l0 6l-2 4l-2 4l1 6l3 7l3 1l3 -1l1 0l3 -3l3 -5l0 -1l-3 -9l1 -2l2 -9l6 -3l0 -1l6 -6l3 -1l5 1l3 1l5 4l1 5l0 4l-5 4l2 2l0 1l7 -5l5 11l-1 4l-6 3l-1 3l-2 2l0 1l4 1l3 1l7 0l3 -1l4 -2l8 -2l8 -3l7 -4l1 -2l-1 -4l15 0l5 0l2 0l6 -3l-1 -5l5 -4l5 -4l6 -1l14 0l7 0l11 0l0 -1l1 -2l3 0l3 -1l4 -4l1 -1l1 -4l2 -4l8 -8l3 3l6 -2l5 3l1 0l0 12l3 3l0 4l5 4l-7 3l-7 2l-5 -1l-1 2l-2 2l-7 2l-4 2l-3 4l-2 1l-1 2l1 0l1 2l-2 2l-1 2l2 3l7 -1l1 4l-7 1l-5 1l-7 2l-8 0l-3 0l-7 3l-2 0l-1 0l0 3l3 -2l13 -2l4 0l-9 3l-11 2l-1 1l0 5l-4 6l-5 4l-4 -3l2 5l1 3l-2 3l-1 2l-6 8l-1 -4l1 -6l-1 -1l-1 -2l-2 -1l1 -3l1 -5l-3 2l-1 0l0 7l2 4l-1 0l-1 0l3 2l-1 3l0 6l1 0l2 1l2 3l1 4l2 9l-10 7l-1 0l-4 -1l-9 8l-6 0l-7 7l-1 1l-6 4l-2 2l-3 2l-4 3l-3 5l-3 8l1 6l0 3l4 8l2 3l2 2l2 10l3 7l-1 10l-3 6l-7 1l-6 -8l-1 -5l0 -1l-4 -3l-3 -6l-3 -5l1 -4l1 -1l-2 -6l-6 -7l-3 -3l-6 -1l-7 5l-4 -1l-3 -5l-8 -2l-10 1l-5 0l1 -2l-1 0l-1 1l-3 2l-12 0l-2 1l1 0l3 0l-2 4l2 3l4 2l-4 2l-6 -2l-8 1l-2 -1l-3 -1l-5 -2l-5 -1l-2 0l-7 -2l-6 1l-5 2l-4 1l-4 3l-3 2l-10 5l-3 3l-3 2l-3 6l-1 5l3 8l-4 1l-7 -2l-9 -3l-4 -11l-6 -6l-2 -2l-3 -8l-8 -7l-8 -1l-1 0l-1 1l-3 1l-4 7l-9 -3l-5 -4l-4 -9l-11 -8l-5 -4l-17 0l0 4l0 1l-28 0l-21 -7l-17 -5l1 -2l-24 2l-2 -5l-3 -4l-3 -2l-5 -2l-1 -2l-7 -2l-4 -2l-9 -1l-1 -1l0 -5l-3 -3l-4 -3l-6 -6l0 -3l0 -1l1 -1l-2 -2l-4 -2l-1 -3l0 -3l-5 -2l0 -3l-6 -5l-1 -1l-1 -9l-6 -6l3 -6l-1 -10l-2 -5l-1 -4l3 -6l1 -6l0 -4l2 -10zM492 96l0 1l1 0l0 -1z" fill="#E8990F"/><path d="M320 164l-13 0l-1 0l0 -5l-4 -1l0 -1l0 -3l1 -13l0 -1l10 -1l1 0l2 3l8 -2l1 0l3 2l0 1l2 8l-1 0l-8 6zM367 129l-1 0l0 -2l-13 2l2 -5l1 0l0 -1l6 -1l0 -2l3 -3l-9 -9l1 -4l0 -1l1 0l14 -4l0 1l0 3l7 1l5 -4l1 0l7 7l1 0l0 1l-3 3l8 17l-21 1zM300 40l-1 19l-1 0l-15 0l-1 0l0 -18l0 -1l-3 -2l-1 0l3 -4l-2 -9l0 -2l-1 -4l-2 -5l-1 -10l19 0l-2 16l8 5l-1 15zM90 19l8 6l0 1l-9 13l-7 0l0 -1l-4 -4l-1 -4l0 -7zM478 111l-4 -1l2 -4l-1 -1l-3 -2l-2 -2l-1 -3l-3 0l-3 0l-6 2l-4 2l-1 0l0 -5l0 -1l14 0l15 0l8 0l2 -1l1 0l0 1l0 1l1 0l0 -1l0 -1l4 -2l2 -1l-1 -2l-3 -3l1 -3l4 -4l8 3l1 0l0 1l-1 0l0 3l0 1l-1 1l0 5l-4 6l-5 4l-4 -3l2 5l1 3l-2 3l-1 2l-6 8l-1 -4l1 -6l-1 -1l-1 -2l-2 -1l1 -3l1 -5l-3 2l-1 0l0 7l2 4l-1 0l-1 0z" fill="#FFD37F"/><path d="M307 174l-1 0l0 -10l1 0l0 -1l10 0l11 0l0 1l-1 11l0 1l-4 1l-2 9l3 4l10 -3l2 -3l0 -1l14 0l0 1l-1 3l3 5l-1 0l-2 1l1 0l3 0l-2 4l2 3l4 2l-4 2l-6 -2l-8 1l-2 -1l-3 -1l-5 -2l-5 -1l-2 0l-7 -2l-6 1l-1 0l2 -9l1 -3l0 -3l-2 -4l-1 -1zM303 141l0 -1l-2 -11l0 -1l12 0l12 0l12 0l9 0l0 1l-2 4l6 0l2 -4l0 -1l1 0l14 -1l0 1l1 0l19 0l1 16l-1 0l-19 0l-3 0l-19 0l-1 2l-3 2l-4 7l-1 0l0 1l0 -1l-8 -4l-1 -8l-4 -2l-8 2l0 -1l-3 -2zM302 88l-12 0l-1 0l-1 -1l0 -5l-2 -5l-1 -2l-3 -6l-2 -1l-5 -2l-6 0l-1 0l-6 -2l-7 0l0 -12l-10 -5l-1 0l0 -1l0 -12l1 0l19 0l18 0l0 1l-3 3l4 2l0 1l0 8l0 9l12 0l3 0l1 -18l1 -15l9 -4l14 12l0 1l-4 3l1 4l0 3l0 2l7 3l1 0l7 6l0 4l-22 0l-3 0l-1 12l-12 0l-1 1zM35 30l7 -10l4 -1l3 -15l28 0l0 13l0 13l1 4l-11 0l-10 0l-3 1l-12 2l-5 1l-1 0zM474 140l-9 1l-1 0l-3 -3l-1 0l0 -1l1 -9l16 0l12 0l1 4l2 9l-10 7l-1 0l-1 0zM399 102l5 2l5 2l0 1l-3 21l-8 0l-1 0l-8 -17l1 0l0 -1l3 -4z" fill="#FFEBAF"/><path d="M140 162l-8 -9l-6 0l-1 0l-6 -5l2 -24l0 -1l1 0l4 0l-3 -14l0 -1l6 -8l-8 -9l4 -17l0 -1l1 0l11 0l0 1l0 9l6 0l14 0l35 0l0 1l0 8l0 1l-13 13l1 18l-3 0l-1 17l7 7l0 1l-8 12l-18 -2l0 1zM265 112l7 -5l0 -13l0 -1l16 0l5 0l-4 -5l1 0l25 -1l15 0l3 3l0 4l1 1l1 1l6 6l0 2l4 1l1 0l0 1l0 2l-2 4l2 1l0 1l-9 6l-1 0l-12 -10l-4 0l-1 0l-5 -3l-12 1l0 4l-1 12l-18 0l-17 0zM279 19l1 6l2 9l0 1l-18 0l-16 0l0 -1l0 -12l-8 -5l0 -1l0 -12l35 0l2 10l1 2zM351 192l-3 -5l1 -2l0 -1l-5 0l-8 0l-1 3l-11 3l-1 0l-3 -4l3 -9l3 -2l1 -11l-7 0l-1 0l1 -8l9 -6l8 5l4 -7l0 -1l2 -1l3 -3l10 0l9 0l1 0l0 1l1 1l-2 12l-1 12l-1 6l0 6l1 9l0 2l-1 0zM439 174l-3 -1l-4 -9l-7 -6l-1 -1l-6 -8l-10 9l-1 0l-2 -1l-10 3l-1 0l-3 -16l-4 0l-1 -16l1 0l18 0l1 0l2 12l0 1l-3 1l0 1l11 0l8 -2l4 1l9 1l3 2l8 0l2 -4l-5 -13l9 0l0 -3l0 -1l8 -9l-3 -9l0 -1l1 0l4 -2l5 -1l1 -2l3 2l4 3l0 1l-2 4l3 0l1 1l3 2l3 2l-1 3l0 6l1 0l2 1l2 3l0 1l-17 0l-10 0l-1 8l4 4l10 -1l6 7l0 1l-4 -1l-9 8l-6 0l-7 7l-1 1l-6 4l-2 2l-3 2z" fill="#E0FFBD"/><path d="M51 106l0 1l-22 20l-1 0l1 -1l-2 -2l-4 -2l-1 -3l0 -3l-5 -2l0 -3l-6 -5l-1 -1l-1 -9l-6 -6l3 -6l-1 -10l0 -1l16 0l2 -14l-6 -5l0 -1l6 -15l0 -1l1 1l4 -1l6 0l1 0l7 -1l6 -1l6 -1l3 -1l7 0l14 0l5 4l0 1l-4 7l-3 4l2 2l0 1l0 3l-1 1l13 2l7 -7l1 0l9 9l10 -3l2 -8l5 -1l8 0l5 1l0 12l0 3l9 0l8 -11l1 0l12 8l1 0l-4 8l7 15l-21 0l-13 0l-1 0l0 -10l-16 0l-17 0l-10 0l-16 0l-17 0l-12 0l0 28l0 2zM77 23l0 -19l10 0l0 10l3 5l0 1zM374 187l-1 4l-1 0l-5 0l1 -2l-1 0l-1 1l-3 2l0 -2l-1 -15l0 -1l2 -16l2 -13l-1 -1l0 -1l13 0l13 1l1 0l2 11l1 4l9 -3l1 0l3 1l10 -8l1 0l7 9l7 5l0 1l2 6l-11 5l-4 -2l-8 6l-1 0l-7 -6l-6 0l-1 6l1 5l-1 0l-13 0l-9 0l-3 0l0 1z" fill="#A3FF73"/><path d="M132 152l9 9l-4 20l-21 -7l-17 -5l1 -2l0 -1l2 -3l-2 -3l3 -7l0 -1l2 -1l-2 -2l0 -1l1 0l16 -1l6 5zM107 132l-7 1l0 6l1 5l-14 -10l-13 -10l-5 -3l-22 -17l0 -6l0 -24l0 -1l32 0l28 0l0 1l0 30l0 20zM227 124l-1 0l0 -14l1 0l14 -2l2 -14l0 -1l10 0l2 -13l-11 -7l0 -9l0 -1l18 0l3 1l3 1l7 0l5 2l3 1l0 1l3 6l1 2l2 5l0 5l1 1l5 6l-1 0l-21 0l-1 0l1 13l-7 5l1 11l7 0l14 0l1 0l0 1l-1 13l5 4l-4 15l-2 1l-6 -1l-2 0l-4 0l-7 -2l-7 -1l0 -1l4 -12l-8 -6l1 -10l-12 0zM190 64l2 0l15 -2l0 1l0 21l-12 0l-19 0l-5 0l-8 -14l0 -1l4 -8l4 -2l1 0l11 6zM155 53l0 1l-9 11l-9 0l-1 -1l0 -15l-4 0l-8 0l-7 1l-4 -5l-1 0l-3 -6l-6 0l-1 0l0 -1l1 -7l1 -3l-4 -1l-10 -7l-4 -6l0 -10l95 0l0 19l0 1l-6 7l-1 13l-1 0l-20 0zM420 210l1 0l11 2l8 -5l2 2l2 10l3 7l-1 10l-3 6l-7 1l-6 -8l-1 -5l0 -1l-4 -3l-3 -6l-3 -5l1 -4zM372 191l1 -4l-2 -1l0 -1l0 -1l0 -1l21 0l0 1l-2 8l-8 -2z" fill="#55FF00"/><path d="M140 161l16 -2l1 0l0 -1l18 2l7 -11l-7 -8l2 -17l0 -1l3 0l-2 -18l13 -13l0 -8l0 -1l1 0l14 0l0 -19l0 -1l-14 2l-1 0l-1 0l-7 1l-1 0l-11 -6l-4 2l-13 -8l0 -1l-2 -9l0 -1l21 0l1 -12l0 -1l6 -7l0 -19l61 0l0 12l8 5l0 13l0 1l-1 0l-3 0l0 11l11 5l0 1l0 12l-1 0l-10 0l0 9l11 7l-2 14l-1 0l-9 0l-2 15l-15 1l0 14l-9 0l0 5l0 13l-1 14l0 18l-2 0l9 21l-1 1l-3 1l-4 7l-9 -3l-5 -4l-4 -9l-11 -8l-5 -4l-17 0l0 4l0 1l-28 0l-1 -1zM100 139l-1 -6l1 0l0 -1l6 0l1 -8l0 -1l15 0l0 1l-2 24l-15 1l1 2l-3 2l-2 7l1 3l0 1l-2 3l-24 2l-2 -5l-3 -4l-3 -2l-5 -2l-1 -2l-7 -2l-4 -2l-9 -1l-1 -1l0 -5l-3 -3l-4 -3l-6 -6l0 -3l0 -1l1 -1l21 -20l1 0l13 10l6 4l18 13l4 4l8 6zM432 213l-12 -2l1 -1l-2 -6l-6 -7l-3 -3l-6 -1l-7 5l-4 -1l-3 -5l-1 0l2 -8l0 -1l1 0l5 0l-1 -4l1 -6l7 -1l8 6l8 -6l1 0l3 2l11 -5l0 1l2 2l2 1l0 1l-3 5l-3 8l1 6l0 3l4 8l2 3l1 0l-8 6zM273 205l7 -23l-11 -7l0 -21l6 1l6 0l6 1l7 -1l9 2l2 1l2 0l0 16l3 4l2 4l-1 6l-2 9l-5 2l-4 1l-4 3l-3 2l-10 5l-3 3l-7 -7z" fill="#38A800"/><path d="M223 196l-9 -22l1 0l0 -1l2 0l0 -15l0 -29l0 -5l0 -1l23 0l19 0l0 1l-1 10l8 6l-4 12l6 1l1 1l1 0l-1 20l12 8l-7 23l7 7l-1 1l-3 2l-3 6l-1 5l3 8l-4 1l-7 -2l-9 -3l-4 -11l-6 -6l-2 -2l-3 -8l-8 -7l-8 -1l-1 0zM127 124l-20 0l-1 0l0 -15l0 -17l0 -18l1 0l0 -1l19 0l0 1l-4 17l8 9l-6 9zM303 157l0 1l-1 0l-8 -3l-5 1l-1 0l5 -15l-6 -4l1 -13l0 -1l13 0l0 1l1 0l0 5l1 11z" fill="#267300"/><use href="#b"/></g></g><g filter="url(#bl)"><g transform="translate(857.70 50.97) scale(0.2669 0.2699)"><path d="M7 31l0 -4l-1 -3l-3 -6l-3 -5l0 -3l6 2l9 0l5 0l1 4l1 4l0 1l0 -1l2 0l0 -2l-1 -7l-3 -7l276 0l0 -4l3 1l2 6l8 1l4 0l4 0l6 3l2 1l8 1l6 -1l13 2l-5 2l-10 5l-8 5l8 -1l3 -1l3 4l11 -3l7 -4l8 -2l-3 3l1 3l4 0l5 4l2 -1l9 -1l10 -1l4 3l5 0l0 5l-6 1l-8 -2l-10 2l-4 2l-1 0l-6 6l-3 4l0 1l2 -1l7 -6l-5 8l0 6l-2 4l-2 4l1 6l3 7l3 1l3 -1l1 0l3 -3l3 -5l0 -1l-3 -9l1 -2l2 -9l6 -3l0 -1l6 -6l3 -1l5 1l3 1l5 4l1 5l0 4l-5 4l2 2l0 1l7 -5l5 11l-1 4l-6 3l-1 3l-2 2l0 1l4 1l3 1l7 0l3 -1l4 -2l8 -2l8 -3l7 -4l1 -2l-1 -4l15 0l5 0l2 0l6 -3l-1 -5l5 -4l5 -4l6 -1l14 0l7 0l11 0l0 -1l1 -2l3 0l3 -1l4 -4l1 -1l1 -4l2 -4l8 -8l3 3l6 -2l5 3l1 0l0 12l3 3l0 4l5 4l-7 3l-7 2l-5 -1l-1 2l-2 2l-7 2l-4 2l-3 4l-2 1l-1 2l1 0l1 2l-2 2l-1 2l2 3l7 -1l1 4l-7 1l-5 1l-7 2l-8 0l-3 0l-7 3l-2 0l-1 0l0 3l3 -2l13 -2l4 0l-9 3l-11 2l-1 1l0 5l-4 6l-5 4l-4 -3l2 5l1 3l-2 3l-1 2l-6 8l-1 -4l1 -6l-1 -1l-1 -2l-2 -1l1 -3l1 -5l-3 2l-1 0l0 7l2 4l-1 0l-1 0l3 2l-1 3l0 6l1 0l2 1l2 3l1 4l2 9l-10 7l-1 0l-4 -1l-9 8l-6 0l-7 7l-1 1l-6 4l-2 2l-3 2l-4 3l-3 5l-3 8l1 6l0 3l4 8l2 3l2 2l2 10l3 7l-1 10l-3 6l-7 1l-6 -8l-1 -5l0 -1l-4 -3l-3 -6l-3 -5l1 -4l1 -1l-2 -6l-6 -7l-3 -3l-6 -1l-7 5l-4 -1l-3 -5l-8 -2l-10 1l-5 0l1 -2l-1 0l-1 1l-3 2l-12 0l-2 1l1 0l3 0l-2 4l2 3l4 2l-4 2l-6 -2l-8 1l-2 -1l-3 -1l-5 -2l-5 -1l-2 0l-7 -2l-6 1l-5 2l-4 1l-4 3l-3 2l-10 5l-3 3l-3 2l-3 6l-1 5l3 8l-4 1l-7 -2l-9 -3l-4 -11l-6 -6l-2 -2l-3 -8l-8 -7l-8 -1l-1 0l-1 1l-3 1l-4 7l-9 -3l-5 -4l-4 -9l-11 -8l-5 -4l-17 0l0 4l0 1l-28 0l-21 -7l-17 -5l1 -2l-24 2l-2 -5l-3 -4l-3 -2l-5 -2l-1 -2l-7 -2l-4 -2l-9 -1l-1 -1l0 -5l-3 -3l-4 -3l-6 -6l0 -3l0 -1l1 -1l-2 -2l-4 -2l-1 -3l0 -3l-5 -2l0 -3l-6 -5l-1 -1l-1 -9l-6 -6l3 -6l-1 -10l-2 -5l-1 -4l3 -6l1 -6l0 -4l2 -10zM492 96l0 1l1 0l0 -1z" fill="#E8990F"/><path d="M320 156l9 -5l-2 -8l1 0l0 -1l8 -3l9 6l0 1l-3 2l-4 7l-2 9l-16 0l-1 0zM366 116l1 -1l5 -6l-1 -5l0 -1l1 -3l-14 4l-1 0l-5 -11l3 -4l0 -7l3 -3l0 -10l-5 0l-11 0l4 3l0 1l0 3l-1 2l0 1l-1 0l-7 1l0 2l0 4l-4 4l-3 -2l-9 0l0 -14l2 -2l-1 -13l0 -1l13 0l0 1l1 0l9 -5l0 -8l1 0l6 -3l8 4l8 -8l1 0l1 1l2 3l-1 0l-3 4l0 1l2 -1l7 -6l-5 8l0 6l-2 4l-2 4l1 6l3 7l3 1l3 -1l1 0l1 0l9 0l10 0l1 0l0 10l0 11l-1 0l-10 -2l-4 4l0 1l7 7l1 -1l6 -4l5 2l5 2l0 1l-3 21l-8 0l-21 1l-1 -14l-5 0zM317 42l1 0l-4 17l-1 0l-15 0l-15 0l-1 0l0 -10l-11 3l-7 -5l-1 0l0 -1l1 -12l17 0l-2 -9l0 -2l-1 -4l-2 -5l-1 -10l21 0l0 -4l3 1l2 6l8 1l4 0l-4 13l0 1l-9 3l-1 15zM478 111l-4 -1l2 -4l-1 -1l-3 -2l-2 -2l-1 -3l-3 0l-3 0l-6 2l-4 2l-1 0l0 -5l0 -1l14 0l15 0l8 0l2 -1l1 0l0 1l0 1l1 0l0 -1l0 -1l4 -2l2 -1l-1 -2l-3 -3l1 -3l4 -4l8 3l1 0l0 1l-1 0l0 3l0 1l-1 1l0 5l-4 6l-5 4l-4 -3l2 5l1 3l-2 3l-1 2l-6 8l-1 -4l1 -6l-1 -1l-1 -2l-2 -1l1 -3l1 -5l-3 2l-1 0l0 7l2 4l-1 0l-1 0z" fill="#FFD37F"/><path d="M308 197l2 -9l1 -3l0 -3l-2 -4l-1 -1l-1 -3l-1 0l0 -10l0 -5l-4 -1l0 -1l0 -3l1 -13l0 -1l-2 -11l0 -1l12 0l12 0l12 0l9 0l0 1l-2 4l6 0l2 -4l0 -1l1 0l14 -1l0 1l1 0l19 0l1 16l-1 0l-19 0l-3 0l-19 0l-1 2l-1 0l-8 -7l-8 4l2 8l-1 0l-8 6l-1 6l8 0l8 0l0 1l1 5l2 2l-5 7l-2 5l4 0l14 0l0 1l-1 3l3 5l-1 0l-2 1l1 0l3 0l-2 4l2 3l4 2l-4 2l-6 -2l-8 1l-2 -1l-3 -1l-5 -2l-5 -1l-2 0l-7 -2l-6 1zM301 108l0 -6l-3 -6l-4 -2l-5 -6l-1 -1l0 -5l-2 -5l-1 -2l10 -3l1 -1l0 -1l1 0l12 0l2 3l10 1l1 0l0 13l8 0l3 2l3 -3l0 -2l0 -4l1 0l0 -1l7 -1l1 -2l0 -3l-4 -4l-1 0l1 0l0 -1l17 0l1 0l0 1l0 10l0 1l-3 2l0 7l-4 4l6 10l14 -4l0 1l0 4l1 5l-5 6l-1 1l-1 1l-3 3l0 3l-1 0l-6 1l-4 -3l-7 -7l-8 6l-1 0l-12 -10l-4 0l-1 0l-5 -3zM280 25l2 9l0 1l-18 0l0 -1l0 -12l-6 -5l-1 -13l18 0l2 10l1 2l1 3zM475 140l6 7l0 1l-4 -1l-9 8l-6 0l0 1l-12 -10l-2 0l-9 0l-2 -2l-2 -1l-11 -1l-1 1l-7 1l-12 0l0 -2l0 -1l12 -5l4 -1l7 -3l3 -4l-20 0l0 -1l17 -9l1 0l7 3l9 -3l2 -3l1 0l7 9l0 1l1 3l6 0l1 0l-1 9l4 4zM471 118l8 -7l3 2l3 2l-1 3l0 6l1 0l2 1l2 3l0 1l-17 0l0 -1l-1 0zM384 100l0 -1l0 -1l5 -4l10 3l1 0l-1 6l-5 4l-1 1l-1 0z" fill="#FFEBAF"/><path d="M363 181l1 9l0 2l-1 0l-12 0l-3 -5l1 -2l0 -1l-5 0l-13 0l2 -6l4 -6l1 -1l-2 -2l-1 -5l1 -3l1 -6l4 -7l0 -1l2 -1l6 11l-5 4l3 9l5 1l2 9zM176 141l7 7l0 1l-8 12l-18 -2l-1 0l0 -16l0 -1l1 0l18 -1zM289 82l0 5l1 1l5 6l-1 0l-21 0l-1 0l0 -11l-9 -6l0 -1l2 -11l0 -1l3 1l1 0l2 -14l12 -3l0 1l0 10l-1 0l1 10l3 6l1 2zM51 22l-4 -2l-1 0l3 -16l28 0l0 13l0 1l-11 2l-1 0l-3 -2zM439 174l-3 -1l-4 -9l-7 -6l-1 -1l-6 -8l-4 -2l-1 0l3 -3l0 -1l8 -2l4 1l9 1l3 2l11 0l2 2l9 8l-7 7l-1 1l-6 4l-2 2l-3 2zM474 140l-9 1l-1 0l-3 -3l-1 0l0 -1l1 -9l16 0l12 0l1 4l2 9l-10 7l-1 0l-1 0zM386 128l1 0l18 0l5 -1l1 0l20 1l-3 5l-1 0l-11 4l-8 4l-3 1l-1 2l-13 0l-4 0z" fill="#E0FFBD"/><path d="M372 185l2 2l-1 4l-1 0l-5 0l1 -2l-1 0l-1 1l-3 2l0 -2l0 -8l-9 -1l-3 -10l-4 0l-4 -10l1 0l4 -4l-5 -10l-1 0l0 -1l1 0l3 -3l10 0l9 0l13 0l13 1l11 0l2 0l12 -1l1 0l0 1l-3 3l4 1l1 0l0 1l7 9l7 5l0 1l2 6l2 2l2 1l0 1l-3 5l-3 8l-5 0l-1 3l0 1l0 -1l-1 0l-1 -1l-14 -1l-12 -1l-1 0l-1 -3l-13 0l-9 0l-3 0zM283 110l3 -2l2 -14l0 -1l6 0l4 2l1 0l0 1l3 6l0 10l-1 12l-18 0l-1 0l1 -13zM51 106l0 1l-22 20l-1 0l1 -1l-2 -2l-4 -2l-1 -3l0 -3l-5 -2l0 -3l-6 -5l-1 -1l-1 -9l-6 -6l3 -6l-1 -10l-2 -5l-1 -4l3 -6l1 -6l0 -4l2 -10l-1 -8l6 0l5 1l1 0l0 1l1 3l3 1l1 1l4 -1l6 0l0 1l1 17l6 3l1 15l5 0l1 0l0 1l0 28l0 2z" fill="#A3FF73"/><path d="M93 74l-16 0l-17 0l-18 0l-1 0l-1 -15l-6 -3l0 -1l0 -17l0 -1l1 0l1 0l-1 -7l6 -10l-7 -6l1 -10l14 0l-2 15l4 3l11 -5l4 2l11 -2l0 -13l104 0l0 19l0 1l-6 7l-1 12l1 0l1 0l0 1l-4 15l11 6l7 -1l2 0l15 -2l0 1l0 20l20 0l0 1l0 16l-22 7l-2 17l-1 0l-22 0l-23 0l-1 0l0 -19l-13 1l-1 0l-8 -6l0 -1l8 -15l0 -1l1 0l14 0l13 0l-7 -13l0 -1l4 -8l-13 -7l0 -1l-2 -9l-12 0l-3 0l0 5l0 12l0 13l-17 0l-17 0zM83 38l-4 7l-3 4l2 2l0 1l0 3l-1 1l13 2l7 -7l1 0l9 9l10 -3l1 -7l-1 0l-4 -5l-1 0l-3 -6l-6 0l-1 0l0 -1l1 -7l1 -3l-4 -1l-10 -7l-13 3l0 7l1 4l5 3zM157 181l-20 0l-21 -7l9 -22l1 0l6 0l8 -11l17 0l0 1l0 18zM372 191l1 -4l-2 -1l0 -1l0 -1l0 -1l21 0l5 0l1 0l0 1l1 2l12 1l14 1l1 0l1 1l0 -3l6 0l0 1l1 6l0 3l4 8l2 3l2 2l2 10l3 7l-1 10l-3 6l-7 1l-6 -8l-1 -5l0 -1l-4 -3l-3 -6l-3 -5l1 -4l1 -1l-2 -6l-6 -7l-3 -3l-6 -1l-7 5l-4 -1l-3 -5l-8 -2zM303 157l0 1l-1 0l-8 -3l-5 1l-2 1l-6 -1l-2 0l-2 -15l-4 -3l0 -14l-7 0l-1 -12l-7 -4l-1 0l-1 -14l-3 0l2 -14l1 0l7 -4l1 0l9 7l0 10l15 0l1 0l0 1l-2 14l-3 3l-1 12l5 0l13 0l0 1l1 0l0 5l1 11z" fill="#55FF00"/><path d="M156 181l0 -22l1 0l0 -1l18 2l7 -11l-7 -8l-18 2l-1 0l0 -19l1 0l0 -1l20 0l19 0l6 0l2 -17l22 -6l0 -6l0 -10l-5 0l-14 0l-1 0l0 -20l0 -1l-14 2l-1 0l-1 0l-7 1l-1 0l-11 -6l0 -1l4 -15l-2 0l1 -13l0 -1l6 -7l0 -19l78 0l1 13l6 4l-1 13l0 1l0 11l7 5l-1 15l-1 0l-1 0l-3 -1l-1 11l0 1l-1 0l-7 3l-2 13l3 0l0 1l1 14l7 3l0 1l1 0l1 12l-1 0l-20 0l-19 0l-9 0l0 5l0 13l-1 14l0 18l-2 0l9 21l-1 1l-3 1l-4 7l-9 -3l-5 -4l-4 -9l-11 -8l-5 -4l-17 0l0 4l0 1zM120 147l6 5l-10 22l-17 -5l1 -2l0 -1l2 -3l-2 -3l3 -7l0 -1l2 -1l-2 -2l0 -1l1 0zM107 132l-7 1l0 6l1 5l-14 -10l-13 -10l-5 -3l-22 -17l0 -6l0 -24l0 -1l32 0l28 0l0 1l0 30l0 20zM171 84l-21 0l-13 0l-1 0l0 -20l0 -20l1 0l0 -1l15 0l1 0l0 1l2 9l12 8l1 0l-4 8zM284 182l21 -24l2 0l0 16l3 4l2 4l-1 6l-2 9l-5 2z" fill="#38A800"/><path d="M100 139l-1 -6l1 0l0 -1l6 0l0 -8l0 -15l0 -17l0 -18l1 0l0 -1l19 0l11 0l0 1l0 9l6 0l0 1l-8 15l8 7l14 -1l0 19l0 18l-17 0l-8 11l-6 0l-1 0l-5 -5l-15 1l1 2l-3 2l-2 7l1 3l0 1l-2 3l-24 2l-2 -5l-3 -4l-3 -2l-5 -2l-1 -2l-7 -2l-4 -2l-9 -1l-1 -1l0 -5l-3 -3l-4 -3l-6 -6l0 -3l0 -1l1 -1l21 -20l1 0l13 10l6 4l18 13l4 4l8 6zM305 198l0 1l-1 0l-4 1l-4 3l-3 2l-10 5l-3 3l-3 2l-3 6l-1 5l3 8l-4 1l-7 -2l-9 -3l-4 -11l-6 -6l-2 -2l-3 -8l-8 -7l-8 -1l-1 0l-1 1l-9 -22l1 0l0 -1l2 0l0 -15l0 -29l0 -5l0 -1l23 0l19 0l15 0l0 1l0 14l4 2l2 15l1 0l6 1l7 -1l9 2l2 1l1 0l-1 0l-20 24z" fill="#267300"/><use href="#b"/></g></g><g filter="url(#bl)"><g transform="translate(158.80 126.19) scale(0.2859 0.2929)"><path d="M7 31l0 -4l-1 -3l-3 -6l-3 -5l0 -3l6 2l9 0l5 0l1 4l1 4l0 1l0 -1l2 0l0 -2l-1 -7l-3 -7l276 0l0 -4l3 1l2 6l8 1l4 0l4 0l6 3l2 1l8 1l6 -1l13 2l-5 2l-10 5l-8 5l8 -1l3 -1l3 4l11 -3l7 -4l8 -2l-3 3l1 3l4 0l5 4l2 -1l9 -1l10 -1l4 3l5 0l0 5l-6 1l-8 -2l-10 2l-4 2l-1 0l-6 6l-3 4l0 1l2 -1l7 -6l-5 8l0 6l-2 4l-2 4l1 6l3 7l3 1l3 -1l1 0l3 -3l3 -5l0 -1l-3 -9l1 -2l2 -9l6 -3l0 -1l6 -6l3 -1l5 1l3 1l5 4l1 5l0 4l-5 4l2 2l0 1l7 -5l5 11l-1 4l-6 3l-1 3l-2 2l0 1l4 1l3 1l7 0l3 -1l4 -2l8 -2l8 -3l7 -4l1 -2l-1 -4l15 0l5 0l2 0l6 -3l-1 -5l5 -4l5 -4l6 -1l14 0l7 0l11 0l0 -1l1 -2l3 0l3 -1l4 -4l1 -1l1 -4l2 -4l8 -8l3 3l6 -2l5 3l1 0l0 12l3 3l0 4l5 4l-7 3l-7 2l-5 -1l-1 2l-2 2l-7 2l-4 2l-3 4l-2 1l-1 2l1 0l1 2l-2 2l-1 2l2 3l7 -1l1 4l-7 1l-5 1l-7 2l-8 0l-3 0l-7 3l-2 0l-1 0l0 3l3 -2l13 -2l4 0l-9 3l-11 2l-1 1l0 5l-4 6l-5 4l-4 -3l2 5l1 3l-2 3l-1 2l-6 8l-1 -4l1 -6l-1 -1l-1 -2l-2 -1l1 -3l1 -5l-3 2l-1 0l0 7l2 4l-1 0l-1 0l3 2l-1 3l0 6l1 0l2 1l2 3l1 4l2 9l-10 7l-1 0l-4 -1l-9 8l-6 0l-7 7l-1 1l-6 4l-2 2l-3 2l-4 3l-3 5l-3 8l1 6l0 3l4 8l2 3l2 2l2 10l3 7l-1 10l-3 6l-7 1l-6 -8l-1 -5l0 -1l-4 -3l-3 -6l-3 -5l1 -4l1 -1l-2 -6l-6 -7l-3 -3l-6 -1l-7 5l-4 -1l-3 -5l-8 -2l-10 1l-5 0l1 -2l-1 0l-1 1l-3 2l-12 0l-2 1l1 0l3 0l-2 4l2 3l4 2l-4 2l-6 -2l-8 1l-2 -1l-3 -1l-5 -2l-5 -1l-2 0l-7 -2l-6 1l-5 2l-4 1l-4 3l-3 2l-10 5l-3 3l-3 2l-3 6l-1 5l3 8l-4 1l-7 -2l-9 -3l-4 -11l-6 -6l-2 -2l-3 -8l-8 -7l-8 -1l-1 0l-1 1l-3 1l-4 7l-9 -3l-5 -4l-4 -9l-11 -8l-5 -4l-17 0l0 4l0 1l-28 0l-21 -7l-17 -5l1 -2l-24 2l-2 -5l-3 -4l-3 -2l-5 -2l-1 -2l-7 -2l-4 -2l-9 -1l-1 -1l0 -5l-3 -3l-4 -3l-6 -6l0 -3l0 -1l1 -1l-2 -2l-4 -2l-1 -3l0 -3l-5 -2l0 -3l-6 -5l-1 -1l-1 -9l-6 -6l3 -6l-1 -10l-2 -5l-1 -4l3 -6l1 -6l0 -4l2 -10zM492 96l0 1l1 0l0 -1z" fill="#FFAA00"/><path d="M323 190l1 0l10 -3l2 -3l0 -1l14 0l0 1l-1 3l3 5l-1 0l-2 1l1 0l3 0l-2 4l2 3l4 2l-4 2l-6 -2l-8 1l-2 -1l-3 -1l-5 -2l-5 -1l-2 0zM183 148l0 1l-8 12l-18 -2l-1 0l0 -16l0 -19l1 0l0 -1l20 0l0 1l-1 17zM142 106l-8 -6l-4 0l-9 -9l4 -17l0 -1l1 0l10 0l0 -9l0 -20l1 0l0 -1l15 0l1 0l0 1l2 9l12 8l1 0l-4 9l-11 2l-3 11l7 0l0 1l0 21l-14 1zM26 96l0 -22l1 0l0 -1l20 0l1 0l0 1l0 28l-1 0l-20 -6zM117 57l4 5l1 0l-2 12l-17 0l-10 0l-16 0l0 -18l13 2l7 -7l1 0l9 9zM221 64l-14 0l-1 0l0 -18l0 -2l-33 0l1 -13l0 -1l7 -7l26 3l0 1l0 7l19 0l1 0l-1 13l-4 3zM78 34l-11 0l-1 0l-1 -14l-3 -2l-1 -14l16 0l0 13l0 13zM434 225l13 0l0 1l-1 10l-3 6l-7 1l-6 -8l-1 -5zM372 191l1 -4l-2 -1l0 -1l0 -1l0 -1l21 0l0 1l-2 8l-8 -2zM474 140l-9 1l-1 0l-3 -3l-10 3l-2 5l-1 0l-9 0l-2 -2l-2 -1l2 -15l8 0l9 0l0 -3l0 -1l8 -9l-3 -9l0 -1l1 0l4 -2l5 -1l1 -2l3 2l4 3l0 1l-2 4l3 0l1 1l3 2l3 2l-1 3l0 6l1 0l2 1l2 3l1 4l2 9l-10 7l-1 0l-1 0zM389 111l1 0l0 -1l3 -4l6 -4l5 2l5 2l1 1l7 -1l1 0l3 3l4 -2l4 -3l1 0l0 1l-8 7l6 6l0 1l-17 9l-5 0l2 12l0 1l-3 1l-1 2l-13 0l-4 0l-19 0l-3 0l-19 0l4 -10l2 -5l0 -1l1 0l14 -1l0 1l1 0l19 0l10 0z" fill="#FFD37F"/><path d="M372 185l2 2l-1 4l-1 0l-5 0l1 -2l-1 0l-1 1l-3 2l-12 0l-3 -5l1 -2l0 -1l-5 0l-13 0l2 -6l4 -6l1 -1l-2 -2l-1 -5l1 -3l1 -6l4 -7l0 -1l2 -1l3 -3l10 0l9 0l1 0l0 1l1 1l-2 12l-1 12l-1 5l6 1l6 -6l9 2l1 -1l1 0l11 0l-2 -5l-1 -5l0 -1l10 -3l-2 -12l2 0l0 -2l0 -1l12 -5l4 -1l7 -3l3 -4l1 0l6 0l1 0l-2 15l-1 0l-6 0l0 9l-4 4l1 2l7 5l0 1l6 -5l1 0l7 9l-1 1l-3 2l-4 3l-3 -1l-1 -3l-11 5l-4 -2l-8 6l-1 0l-7 -6l-6 0l-1 6l1 5l-1 0l-13 0l-9 0l-3 0zM242 109l-15 1l-1 0l0 -16l0 -10l-5 0l5 -7l12 1l6 -5l1 0l11 7l-2 14l-1 0l-9 0zM222 50l3 -3l1 -13l19 0l0 12l11 5l0 1l0 12l-1 0l-16 0l-18 0l-1 0l1 -14zM429 230l0 -1l-4 -3l-3 -6l-3 -5l1 -4l1 -1l-2 -6l15 -11l0 3l4 8l2 3l2 2l2 10l3 7l-12 0zM475 140l6 7l0 1l-4 -1l-9 8l-6 0l0 1l-12 -10l-2 0l2 -5l0 -1l11 -3l4 4z" fill="#FFEBAF"/><path d="M175 160l5 16l-15 0l0 4l0 1l-9 0l0 -21l-16 2l-8 -9l-6 0l-1 0l-5 -5l-16 1l-1 0l-2 -3l0 -2l-1 -5l-1 -6l1 0l0 -1l6 0l0 -8l0 -15l0 -4l-22 1l-1 0l-7 -13l3 -19l0 -1l28 0l19 0l0 1l-4 17l8 9l-6 9l3 14l7 0l23 0l0 1l0 18l0 16zM178 105l13 -13l1 0l12 14l23 -6l0 10l14 -2l2 -14l0 -1l14 0l15 0l0 1l1 13l10 3l1 0l0 1l-1 13l-9 0l0 14l4 2l2 15l0 1l-1 0l-4 0l-7 -2l-7 -1l-6 -2l-8 -2l0 -1l0 -10l0 -9l-8 0l-22 0l0 -5l-15 0l-22 0zM23 58l11 -3l1 0l6 3l10 -5l8 3l6 -4l12 2l1 0l0 1l-1 1l0 18l-17 0l-18 0l-20 0l-1 0zM35 30l6 -10l-7 -6l1 -10l26 0l1 13l4 2l0 1l1 14l-10 0l-3 1l-12 2l-5 1l-1 0zM207 35l-1 0l0 -1l0 -7l-25 -3l-1 0l0 -1l0 -19l61 0l0 12l8 5l0 13l0 1l-1 0l-15 0l-15 0zM419 204l-6 -7l-3 -3l-6 -1l-7 5l-4 -1l-3 -5l-1 0l2 -8l0 -1l1 0l5 0l-1 -4l1 -6l7 -1l8 6l8 -6l1 0l3 2l11 -5l0 1l2 2l2 1l0 1l-3 5l-3 8l1 6l0 1l-14 10zM369 175l-6 0l-1 0l0 -1l2 -16l2 -13l-1 -1l0 -1l13 0l13 1l11 0l3 12l0 1l-10 3l1 5l1 5l0 1l-11 0l-2 1l-9 -2zM446 169l-7 -9l-6 4l0 1l-1 0l0 -1l-7 -6l-1 -1l0 -1l4 -4l0 -10l9 1l3 2l11 0l2 2l9 8l-7 7l-1 1l-6 4z" fill="#E0FFBD"/><path d="M157 159l0 1l0 21l-20 0l-21 -7l-17 -5l1 -2l0 -1l2 -3l-2 -3l3 -7l0 -1l2 -1l-2 -2l0 -1l1 0l16 -1l6 5l6 0l9 9zM64 116l-4 14l0 1l-19 12l0 1l0 -1l-3 -3l-4 -3l-6 -6l0 -3l0 -1l1 -1l-2 -2l-4 -2l-1 -3l0 -3l-5 -2l0 -3l-6 -5l0 -1l16 -10l20 6l1 0l0 1l0 2l3 2zM157 105l0 19l-18 0l-12 0l-4 -15l0 -1l7 -8l0 -1l4 0l1 0l8 7zM273 205l7 -23l-11 -7l0 -21l6 1l6 0l6 1l7 -1l9 2l2 1l2 0l0 16l3 4l2 4l-1 6l-2 9l-5 2l-4 1l-4 3l-3 2l-10 5l-3 3l-7 -7zM198 157l0 1l-2 16l-1 0l-13 0l0 2l-3 0l-5 -15l0 -1l8 -11l-7 -8l2 -17l0 -1l19 0l21 0l1 0l0 1l0 5l0 13l-1 0l-20 -2l-6 8z" fill="#A3FF73"/><path d="M181 174l0 -1l14 0l2 -15l-7 -9l0 -1l7 -9l20 2l0 -12l0 -1l30 0l1 0l0 1l0 19l1 0l6 2l6 2l7 1l1 1l1 0l-1 20l12 8l-8 23l0 1l-16 -2l-10 9l-1 0l-2 -2l-3 -8l-8 -7l-8 -1l-1 0l-1 1l-3 1l-4 7l-9 -3l-5 -4l-4 -9l-11 -8l-5 -4zM60 130l15 18l-4 12l0 1l0 -1l-3 -2l-5 -2l-1 -2l-7 -2l-4 -2l-9 -1l-1 -1l0 -5zM84 105l0 1l-10 18l-5 -3l-22 -17l0 -6l0 -24l0 -1l32 0l0 1l-3 19z" fill="#55FF00"/><path d="M257 203l16 2l8 7l-1 1l-3 2l-3 6l-1 5l3 8l-4 1l-7 -2l-9 -3l-4 -11l-6 -6zM106 151l-3 2l-2 7l1 3l0 1l-2 3l-24 2l-2 -5l-3 -4l-1 0l4 -12l-14 -17l0 -1l3 -14l1 0l6 4l4 3l9 -18l1 0l23 -1l0 20l0 8l-7 1l0 6l1 5l1 2z" fill="#38A800"/><use href="#b"/></g></g><g filter="url(#bl)"><g transform="translate(329.40 130.09) scale(0.2878 0.2925)"><path d="M7 31l0 -4l-1 -3l-3 -6l-3 -5l0 -3l6 2l9 0l5 0l1 4l1 4l0 1l0 -1l2 0l0 -2l-1 -7l-3 -7l276 0l0 -4l3 1l2 6l8 1l4 0l4 0l6 3l2 1l8 1l6 -1l13 2l-5 2l-10 5l-8 5l8 -1l3 -1l3 4l11 -3l7 -4l8 -2l-3 3l1 3l4 0l5 4l2 -1l9 -1l10 -1l4 3l5 0l0 5l-6 1l-8 -2l-10 2l-4 2l-1 0l-6 6l-3 4l0 1l2 -1l7 -6l-5 8l0 6l-2 4l-2 4l1 6l3 7l3 1l3 -1l1 0l3 -3l3 -5l0 -1l-3 -9l1 -2l2 -9l6 -3l0 -1l6 -6l3 -1l5 1l3 1l5 4l1 5l0 4l-5 4l2 2l0 1l7 -5l5 11l-1 4l-6 3l-1 3l-2 2l0 1l4 1l3 1l7 0l3 -1l4 -2l8 -2l8 -3l7 -4l1 -2l-1 -4l15 0l5 0l2 0l6 -3l-1 -5l5 -4l5 -4l6 -1l14 0l7 0l11 0l0 -1l1 -2l3 0l3 -1l4 -4l1 -1l1 -4l2 -4l8 -8l3 3l6 -2l5 3l1 0l0 12l3 3l0 4l5 4l-7 3l-7 2l-5 -1l-1 2l-2 2l-7 2l-4 2l-3 4l-2 1l-1 2l1 0l1 2l-2 2l-1 2l2 3l7 -1l1 4l-7 1l-5 1l-7 2l-8 0l-3 0l-7 3l-2 0l-1 0l0 3l3 -2l13 -2l4 0l-9 3l-11 2l-1 1l0 5l-4 6l-5 4l-4 -3l2 5l1 3l-2 3l-1 2l-6 8l-1 -4l1 -6l-1 -1l-1 -2l-2 -1l1 -3l1 -5l-3 2l-1 0l0 7l2 4l-1 0l-1 0l3 2l-1 3l0 6l1 0l2 1l2 3l1 4l2 9l-10 7l-1 0l-4 -1l-9 8l-6 0l-7 7l-1 1l-6 4l-2 2l-3 2l-4 3l-3 5l-3 8l1 6l0 3l4 8l2 3l2 2l2 10l3 7l-1 10l-3 6l-7 1l-6 -8l-1 -5l0 -1l-4 -3l-3 -6l-3 -5l1 -4l1 -1l-2 -6l-6 -7l-3 -3l-6 -1l-7 5l-4 -1l-3 -5l-8 -2l-10 1l-5 0l1 -2l-1 0l-1 1l-3 2l-12 0l-2 1l1 0l3 0l-2 4l2 3l4 2l-4 2l-6 -2l-8 1l-2 -1l-3 -1l-5 -2l-5 -1l-2 0l-7 -2l-6 1l-5 2l-4 1l-4 3l-3 2l-10 5l-3 3l-3 2l-3 6l-1 5l3 8l-4 1l-7 -2l-9 -3l-4 -11l-6 -6l-2 -2l-3 -8l-8 -7l-8 -1l-1 0l-1 1l-3 1l-4 7l-9 -3l-5 -4l-4 -9l-11 -8l-5 -4l-17 0l0 4l0 1l-28 0l-21 -7l-17 -5l1 -2l-24 2l-2 -5l-3 -4l-3 -2l-5 -2l-1 -2l-7 -2l-4 -2l-9 -1l-1 -1l0 -5l-3 -3l-4 -3l-6 -6l0 -3l0 -1l1 -1l-2 -2l-4 -2l-1 -3l0 -3l-5 -2l0 -3l-6 -5l-1 -1l-1 -9l-6 -6l3 -6l-1 -10l-2 -5l-1 -4l3 -6l1 -6l0 -4l2 -10zM492 96l0 1l1 0l0 -1z" fill="#FFAA00"/><path d="M246 213l11 -9l-3 -22l-10 -4l-7 -18l12 -12l6 2l6 2l7 1l1 1l6 1l6 0l6 1l7 -1l9 2l2 1l2 0l0 16l3 4l2 4l-1 6l-2 9l-5 2l-4 1l-4 3l-3 2l-10 5l-3 3l-3 2l-3 6l-1 5l3 8l-4 1l-7 -2l-9 -3l-4 -11zM351 192l-3 -5l1 -2l0 -1l5 -4l-3 -9l4 -3l-2 -11l3 -2l-1 -11l0 -1l1 0l9 0l1 0l0 1l1 1l-2 12l-1 12l-1 5l6 1l6 -6l9 2l1 -1l1 0l11 0l-2 -5l-1 -5l0 -1l10 -3l-2 -12l2 0l12 -1l1 0l0 1l-3 3l4 1l1 0l0 1l-11 9l2 5l-6 9l0 1l-6 0l-1 6l1 5l-1 0l-5 0l-2 8l-8 -2l-10 1l-5 0l1 -2l-1 0l-1 1l-3 2zM60 130l15 18l-4 12l0 1l0 -1l-3 -2l-5 -2l-1 -2l-7 -2l-4 -2l-9 -1l-1 -1l0 -5zM411 178l9 -6l1 0l3 2l0 1l4 12l-1 3l0 1l0 -1l-1 0l-1 -1l-14 -1l0 -1z" fill="#FFD37F"/><path d="M258 204l-1 0l-10 9l-1 0l-2 -2l-3 -8l-8 -7l-8 -1l-1 0l-1 1l-3 1l-4 7l-9 -3l-5 -4l-4 -9l-11 -8l-5 -4l-1 -2l0 -1l34 0l2 0l0 -15l0 -29l0 -1l30 0l1 0l0 1l0 19l1 0l0 1l-11 11l7 18l10 3l0 1zM369 175l-6 0l-1 0l0 -1l2 -16l2 -13l-1 -1l0 -1l13 0l13 1l11 0l3 12l0 1l-10 3l1 5l1 5l0 1l-11 0l-2 1l-9 -2zM439 173l0 1l-3 5l-3 8l-5 0l0 1l-1 0l0 -1l-4 -12l-3 -2l-2 -7l-8 -3l-1 0l-2 -5l0 -1l11 -8l1 0l7 9l7 5l0 1l2 6l2 2z" fill="#FFEBAF"/><use href="#b"/></g></g><g filter="url(#bl)"><g transform="translate(498.90 129.39) scale(0.2861 0.2921)"><path d="M7 31l0 -4l-1 -3l-3 -6l-3 -5l0 -3l6 2l9 0l5 0l1 4l1 4l0 1l0 -1l2 0l0 -2l-1 -7l-3 -7l276 0l0 -4l3 1l2 6l8 1l4 0l4 0l6 3l2 1l8 1l6 -1l13 2l-5 2l-10 5l-8 5l8 -1l3 -1l3 4l11 -3l7 -4l8 -2l-3 3l1 3l4 0l5 4l2 -1l9 -1l10 -1l4 3l5 0l0 5l-6 1l-8 -2l-10 2l-4 2l-1 0l-6 6l-3 4l0 1l2 -1l7 -6l-5 8l0 6l-2 4l-2 4l1 6l3 7l3 1l3 -1l1 0l3 -3l3 -5l0 -1l-3 -9l1 -2l2 -9l6 -3l0 -1l6 -6l3 -1l5 1l3 1l5 4l1 5l0 4l-5 4l2 2l0 1l7 -5l5 11l-1 4l-6 3l-1 3l-2 2l0 1l4 1l3 1l7 0l3 -1l4 -2l8 -2l8 -3l7 -4l1 -2l-1 -4l15 0l5 0l2 0l6 -3l-1 -5l5 -4l5 -4l6 -1l14 0l7 0l11 0l0 -1l1 -2l3 0l3 -1l4 -4l1 -1l1 -4l2 -4l8 -8l3 3l6 -2l5 3l1 0l0 12l3 3l0 4l5 4l-7 3l-7 2l-5 -1l-1 2l-2 2l-7 2l-4 2l-3 4l-2 1l-1 2l1 0l1 2l-2 2l-1 2l2 3l7 -1l1 4l-7 1l-5 1l-7 2l-8 0l-3 0l-7 3l-2 0l-1 0l0 3l3 -2l13 -2l4 0l-9 3l-11 2l-1 1l0 5l-4 6l-5 4l-4 -3l2 5l1 3l-2 3l-1 2l-6 8l-1 -4l1 -6l-1 -1l-1 -2l-2 -1l1 -3l1 -5l-3 2l-1 0l0 7l2 4l-1 0l-1 0l3 2l-1 3l0 6l1 0l2 1l2 3l1 4l2 9l-10 7l-1 0l-4 -1l-9 8l-6 0l-7 7l-1 1l-6 4l-2 2l-3 2l-4 3l-3 5l-3 8l1 6l0 3l4 8l2 3l2 2l2 10l3 7l-1 10l-3 6l-7 1l-6 -8l-1 -5l0 -1l-4 -3l-3 -6l-3 -5l1 -4l1 -1l-2 -6l-6 -7l-3 -3l-6 -1l-7 5l-4 -1l-3 -5l-8 -2l-10 1l-5 0l1 -2l-1 0l-1 1l-3 2l-12 0l-2 1l1 0l3 0l-2 4l2 3l4 2l-4 2l-6 -2l-8 1l-2 -1l-3 -1l-5 -2l-5 -1l-2 0l-7 -2l-6 1l-5 2l-4 1l-4 3l-3 2l-10 5l-3 3l-3 2l-3 6l-1 5l3 8l-4 1l-7 -2l-9 -3l-4 -11l-6 -6l-2 -2l-3 -8l-8 -7l-8 -1l-1 0l-1 1l-3 1l-4 7l-9 -3l-5 -4l-4 -9l-11 -8l-5 -4l-17 0l0 4l0 1l-28 0l-21 -7l-17 -5l1 -2l-24 2l-2 -5l-3 -4l-3 -2l-5 -2l-1 -2l-7 -2l-4 -2l-9 -1l-1 -1l0 -5l-3 -3l-4 -3l-6 -6l0 -3l0 -1l1 -1l-2 -2l-4 -2l-1 -3l0 -3l-5 -2l0 -3l-6 -5l-1 -1l-1 -9l-6 -6l3 -6l-1 -10l-2 -5l-1 -4l3 -6l1 -6l0 -4l2 -10zM492 96l0 1l1 0l0 -1z" fill="#FFAA00"/><path d="M140 162l-8 -9l0 -1l8 -11l-6 -17l-7 0l-4 -15l0 -1l7 -8l0 -1l4 0l1 0l8 7l14 -1l0 18l20 0l19 0l0 1l2 16l-7 9l-9 0l-7 12l-18 -2l0 1zM107 132l-7 1l0 6l1 5l-14 -10l-13 -10l-5 -3l-22 -17l0 -2l-20 -6l-1 0l0 -22l1 0l0 -1l20 0l1 0l0 1l0 24l28 -5l3 -19l-2 0l-17 0l-2 -17l-7 -3l-10 5l-7 -3l-11 3l-6 -5l-11 0l0 -1l0 -4l2 -10l-1 -8l6 0l5 1l1 0l0 1l1 3l3 1l1 1l4 -1l6 0l1 0l1 0l-1 -7l6 -10l-7 -6l1 -10l26 0l1 13l4 2l0 1l1 14l-3 0l2 18l11 2l1 0l0 1l-1 1l13 2l3 15l14 0l0 1l0 30l0 20zM434 225l13 0l0 1l-1 10l-3 6l-7 1l-6 -8l-1 -5zM419 204l-6 -7l-3 -3l-6 -1l-7 5l-4 -1l-3 -5l-8 -2l-10 1l1 -4l-2 -1l0 -1l0 -1l0 -1l21 0l5 0l1 0l0 1l1 2l12 1l14 1l1 0l1 1l0 -3l6 0l0 1l1 6l0 1l-14 10zM337 202l-3 -1l-5 -2l-5 -1l-2 0l1 -8l-3 -4l3 -9l3 -2l1 -11l0 -1l1 0l8 0l0 1l1 5l2 2l-5 7l-2 5l4 0l14 0l0 1l-1 3l3 5l-1 0l-2 1l-10 3zM378 156l-4 4l-1 0l-8 -2l-1 0l0 -1l-8 -1l0 -1l-1 -11l-9 0l4 -10l2 -5l0 -1l1 0l14 -1l0 1l1 0l19 0l1 16l-1 0l-9 0l1 12zM474 140l-9 1l-1 0l-3 -3l-1 0l0 -1l1 -9l16 0l12 0l1 4l2 9l-10 7l-1 0l-1 0zM204 107l0 -1l-13 -13l0 -1l0 -8l0 -1l1 0l35 0l0 1l0 16z" fill="#FFD37F"/><path d="M99 133l1 0l0 -1l6 0l1 -8l0 -1l15 0l12 0l1 0l0 1l5 17l1 0l-1 0l0 1l-8 11l-6 0l-1 0l-5 -5l-15 1l1 2l-3 2l-2 7l1 3l0 1l-2 3l-24 2l-2 -5l-3 -4l-3 -2l-5 -2l-1 -2l-7 -2l-4 -2l-9 -1l-1 -1l0 -5l-3 -3l-4 -3l-6 -6l0 -3l0 -1l1 -1l-2 -2l-4 -2l-1 -3l0 -3l-5 -2l0 -3l-6 -5l0 -1l16 -10l20 6l1 0l0 1l0 2l3 2l13 10l6 4l18 13l4 4l8 6l0 -4zM227 124l-1 0l0 -14l0 -16l0 -10l-5 0l-14 0l-1 0l0 -20l0 -18l0 -12l1 0l19 0l1 0l-1 13l13 4l0 13l-15 0l2 13l12 1l6 -5l1 0l11 7l-2 13l3 0l0 1l1 14l7 3l8 -4l0 -1l10 4l1 0l0 1l-1 13l-17 0l-20 0zM174 44l-1 0l-33 0l-1 -11l-21 -14l0 -1l1 -14l62 0l0 19l0 1l-6 7zM351 192l-3 -5l1 -2l0 -1l-5 0l-13 0l2 -6l4 -6l1 -1l-2 -2l-1 -5l1 -3l1 -6l4 -7l0 -1l2 -1l3 -3l10 0l0 1l0 11l9 1l0 1l8 2l5 -3l0 -12l0 -1l13 1l11 0l2 0l12 -1l8 -2l4 1l9 1l3 2l11 0l2 2l9 8l-7 7l-1 1l-6 4l-2 2l-3 2l-4 3l-3 5l-3 8l-5 0l-1 3l0 1l0 -1l-1 0l-1 -1l-14 -1l-12 -1l-1 0l-1 -3l-13 0l-9 0l-3 0l0 1l2 2l-1 4l-1 0l-5 0l1 -2l-1 0l-1 1l-3 2zM432 164l-7 -6l-1 -1l-6 -8l-10 9l2 5l9 3l2 7l3 1l10 -5z" fill="#FFEBAF"/><path d="M140 161l17 -2l0 1l0 21l-20 0l-1 -1zM239 129l0 -5l0 -1l1 0l19 0l15 0l14 0l1 0l0 1l-1 13l-10 4l-1 0l-4 -3l-7 3l-4 11l0 1l-1 0l-6 -2l-8 -2l0 -1l0 -10l0 -9zM127 124l-20 0l-1 0l0 -15l0 -17l0 -18l1 0l0 -1l19 0l0 1l-4 17l8 9l-6 9zM174 30l6 -7l0 -19l78 0l1 13l-1 0l-9 5l0 12l0 1l-1 0l-15 0l-15 0l-11 0l0 9l-34 0l1 -13zM273 205l7 -23l4 -1l20 -23l-2 0l0 -1l0 -3l0 -1l13 -3l6 6l0 1l-1 7l-3 0l0 9l6 4l-2 9l3 4l-1 8l-1 0l-7 -2l-6 1l-5 2l-4 1l-4 3l-3 2l-10 5l-3 3l-7 -7zM424 175l-4 -2l-2 -7l-8 -3l-1 0l-2 -5l0 -1l11 -8l1 0l7 9l7 5l0 1l2 6zM265 112l-7 -4l-1 0l-1 -14l0 -1l1 0l15 0l16 0l1 0l0 1l-2 14l-4 3l-10 -4z" fill="#E0FFBD"/><path d="M175 160l5 16l-15 0l0 4l0 1l-9 0l0 -22l1 0l0 -1zM285 182l-4 1l-1 0l0 -1l-11 -7l0 -21l6 1l6 0l6 1l7 -1l9 2l2 1l1 0l-1 0zM238 160l-1 0l-20 -1l0 -1l0 -29l0 -1l30 0l1 0l0 1l0 19l1 0l0 1zM227 100l0 24l-25 0l-22 0l-2 -19l13 -13l1 0l12 14zM264 77l-1 0l-7 4l0 -1l-12 -7l-5 6l-1 0l-12 -1l0 -1l-3 -13l0 -1l15 0l0 -11l-12 -5l-1 0l1 -13l19 0l19 0l0 12l0 1l-8 5l0 11l6 0l3 1l0 1l1 0l-2 11z" fill="#A3FF73"/><path d="M181 174l0 -1l14 0l2 -15l-7 -9l0 -1l7 -9l-2 -15l0 -1l1 0l21 0l1 0l0 1l0 5l0 13l-1 14l0 2l20 2l12 -12l6 2l6 2l7 1l1 1l1 0l-1 21l-14 7l-1 0l-9 -4l-19 17l-1 0l-1 0l-1 1l-3 1l-4 7l-9 -3l-5 -4l-4 -9l-11 -8l-5 -4z" fill="#55FF00"/><path d="M281 212l-1 1l-3 2l-3 6l-1 5l3 8l-4 1l-7 -2l-9 -3l-4 -11l-6 -6l-2 -2l-3 -8l-8 -7l-8 -1l19 -17l1 0l10 3l14 -7l12 8l-7 23zM182 148l9 0l7 9l0 1l-2 16l-1 0l-13 0l0 2l-3 0l-5 -15l0 -1z" fill="#38A800"/><use href="#b"/></g></g><g filter="url(#bl)"><g transform="translate(675.60 129.39) scale(0.2870 0.2921)"><path d="M7 31l0 -4l-1 -3l-3 -6l-3 -5l0 -3l6 2l9 0l5 0l1 4l1 4l0 1l0 -1l2 0l0 -2l-1 -7l-3 -7l276 0l0 -4l3 1l2 6l8 1l4 0l4 0l6 3l2 1l8 1l6 -1l13 2l-5 2l-10 5l-8 5l8 -1l3 -1l3 4l11 -3l7 -4l8 -2l-3 3l1 3l4 0l5 4l2 -1l9 -1l10 -1l4 3l5 0l0 5l-6 1l-8 -2l-10 2l-4 2l-1 0l-6 6l-3 4l0 1l2 -1l7 -6l-5 8l0 6l-2 4l-2 4l1 6l3 7l3 1l3 -1l1 0l3 -3l3 -5l0 -1l-3 -9l1 -2l2 -9l6 -3l0 -1l6 -6l3 -1l5 1l3 1l5 4l1 5l0 4l-5 4l2 2l0 1l7 -5l5 11l-1 4l-6 3l-1 3l-2 2l0 1l4 1l3 1l7 0l3 -1l4 -2l8 -2l8 -3l7 -4l1 -2l-1 -4l15 0l5 0l2 0l6 -3l-1 -5l5 -4l5 -4l6 -1l14 0l7 0l11 0l0 -1l1 -2l3 0l3 -1l4 -4l1 -1l1 -4l2 -4l8 -8l3 3l6 -2l5 3l1 0l0 12l3 3l0 4l5 4l-7 3l-7 2l-5 -1l-1 2l-2 2l-7 2l-4 2l-3 4l-2 1l-1 2l1 0l1 2l-2 2l-1 2l2 3l7 -1l1 4l-7 1l-5 1l-7 2l-8 0l-3 0l-7 3l-2 0l-1 0l0 3l3 -2l13 -2l4 0l-9 3l-11 2l-1 1l0 5l-4 6l-5 4l-4 -3l2 5l1 3l-2 3l-1 2l-6 8l-1 -4l1 -6l-1 -1l-1 -2l-2 -1l1 -3l1 -5l-3 2l-1 0l0 7l2 4l-1 0l-1 0l3 2l-1 3l0 6l1 0l2 1l2 3l1 4l2 9l-10 7l-1 0l-4 -1l-9 8l-6 0l-7 7l-1 1l-6 4l-2 2l-3 2l-4 3l-3 5l-3 8l1 6l0 3l4 8l2 3l2 2l2 10l3 7l-1 10l-3 6l-7 1l-6 -8l-1 -5l0 -1l-4 -3l-3 -6l-3 -5l1 -4l1 -1l-2 -6l-6 -7l-3 -3l-6 -1l-7 5l-4 -1l-3 -5l-8 -2l-10 1l-5 0l1 -2l-1 0l-1 1l-3 2l-12 0l-2 1l1 0l3 0l-2 4l2 3l4 2l-4 2l-6 -2l-8 1l-2 -1l-3 -1l-5 -2l-5 -1l-2 0l-7 -2l-6 1l-5 2l-4 1l-4 3l-3 2l-10 5l-3 3l-3 2l-3 6l-1 5l3 8l-4 1l-7 -2l-9 -3l-4 -11l-6 -6l-2 -2l-3 -8l-8 -7l-8 -1l-1 0l-1 1l-3 1l-4 7l-9 -3l-5 -4l-4 -9l-11 -8l-5 -4l-17 0l0 4l0 1l-28 0l-21 -7l-17 -5l1 -2l-24 2l-2 -5l-3 -4l-3 -2l-5 -2l-1 -2l-7 -2l-4 -2l-9 -1l-1 -1l0 -5l-3 -3l-4 -3l-6 -6l0 -3l0 -1l1 -1l-2 -2l-4 -2l-1 -3l0 -3l-5 -2l0 -3l-6 -5l-1 -1l-1 -9l-6 -6l3 -6l-1 -10l-2 -5l-1 -4l3 -6l1 -6l0 -4l2 -10zM492 96l0 1l1 0l0 -1z" fill="#FFAA00"/><path d="M308 197l2 -9l1 -3l0 -3l-2 -4l-1 -1l-1 -3l-1 0l0 -10l1 0l0 -1l10 0l11 0l0 1l-1 11l7 2l0 1l-2 5l4 0l14 0l0 1l-1 3l3 5l-1 0l-2 1l1 0l3 0l-2 4l2 3l4 2l-4 2l-6 -2l-8 1l-2 -1l-3 -1l-5 -2l-5 -1l-2 0l-7 -2l-6 1zM120 148l-16 1l-1 0l-2 -3l0 -2l-1 -5l-1 -6l1 0l0 -1l6 0l1 -8l0 -1l15 0l0 1zM157 105l0 19l-18 0l-12 0l-4 -15l0 -1l7 -8l0 -1l4 0l1 0l8 7zM5 73l16 0l2 -14l-6 -5l0 -1l6 -15l0 -1l1 1l4 -1l6 0l0 1l1 17l6 3l1 15l5 0l1 0l0 1l0 28l-1 0l-20 -6l-15 10l-1 0l-1 -1l-1 -9l-6 -6l3 -6l-1 -10zM146 65l-9 0l-1 -1l0 -20l1 0l0 -1l15 0l23 0l1 0l0 1l-4 16l-5 2l-12 -8zM65 53l-1 -19l0 -1l14 0l5 4l0 1l-4 7l-3 4l2 2l0 1l0 3l-1 0zM420 210l1 0l11 2l8 -5l2 2l2 10l3 7l-1 10l-3 6l-7 1l-6 -8l-1 -5l0 -1l-4 -3l-3 -6l-3 -5l1 -4zM439 174l-3 -1l-4 -9l7 -5l1 -2l-2 -4l2 -7l0 -1l8 0l2 -4l0 -1l11 -3l4 4l-2 14l-1 0l-7 7l-1 1l-6 4l-2 2l-3 2zM378 156l-4 4l-1 0l-8 -2l-1 0l0 -1l-8 -1l-2 2l-1 0l-5 -1l-5 -10l-1 0l0 -1l1 0l3 -3l10 0l9 0l13 0l0 1l1 12z" fill="#FFD37F"/><path d="M100 166l2 -3l-2 -3l3 -7l0 -1l2 -1l-2 -2l0 -1l1 0l15 -1l2 -23l0 -1l1 0l12 0l23 0l20 0l0 1l-1 17l7 7l0 1l-8 12l-18 -2l0 1l-17 2l-8 -9l-6 0l-10 21l-17 -5l1 -2zM27 95l20 6l1 0l0 1l0 2l3 2l0 1l-22 20l-1 0l1 -1l-2 -2l-4 -2l-1 -3l0 -3l-5 -2l0 -3l-6 -5l0 -1zM137 84l-1 0l0 -20l1 0l9 0l8 -11l1 0l12 8l4 -2l4 -15l0 -1l14 0l17 0l0 -9l0 -17l1 -1l13 1l2 -1l1 -12l35 0l1 13l6 4l-1 13l0 1l-16 0l-3 0l0 11l11 5l0 1l0 12l-1 0l-16 0l-15 0l2 13l0 1l-4 5l5 0l0 1l0 9l16 0l14 0l0 1l1 14l-11 6l-5 -5l-15 1l-1 0l0 -10l-22 7l0 -1l-13 -13l0 -1l0 -8l-15 0l-5 0l-21 0zM117 57l4 5l1 0l-2 12l-17 0l-10 0l-16 0l-17 0l-18 0l-1 0l-1 -15l-6 -3l0 -1l0 -17l0 -1l1 0l1 0l-1 -7l6 -10l-7 -6l1 -10l42 0l0 13l0 1l-11 2l1 14l-3 0l2 18l11 2l1 0l0 1l-1 1l13 2l7 -7l1 0l9 9zM174 44l-1 0l-33 0l-3 0l0 5l-5 0l-8 0l-7 1l-4 -5l-1 0l-3 -6l-6 0l-1 0l0 -1l1 -7l15 -13l1 -14l62 0l0 19l0 1l-6 7zM351 192l-3 -5l1 -2l0 -1l-5 0l-1 -11l3 -3l-3 -9l1 0l4 -4l0 -1l5 1l3 -2l9 1l0 1l8 2l5 -3l0 -12l0 -1l13 1l11 0l2 0l12 -1l8 -2l4 1l9 1l3 2l1 0l0 1l-2 7l2 4l-1 2l0 1l-7 4l2 6l2 2l2 1l0 1l-3 5l-3 8l1 6l0 3l4 8l2 3l1 0l-8 6l-1 0l-12 -2l1 -1l-2 -6l-6 -7l-3 -3l-6 -1l-7 5l-4 -1l-3 -5l-8 -2l-10 1l-5 0l1 -2l-1 0l-1 1l-3 2zM327 176l-1 0l0 -1l1 -11l0 -1l1 0l8 0l0 1l1 5l2 2l-5 7l-1 0z" fill="#FFEBAF"/><path d="M217 174l-22 0l2 -16l-6 -9l-9 0l-7 -8l2 -17l0 -1l3 0l-2 -18l13 -13l1 0l12 14l23 -6l0 10l15 -2l5 5l10 -5l-1 -14l0 -1l1 0l15 0l16 0l1 0l0 1l-2 14l-3 3l-1 12l5 0l1 0l0 1l-1 13l-10 4l-1 0l-4 -3l-7 3l-4 11l0 1l-1 0l-6 -2l-8 -2l0 -1l0 -10l0 -9l-8 0l-21 0l0 13l-1 14zM106 151l-3 2l-2 7l1 3l0 1l-2 3l-24 2l-2 -5l-3 -4l-3 -2l-5 -2l-1 -2l-7 -2l-4 -2l-9 -1l-1 -1l0 -5l-3 -3l-4 -3l-6 -6l0 -3l0 -1l1 -1l21 -20l-3 -2l0 -6l0 -24l0 -1l32 0l28 0l0 1l0 30l0 20l0 8l-7 1l0 6l1 5l1 2zM174 30l6 -7l0 -19l27 0l0 23l0 17l-34 0l1 -13zM273 205l7 -23l-11 -7l0 -21l6 1l6 0l6 1l7 -1l9 2l2 1l2 0l0 16l3 4l2 4l-1 6l-2 9l-5 2l-4 1l-4 3l-3 2l-10 5l-3 3l-7 -7zM227 94l-1 0l0 -10l-5 0l5 -7l-3 -13l0 -1l21 0l1 0l0 1l0 9l11 7l-2 14l-1 0l-12 0z" fill="#E0FFBD"/><path d="M181 174l0 -1l34 0l2 0l0 -15l20 2l1 0l7 18l-19 17l-1 0l-1 0l-1 1l-3 1l-4 7l-9 -3l-5 -4l-4 -9l-11 -8l-5 -4zM156 159l1 0l0 -1l18 2l5 16l-15 0l0 4l0 1l-28 0l-21 -7l9 -22l1 0l6 0l9 9zM127 124l-20 0l-1 0l0 -15l0 -17l0 -18l1 0l0 -1l19 0l0 1l-4 17l8 9l-6 9z" fill="#A3FF73"/><path d="M238 160l-1 0l-20 -1l0 -1l0 -29l0 -1l30 0l1 0l0 1l0 19l1 0l0 1z" fill="#55FF00"/><path d="M281 212l-1 1l-3 2l-3 6l-1 5l3 8l-4 1l-7 -2l-9 -3l-4 -11l-6 -6l-2 -2l-3 -8l-8 -7l-8 -1l19 -17l-7 -18l12 -12l6 2l6 2l7 1l1 1l1 0l-1 20l12 8l-7 23zM182 148l9 0l7 9l0 1l-2 16l-1 0l-13 0l0 2l-3 0l-5 -15l0 -1z" fill="#38A800"/><use href="#b"/></g></g><g filter="url(#bl)"><g transform="translate(851.00 124.79) scale(0.2870 0.2929)"><path d="M7 31l0 -4l-1 -3l-3 -6l-3 -5l0 -3l6 2l9 0l5 0l1 4l1 4l0 1l0 -1l2 0l0 -2l-1 -7l-3 -7l276 0l0 -4l3 1l2 6l8 1l4 0l4 0l6 3l2 1l8 1l6 -1l13 2l-5 2l-10 5l-8 5l8 -1l3 -1l3 4l11 -3l7 -4l8 -2l-3 3l1 3l4 0l5 4l2 -1l9 -1l10 -1l4 3l5 0l0 5l-6 1l-8 -2l-10 2l-4 2l-1 0l-6 6l-3 4l0 1l2 -1l7 -6l-5 8l0 6l-2 4l-2 4l1 6l3 7l3 1l3 -1l1 0l3 -3l3 -5l0 -1l-3 -9l1 -2l2 -9l6 -3l0 -1l6 -6l3 -1l5 1l3 1l5 4l1 5l0 4l-5 4l2 2l0 1l7 -5l5 11l-1 4l-6 3l-1 3l-2 2l0 1l4 1l3 1l7 0l3 -1l4 -2l8 -2l8 -3l7 -4l1 -2l-1 -4l15 0l5 0l2 0l6 -3l-1 -5l5 -4l5 -4l6 -1l14 0l7 0l11 0l0 -1l1 -2l3 0l3 -1l4 -4l1 -1l1 -4l2 -4l8 -8l3 3l6 -2l5 3l1 0l0 12l3 3l0 4l5 4l-7 3l-7 2l-5 -1l-1 2l-2 2l-7 2l-4 2l-3 4l-2 1l-1 2l1 0l1 2l-2 2l-1 2l2 3l7 -1l1 4l-7 1l-5 1l-7 2l-8 0l-3 0l-7 3l-2 0l-1 0l0 3l3 -2l13 -2l4 0l-9 3l-11 2l-1 1l0 5l-4 6l-5 4l-4 -3l2 5l1 3l-2 3l-1 2l-6 8l-1 -4l1 -6l-1 -1l-1 -2l-2 -1l1 -3l1 -5l-3 2l-1 0l0 7l2 4l-1 0l-1 0l3 2l-1 3l0 6l1 0l2 1l2 3l1 4l2 9l-10 7l-1 0l-4 -1l-9 8l-6 0l-7 7l-1 1l-6 4l-2 2l-3 2l-4 3l-3 5l-3 8l1 6l0 3l4 8l2 3l2 2l2 10l3 7l-1 10l-3 6l-7 1l-6 -8l-1 -5l0 -1l-4 -3l-3 -6l-3 -5l1 -4l1 -1l-2 -6l-6 -7l-3 -3l-6 -1l-7 5l-4 -1l-3 -5l-8 -2l-10 1l-5 0l1 -2l-1 0l-1 1l-3 2l-12 0l-2 1l1 0l3 0l-2 4l2 3l4 2l-4 2l-6 -2l-8 1l-2 -1l-3 -1l-5 -2l-5 -1l-2 0l-7 -2l-6 1l-5 2l-4 1l-4 3l-3 2l-10 5l-3 3l-3 2l-3 6l-1 5l3 8l-4 1l-7 -2l-9 -3l-4 -11l-6 -6l-2 -2l-3 -8l-8 -7l-8 -1l-1 0l-1 1l-3 1l-4 7l-9 -3l-5 -4l-4 -9l-11 -8l-5 -4l-17 0l0 4l0 1l-28 0l-21 -7l-17 -5l1 -2l-24 2l-2 -5l-3 -4l-3 -2l-5 -2l-1 -2l-7 -2l-4 -2l-9 -1l-1 -1l0 -5l-3 -3l-4 -3l-6 -6l0 -3l0 -1l1 -1l-2 -2l-4 -2l-1 -3l0 -3l-5 -2l0 -3l-6 -5l-1 -1l-1 -9l-6 -6l3 -6l-1 -10l-2 -5l-1 -4l3 -6l1 -6l0 -4l2 -10zM492 96l0 1l1 0l0 -1z" fill="#FFAA00"/><path d="M7 31l6 0l5 1l1 0l0 1l1 3l3 1l1 1l4 -1l6 0l1 0l7 -1l6 -1l6 -1l3 -1l7 0l0 1l2 18l11 2l1 0l0 1l-1 1l0 18l-17 0l-12 0l0 28l-1 0l-20 -6l-15 10l-1 0l-1 -1l-1 -9l-6 -6l3 -6l-1 -10l-2 -5l-1 -4l3 -6l1 -6l0 -4l2 -10zM137 84l-1 0l0 -20l1 0l9 0l8 -11l1 0l12 8l4 -2l4 -15l0 -1l14 0l18 0l0 1l0 19l0 21l-12 0l-19 0l-5 0l-21 0zM322 198l1 -8l-3 -4l3 -9l4 -2l7 2l0 1l-2 5l4 0l14 0l0 1l-1 3l3 5l-1 0l-2 1l1 0l3 0l-2 4l2 3l4 2l-4 2l-6 -2l-8 1l-2 -1l-3 -1l-5 -2l-5 -1zM398 184l-1 0l-13 0l-1 0l1 -12l-9 -2l-6 5l-6 0l-1 0l0 -1l2 -16l2 -13l-1 -1l0 -1l13 0l13 1l11 0l2 0l12 -1l1 0l0 1l-3 3l4 1l1 0l0 1l7 9l7 5l0 1l2 6l-11 5l-4 -2l-8 6l-1 0l-7 -6l-6 0l-1 6z" fill="#FFD37F"/><path d="M204 107l0 -1l-13 -13l0 -1l0 -8l0 -1l1 0l14 0l0 -19l0 -18l0 -12l0 -17l0 -13l52 0l1 13l-1 0l-9 5l0 12l0 1l-1 0l-3 0l0 11l11 5l0 1l0 11l6 0l3 1l0 1l1 0l-2 11l9 7l0 11l-20 0l2 -14l-11 -7l-5 6l-1 0l-12 -1l-4 5l5 0l0 1l0 16zM77 74l0 -18l13 2l7 -7l1 0l9 9l-3 14l-1 0l-10 0zM146 65l-9 0l-1 -1l0 -15l-4 0l-8 0l-7 1l-4 -5l-1 0l-3 -6l-6 0l-1 0l0 -1l1 -7l15 -13l1 -14l62 0l0 19l0 1l-6 7l-1 12l1 0l1 0l0 1l-4 16l-5 2l-12 -8zM432 213l-12 -2l1 -1l-2 -6l-6 -7l-3 -3l-6 -1l-7 5l-4 -1l-3 -5l-8 -2l-10 1l1 -4l-2 -1l0 -1l0 -1l0 -1l21 0l5 0l1 0l0 1l1 2l12 1l14 1l1 0l1 1l0 -3l6 0l0 1l1 6l0 3l4 8l2 3l1 0l-8 6zM242 108l5 5l0 11l-1 0l-19 0l-1 0l0 -14l1 0z" fill="#FFEBAF"/><path d="M191 149l-9 0l-7 -8l2 -17l0 -1l19 0l21 0l23 0l6 0l1 -10l11 -5l7 3l8 -4l0 -1l10 4l1 0l0 1l-1 12l5 0l1 0l0 1l-1 13l-10 4l-1 0l-4 -3l-8 3l-8 -7l-10 5l0 -1l0 -9l-8 0l-21 0l0 13l-1 0l-20 -2zM60 131l-19 12l0 1l0 -1l-3 -3l-4 -3l-6 -6l0 -3l0 -1l1 -1l-2 -2l-4 -2l-1 -3l0 -3l-5 -2l0 -3l-6 -5l0 -1l16 -10l20 6l0 -3l0 -24l0 -1l32 0l28 0l0 1l0 30l0 20l0 8l-7 1l0 6l1 5l-14 -10l-13 -10l-5 -3l-5 -4l-4 13zM157 124l-18 0l-12 0l-4 -15l0 -1l7 -8l0 -1l4 0l8 -15l0 -1l1 0l14 0l0 1l0 21zM174 30l6 -7l0 -19l27 0l0 23l0 17l-34 0l1 -13zM35 30l6 -10l-7 -6l1 -10l26 0l1 13l4 2l0 1l1 14l-10 0l-3 1l-12 2l-5 1l-1 0zM280 213l-7 -7l-16 -2l-3 -22l0 -1l15 -7l0 -20l6 1l6 0l6 1l7 -1l9 2l2 1l2 0l0 16l3 4l2 4l-1 6l-2 9l-5 2l-4 1l-4 3l-3 2l-10 5zM226 77l12 1l6 -5l1 0l11 7l-2 14l-1 0l-12 0l-14 0l-1 0l0 -10l-5 0z" fill="#E0FFBD"/><path d="M100 166l2 -3l-2 -3l3 -7l0 -1l2 -1l-2 -2l0 -1l1 0l16 -1l6 5l6 0l8 -11l-6 -17l0 -1l23 0l20 0l0 1l-1 17l6 7l9 0l6 -9l20 2l1 0l0 1l-1 14l0 18l-2 0l9 21l-1 1l-3 1l-4 7l-9 -3l-5 -4l-4 -9l-11 -8l-5 -4l-17 0l0 4l0 1l-28 0l-21 -7l-17 -5l1 -2zM127 124l-20 0l-1 0l0 -15l0 -17l0 -18l1 0l0 -1l19 0l0 1l-4 17l8 9l-6 9zM237 160l12 -12l6 2l6 2l7 1l1 1l1 0l-1 21l-14 7l-1 0l-10 -4zM227 100l0 24l-25 0l-22 0l-2 -19l13 -13l1 0l12 14z" fill="#A3FF73"/><path d="M214 174l1 0l0 -1l2 0l0 -15l20 2l1 0l7 18l-19 17l-1 0l-1 0l-1 1zM100 139l-1 -6l1 0l0 -1l6 0l1 -8l0 -1l15 0l12 0l1 0l0 1l5 17l1 0l-1 0l0 1l-8 11l-6 0l-1 0l-5 -5l-15 1l1 2l-3 2l-2 7l1 3l0 1l-2 3l-24 2l-2 -5l-3 -4l-3 -2l-5 -2l-1 -2l-7 -2l-4 -2l-9 -1l-1 -1l0 -5l19 -13l3 -14l1 0l6 4l18 13l4 4l8 6z" fill="#55FF00"/><path d="M273 205l8 7l-1 1l-3 2l-3 6l-1 5l3 8l-4 1l-7 -2l-9 -3l-4 -11l-6 -6l-2 -2l-3 -8l-8 -7l-8 -1l19 -17l1 0l10 3l0 1l3 21zM238 160l-1 0l-20 -1l0 -1l0 -29l0 -1l30 0l1 0l0 1l0 19l1 0l0 1z" fill="#38A800"/><use href="#b"/></g></g><g filter="url(#bl)"><g transform="translate(157.00 205.90) scale(0.2837 0.2895)"><path d="M7 31l0 -4l-1 -3l-3 -6l-3 -5l0 -3l6 2l9 0l5 0l1 4l1 4l0 1l0 -1l2 0l0 -2l-1 -7l-3 -7l276 0l0 -4l3 1l2 6l8 1l4 0l4 0l6 3l2 1l8 1l6 -1l13 2l-5 2l-10 5l-8 5l8 -1l3 -1l3 4l11 -3l7 -4l8 -2l-3 3l1 3l4 0l5 4l2 -1l9 -1l10 -1l4 3l5 0l0 5l-6 1l-8 -2l-10 2l-4 2l-1 0l-6 6l-3 4l0 1l2 -1l7 -6l-5 8l0 6l-2 4l-2 4l1 6l3 7l3 1l3 -1l1 0l3 -3l3 -5l0 -1l-3 -9l1 -2l2 -9l6 -3l0 -1l6 -6l3 -1l5 1l3 1l5 4l1 5l0 4l-5 4l2 2l0 1l7 -5l5 11l-1 4l-6 3l-1 3l-2 2l0 1l4 1l3 1l7 0l3 -1l4 -2l8 -2l8 -3l7 -4l1 -2l-1 -4l15 0l5 0l2 0l6 -3l-1 -5l5 -4l5 -4l6 -1l14 0l7 0l11 0l0 -1l1 -2l3 0l3 -1l4 -4l1 -1l1 -4l2 -4l8 -8l3 3l6 -2l5 3l1 0l0 12l3 3l0 4l5 4l-7 3l-7 2l-5 -1l-1 2l-2 2l-7 2l-4 2l-3 4l-2 1l-1 2l1 0l1 2l-2 2l-1 2l2 3l7 -1l1 4l-7 1l-5 1l-7 2l-8 0l-3 0l-7 3l-2 0l-1 0l0 3l3 -2l13 -2l4 0l-9 3l-11 2l-1 1l0 5l-4 6l-5 4l-4 -3l2 5l1 3l-2 3l-1 2l-6 8l-1 -4l1 -6l-1 -1l-1 -2l-2 -1l1 -3l1 -5l-3 2l-1 0l0 7l2 4l-1 0l-1 0l3 2l-1 3l0 6l1 0l2 1l2 3l1 4l2 9l-10 7l-1 0l-4 -1l-9 8l-6 0l-7 7l-1 1l-6 4l-2 2l-3 2l-4 3l-3 5l-3 8l1 6l0 3l4 8l2 3l2 2l2 10l3 7l-1 10l-3 6l-7 1l-6 -8l-1 -5l0 -1l-4 -3l-3 -6l-3 -5l1 -4l1 -1l-2 -6l-6 -7l-3 -3l-6 -1l-7 5l-4 -1l-3 -5l-8 -2l-10 1l-5 0l1 -2l-1 0l-1 1l-3 2l-12 0l-2 1l1 0l3 0l-2 4l2 3l4 2l-4 2l-6 -2l-8 1l-2 -1l-3 -1l-5 -2l-5 -1l-2 0l-7 -2l-6 1l-5 2l-4 1l-4 3l-3 2l-10 5l-3 3l-3 2l-3 6l-1 5l3 8l-4 1l-7 -2l-9 -3l-4 -11l-6 -6l-2 -2l-3 -8l-8 -7l-8 -1l-1 0l-1 1l-3 1l-4 7l-9 -3l-5 -4l-4 -9l-11 -8l-5 -4l-17 0l0 4l0 1l-28 0l-21 -7l-17 -5l1 -2l-24 2l-2 -5l-3 -4l-3 -2l-5 -2l-1 -2l-7 -2l-4 -2l-9 -1l-1 -1l0 -5l-3 -3l-4 -3l-6 -6l0 -3l0 -1l1 -1l-2 -2l-4 -2l-1 -3l0 -3l-5 -2l0 -3l-6 -5l-1 -1l-1 -9l-6 -6l3 -6l-1 -10l-2 -5l-1 -4l3 -6l1 -6l0 -4l2 -10zM492 96l0 1l1 0l0 -1z" fill="#FFD37F"/><path d="M7 31l6 0l3 1l6 -9l0 -2l0 -1l2 0l0 -2l-1 -7l-3 -7l67 0l0 10l3 5l0 1l-13 3l0 7l1 4l5 3l0 1l-4 7l-3 4l2 2l0 1l0 3l-1 1l13 2l7 -6l1 -4l12 -8l-1 -1l-6 0l-1 0l0 -1l1 -7l15 -13l1 -14l156 0l2 10l1 2l1 3l1 6l2 9l0 1l-3 3l4 2l0 1l0 8l0 10l-1 0l1 10l3 6l-13 8l0 11l-20 0l-12 0l-14 0l0 6l-23 7l0 -1l-12 -13l-13 13l1 18l-3 0l-1 17l-1 0l-18 2l0 17l0 21l-20 0l-21 -7l-17 -5l1 -2l-24 2l-2 -5l-3 -4l-3 -2l-5 -2l-1 -2l-7 -2l-4 -2l-9 -1l-1 -1l0 -5l-3 -3l-4 -3l-6 -6l0 -3l0 -1l1 -1l-2 -2l-4 -2l-1 -3l0 -3l-5 -2l0 -3l-6 -5l-1 -1l-1 -9l-6 -6l3 -6l-1 -10l-2 -5l-1 -4l3 -6l1 -6l0 -4l2 -10zM17 12l3 0l1 4l0 1l-1 0l-3 -4zM420 210l1 0l11 2l8 -5l2 2l2 10l3 7l-1 10l-3 6l-7 1l-6 -8l-1 -5l0 -1l-4 -3l-3 -6l-3 -5l1 -4zM323 190l1 0l11 -3l4 9l-2 6l-3 -1l-5 -2l-5 -1l-2 0zM356 108l1 -4l-5 -11l3 -4l17 3l0 1l0 7l0 4l1 5l-5 6l-1 1l-1 1l-1 0zM442 74l1 0l0 12l-1 0l-9 0l-3 4l0 1l-7 0l-3 -5l-10 2l-2 2l-9 -1l0 -3l-9 0l-1 1l-8 -1l-4 5l-5 0l0 -15l3 1l3 -1l1 0l1 0l9 0l10 0l10 0l4 0l0 1l4 1l3 1l7 0l3 -1l4 -2zM397 67l-12 0l-3 -9l1 -2l2 -9l6 -3l0 -1l1 0l7 8l2 -1l6 -12l1 0l5 4l1 5l0 4l-5 4l2 2l-3 7l-10 2zM352 60l9 -6l-2 -7l9 -8l1 0l1 1l2 3l-1 0l-3 4l0 1l2 -1l7 -6l-5 8l0 6l-2 4l-2 4l1 6l1 0l-1 0l-16 0zM493 62l6 -9l-4 -8l5 -1l14 0l7 0l11 0l0 -1l1 0l0 1l-1 5l-5 4l-1 3l-2 5l-2 5l1 0l0 1l-8 0l-1 0l0 -1l0 -8l0 -3l-1 -3l-7 4l1 11l0 1l-1 0l-2 1l-1 0l-10 -6z" fill="#FFAA00"/><path d="M174 161l0 -1l8 -11l-7 -8l2 -17l0 -1l3 0l-2 -18l13 -13l1 0l12 14l22 -6l0 -6l1 0l0 -1l16 0l14 0l15 0l16 0l5 0l-4 -5l-1 -1l0 -5l-2 -5l-1 -2l-3 -6l-1 -10l0 -1l1 0l0 -17l0 -1l-3 -2l-1 0l3 -4l-2 -9l0 -2l-1 -4l-2 -5l-1 -10l19 0l-2 16l8 5l9 -4l14 12l1 0l0 -2l0 -4l3 -1l1 0l-3 -14l8 1l6 -1l13 2l-5 2l-10 5l-8 5l8 -1l3 -1l3 4l11 -3l7 -4l8 -2l-3 3l1 3l4 0l5 4l2 -1l9 -1l10 -1l4 3l5 0l0 5l-6 1l-8 -2l-10 2l-4 2l-1 0l-6 6l-2 -2l0 -1l-3 -5l-10 -2l-2 -1l-2 11l8 4l1 7l-8 6l0 8l5 0l11 0l0 1l3 7l0 3l0 14l-16 -3l-4 3l6 11l-1 4l8 8l1 0l0 -1l5 -1l6 0l1 0l6 -1l6 -3l0 1l8 17l-21 1l-10 0l-1 0l0 -2l-13 2l2 -5l-3 -3l-7 -7l-8 6l-1 0l-12 -10l-4 0l-4 19l-14 0l1 11l0 17l0 1l-1 0l-8 -3l-5 1l-2 1l-6 -1l-2 0l-4 0l-7 -2l-7 -1l-6 -2l-6 -2l-11 11l7 18l10 3l14 -7l12 8l4 -1l20 17l0 1l-1 0l-4 1l-4 3l-3 2l-10 5l-3 3l-3 2l-3 6l-1 5l3 8l-4 1l-7 -2l-9 -3l-4 -11l-6 -6l-2 -2l-3 -8l-8 -7l-8 -1l-1 0l-1 1l-3 1l-4 7l-9 -3l-5 -4l-4 -9l-11 -8l-5 -4l-3 0zM319 47l0 -1l0 -2l0 -3l-1 1l-4 16l8 0l13 0l-1 -2l-6 -5l-1 -1zM247 128l1 0l0 1l0 9l9 -4l1 -10l0 -1l1 0l7 0l-1 -11l-7 -4l-11 6l-5 -5l-15 1l0 14l-9 0l0 4zM98 52l-8 6l-13 -1l0 -1l0 -1l1 -3l-3 -2l0 -1l3 -5l4 -6l-4 -4l-1 -4l0 -7l12 -4l-3 -5l0 -10l34 0l-1 15l-15 12l-1 7l6 0l1 0l0 1l0 1l1 0l-1 0l-12 9zM399 187l-1 0l-1 -3l-1 -5l1 -6l7 -1l5 -9l-2 -5l0 -1l11 -8l-4 -2l-1 0l2 -3l-11 0l0 -2l0 -1l12 -5l4 -1l7 -3l3 -4l1 0l6 0l8 0l16 0l16 0l12 0l1 4l2 9l-10 7l-1 0l-4 -1l-9 8l-6 0l-7 7l-1 1l-6 4l-2 2l-3 2l-4 3l-3 5l-3 8l-5 0l-1 3l0 1l0 -1l-1 0l-1 -1l-14 -1zM409 106l1 1l7 -1l1 0l3 3l4 -2l4 -3l1 0l0 1l-8 7l6 6l0 1l-17 9l-5 0l3 -21zM540 63l-3 -3l0 -3l-11 -2l0 -1l0 -1l1 0l4 -4l1 -5l0 -1l1 -2l3 0l3 -1l4 -4l1 -1l1 -4l2 -4l8 -8l3 3l6 -2l5 3l1 0l0 12l3 3l0 4l5 4l-7 3l-7 2l-5 -1l-1 2l-2 2l-7 2l-4 2l-3 4z" fill="#FFEBAF"/><path d="M398 184l-1 0l-13 0l-1 0l1 -12l-9 -2l-2 -10l-8 -2l-1 0l2 -13l-1 -1l-19 0l4 -10l2 -5l0 -1l1 0l14 -1l0 1l1 0l19 0l10 0l-8 -17l1 0l0 -1l3 -4l6 -4l5 2l5 2l0 1l-3 20l4 0l1 0l20 1l-3 5l-1 0l-11 4l-8 4l-3 1l0 1l11 0l1 0l0 1l-3 3l4 1l1 0l0 1l-11 9l2 5l-6 9l0 1l-6 0l-1 6zM317 42l2 -2l1 1l0 3l0 2l7 3l1 0l7 6l0 4l-22 0zM23 20l0 1l0 2l-7 10l-3 -1l-6 0l0 -1l0 -4l-1 -3l-3 -6l-3 -5l0 -3l6 2l9 0l3 0l3 4l1 4l0 1l0 -1z" fill="#E0FFBD"/><use href="#b"/></g></g><g filter="url(#bl)"><g transform="translate(326.90 207.99) scale(0.2866 0.2925)"><path d="M7 31l0 -4l-1 -3l-3 -6l-3 -5l0 -3l6 2l9 0l5 0l1 4l1 4l0 1l0 -1l2 0l0 -2l-1 -7l-3 -7l276 0l0 -4l3 1l2 6l8 1l4 0l4 0l6 3l2 1l8 1l6 -1l13 2l-5 2l-10 5l-8 5l8 -1l3 -1l3 4l11 -3l7 -4l8 -2l-3 3l1 3l4 0l5 4l2 -1l9 -1l10 -1l4 3l5 0l0 5l-6 1l-8 -2l-10 2l-4 2l-1 0l-6 6l-3 4l0 1l2 -1l7 -6l-5 8l0 6l-2 4l-2 4l1 6l3 7l3 1l3 -1l1 0l3 -3l3 -5l0 -1l-3 -9l1 -2l2 -9l6 -3l0 -1l6 -6l3 -1l5 1l3 1l5 4l1 5l0 4l-5 4l2 2l0 1l7 -5l5 11l-1 4l-6 3l-1 3l-2 2l0 1l4 1l3 1l7 0l3 -1l4 -2l8 -2l8 -3l7 -4l1 -2l-1 -4l15 0l5 0l2 0l6 -3l-1 -5l5 -4l5 -4l6 -1l14 0l7 0l11 0l0 -1l1 -2l3 0l3 -1l4 -4l1 -1l1 -4l2 -4l8 -8l3 3l6 -2l5 3l1 0l0 12l3 3l0 4l5 4l-7 3l-7 2l-5 -1l-1 2l-2 2l-7 2l-4 2l-3 4l-2 1l-1 2l1 0l1 2l-2 2l-1 2l2 3l7 -1l1 4l-7 1l-5 1l-7 2l-8 0l-3 0l-7 3l-2 0l-1 0l0 3l3 -2l13 -2l4 0l-9 3l-11 2l-1 1l0 5l-4 6l-5 4l-4 -3l2 5l1 3l-2 3l-1 2l-6 8l-1 -4l1 -6l-1 -1l-1 -2l-2 -1l1 -3l1 -5l-3 2l-1 0l0 7l2 4l-1 0l-1 0l3 2l-1 3l0 6l1 0l2 1l2 3l1 4l2 9l-10 7l-1 0l-4 -1l-9 8l-6 0l-7 7l-1 1l-6 4l-2 2l-3 2l-4 3l-3 5l-3 8l1 6l0 3l4 8l2 3l2 2l2 10l3 7l-1 10l-3 6l-7 1l-6 -8l-1 -5l0 -1l-4 -3l-3 -6l-3 -5l1 -4l1 -1l-2 -6l-6 -7l-3 -3l-6 -1l-7 5l-4 -1l-3 -5l-8 -2l-10 1l-5 0l1 -2l-1 0l-1 1l-3 2l-12 0l-2 1l1 0l3 0l-2 4l2 3l4 2l-4 2l-6 -2l-8 1l-2 -1l-3 -1l-5 -2l-5 -1l-2 0l-7 -2l-6 1l-5 2l-4 1l-4 3l-3 2l-10 5l-3 3l-3 2l-3 6l-1 5l3 8l-4 1l-7 -2l-9 -3l-4 -11l-6 -6l-2 -2l-3 -8l-8 -7l-8 -1l-1 0l-1 1l-3 1l-4 7l-9 -3l-5 -4l-4 -9l-11 -8l-5 -4l-17 0l0 4l0 1l-28 0l-21 -7l-17 -5l1 -2l-24 2l-2 -5l-3 -4l-3 -2l-5 -2l-1 -2l-7 -2l-4 -2l-9 -1l-1 -1l0 -5l-3 -3l-4 -3l-6 -6l0 -3l0 -1l1 -1l-2 -2l-4 -2l-1 -3l0 -3l-5 -2l0 -3l-6 -5l-1 -1l-1 -9l-6 -6l3 -6l-1 -10l-2 -5l-1 -4l3 -6l1 -6l0 -4l2 -10zM492 96l0 1l1 0l0 -1z" fill="#38A800"/><path d="M155 53l0 1l-9 11l-9 0l-1 -1l0 -20l1 0l0 -1l15 0l1 0l0 1z" fill="#FFEBAF"/><path d="M156 159l1 0l0 -1l18 2l7 -12l9 0l7 9l0 1l-2 16l-1 0l-13 0l0 2l-17 0l0 4l0 1l-28 0l-21 -7l-17 -5l1 -2l-24 2l-2 -5l-3 -4l-1 0l4 -12l17 -11l1 0l9 6l0 1l1 2l2 2l16 -1l6 5l6 0l9 9zM64 116l-4 14l0 1l-19 12l0 1l0 -1l-3 -3l-4 -3l-6 -6l0 -3l0 -1l1 -1l-2 -2l-4 -2l-1 -3l0 -3l-5 -2l0 -3l-6 -5l0 -1l16 -10l20 6l1 0l0 1l0 2l3 2zM150 84l-13 0l-1 0l0 -20l1 0l9 0l8 -11l-2 -9l0 -1l23 0l14 0l18 0l0 1l0 19l0 21l-12 0l-19 0l-5 0l-8 -14l-10 2zM356 124l-2 5l-1 0l-2 5l-1 0l-6 0l-1 0l2 -5l-10 0l1 -10l-13 -9l0 -1l12 -13l6 6l0 2l4 1l1 0l0 1l0 2l-2 4l2 1l7 8l3 2zM207 35l-1 0l0 -1l0 -17l1 -1l13 1l2 -1l1 0l10 4l7 -4l9 5l0 13l0 1l-1 0l-15 0l-15 0z" fill="#A3FF73"/><path d="M217 174l-22 0l2 -16l-6 -9l-9 0l-7 12l-18 -2l-1 0l0 -16l0 -19l-17 0l-4 0l5 17l1 0l-1 0l0 1l-8 11l-6 0l-1 0l-5 -5l-16 1l-1 0l-2 -3l0 -2l-1 -5l-1 -6l1 0l0 -1l6 0l0 -8l0 -15l1 -1l16 0l6 -8l-8 -9l4 -17l-5 0l-17 0l4 -14l-10 -8l1 -4l12 -8l-1 -1l-6 0l-1 0l0 -1l1 -7l15 -13l1 0l21 14l0 12l-3 0l0 5l0 12l0 13l0 9l6 0l7 0l2 -11l11 -3l1 0l7 14l21 0l0 1l0 8l0 1l-13 13l1 17l16 0l21 0l1 0l0 1l0 5l0 13l-1 14zM71 161l0 -1l-3 -2l-5 -2l-1 -2l-7 -2l-4 -2l-9 -1l-1 -1l0 -5l19 -13l3 -14l1 0l6 4l18 13l4 4l-17 12l-4 11zM207 84l-1 0l0 -20l0 -18l0 -12l1 0l19 0l19 0l19 0l17 0l-2 -9l0 -2l-1 -4l-1 -2l-12 5l-1 0l-6 -5l-10 5l-8 -5l-7 4l-11 -4l-2 1l-13 -1l-1 0l0 -13l88 0l-2 16l8 5l9 -4l14 12l1 0l0 -2l0 -4l3 -1l1 0l-3 -14l8 1l6 -1l13 2l-5 2l-10 5l-8 5l8 -1l3 -1l3 4l1 0l10 3l2 1l10 2l1 0l0 1l2 4l1 1l2 3l-1 0l-3 4l0 1l2 -1l7 -6l-5 8l0 6l-2 4l-2 4l1 6l3 7l0 3l0 14l0 7l-14 4l-1 0l-5 -10l-1 0l-1 0l-14 -9l0 -1l0 -4l1 0l0 -1l7 -1l1 -2l0 -3l-4 -4l-5 -2l0 -1l-1 -6l0 -1l-1 -3l-6 -5l-1 -1l-8 -3l0 -1l0 -2l0 -3l-2 1l-17 -2l-1 19l-1 0l-15 0l-1 0l0 -10l-11 3l-7 -5l-8 5l0 12l-1 0l-10 0l0 9l11 7l-2 13l3 0l15 0l0 1l1 13l-8 5l-7 -4l-11 6l-5 -5l-15 1l-1 0l0 -16l0 -10l-5 0zM60 74l-18 0l-20 0l-17 0l-2 -5l-1 -4l3 -6l1 -6l0 -4l2 -10l-1 -8l6 0l3 1l6 -9l1 0l13 7l6 -10l5 -1l4 3l11 -5l4 2l11 -2l0 13l1 4l-11 0l-3 0l2 19l-1 0l-6 3zM246 213l11 -9l-3 -22l0 -1l15 -7l12 8l-7 23l7 7l-1 1l-3 2l-3 6l-1 5l3 8l-4 1l-7 -2l-9 -3l-4 -11zM308 197l2 -9l1 -3l0 -3l-2 -4l-1 -1l0 -1l8 -3l1 -9l0 -1l11 0l8 0l0 1l1 5l2 2l-5 7l-2 5l4 0l14 0l0 1l4 -4l-3 -9l4 -3l-2 -11l3 -2l9 1l0 1l-1 12l-1 6l0 6l1 9l0 2l-1 0l-12 0l-2 1l-10 3l-2 6l-3 -1l-5 -2l-5 -1l-2 0l-7 -2l-6 1zM372 191l1 -4l-2 -1l0 -1l0 -1l0 -1l21 0l5 0l1 0l0 1l1 2l12 1l0 -8l-7 -7l5 -9l1 0l8 3l7 -8l0 -1l1 0l0 1l7 5l0 1l2 6l2 2l2 1l0 1l-3 5l-3 8l1 6l0 3l4 8l2 3l2 2l2 10l3 7l-1 10l-3 6l-7 1l-6 -8l-1 -5l0 -1l-4 -3l-3 -6l-3 -5l1 -4l1 -1l-2 -6l-6 -7l-3 -3l-6 -1l-7 5l-4 -1l-3 -5l-8 -2zM385 171l0 -1l0 -11l-7 -3l0 -12l0 -1l13 1l1 0l2 11l2 10l1 5l0 1l-11 0zM376 115l0 -1l1 0l1 0l3 0l-2 -10l5 -4l1 0l7 7l1 -1l6 -4l5 2l5 2l0 1l-3 21l-8 0l-21 1zM427 119l-2 -2l-4 -4l0 -1l0 -2l0 -1l4 -2l4 -3l3 -3l0 -1l1 0l0 1l4 6l8 -1l2 -10l5 0l14 0l15 0l1 0l0 1l0 3l1 2l-1 0l0 7l2 4l-1 0l-1 0l-3 -1l-8 6l1 10l5 0l12 0l1 4l2 9l-10 7l-1 0l-4 -1l-9 8l-6 0l0 1l-12 -10l-2 0l2 -5l-5 -13l-10 0l-1 0l0 -7zM470 101l-1 -3l-3 0l-3 0l-6 2l1 6l2 -1l4 -2l5 -1zM430 91l-7 0l-3 -5l-10 2l-1 0l0 -11l-10 0l-1 0l-19 0l0 -1l3 -3l3 -5l0 -1l-3 -9l1 -2l2 -9l6 -3l0 -1l6 -6l3 -1l5 1l3 1l0 1l-6 11l7 4l0 1l2 2l-3 7l7 9l0 1l-2 2l0 1l4 1l3 1l7 0l3 -1l4 -2l8 -2l1 0l0 12l-1 0l-9 0l-3 4zM486 106l0 3l0 1l0 -1l-2 -1l1 -3l0 -1l0 1l1 0zM492 100l-1 0l0 -1l1 -2l1 0l0 -1l0 -1l4 -2l2 -1l-1 -2l-3 -3l1 -3l4 -4l-2 -1l-1 -1l-1 0l-2 -4l-6 0l-10 0l-13 0l-15 0l-1 0l0 -3l1 0l7 -4l1 -2l-1 -4l15 0l5 0l2 0l6 -3l-1 -5l5 -4l5 -4l2 0l4 8l0 1l-6 8l10 6l2 -1l8 2l0 -3l0 -8l0 -3l-1 -6l0 -5l1 0l7 0l1 0l0 10l3 1l1 -1l11 2l1 0l0 1l0 3l3 3l-1 0l-1 2l1 0l1 2l-2 2l-1 2l2 3l7 -1l1 4l-7 1l-5 1l-7 2l-8 0l-3 0l-7 3l-2 0l-1 0l0 3l0 1l-1 1l0 5l-4 6l-5 4l-4 -3zM558 52l-1 0l-4 -12l-9 -5l1 -4l2 -4l8 -8l3 3l6 -2l5 3l1 0l0 12l3 3l0 4l5 4l-7 3l-7 2l-5 -1z" fill="#55FF00"/><use href="#b"/></g></g><g filter="url(#bl)"><g transform="translate(497.90 204.09) scale(0.2868 0.2921)"><path d="M7 31l0 -4l-1 -3l-3 -6l-3 -5l0 -3l6 2l9 0l5 0l1 4l1 4l0 1l0 -1l2 0l0 -2l-1 -7l-3 -7l276 0l0 -4l3 1l2 6l8 1l4 0l4 0l6 3l2 1l8 1l6 -1l13 2l-5 2l-10 5l-8 5l8 -1l3 -1l3 4l11 -3l7 -4l8 -2l-3 3l1 3l4 0l5 4l2 -1l9 -1l10 -1l4 3l5 0l0 5l-6 1l-8 -2l-10 2l-4 2l-1 0l-6 6l-3 4l0 1l2 -1l7 -6l-5 8l0 6l-2 4l-2 4l1 6l3 7l3 1l3 -1l1 0l3 -3l3 -5l0 -1l-3 -9l1 -2l2 -9l6 -3l0 -1l6 -6l3 -1l5 1l3 1l5 4l1 5l0 4l-5 4l2 2l0 1l7 -5l5 11l-1 4l-6 3l-1 3l-2 2l0 1l4 1l3 1l7 0l3 -1l4 -2l8 -2l8 -3l7 -4l1 -2l-1 -4l15 0l5 0l2 0l6 -3l-1 -5l5 -4l5 -4l6 -1l14 0l7 0l11 0l0 -1l1 -2l3 0l3 -1l4 -4l1 -1l1 -4l2 -4l8 -8l3 3l6 -2l5 3l1 0l0 12l3 3l0 4l5 4l-7 3l-7 2l-5 -1l-1 2l-2 2l-7 2l-4 2l-3 4l-2 1l-1 2l1 0l1 2l-2 2l-1 2l2 3l7 -1l1 4l-7 1l-5 1l-7 2l-8 0l-3 0l-7 3l-2 0l-1 0l0 3l3 -2l13 -2l4 0l-9 3l-11 2l-1 1l0 5l-4 6l-5 4l-4 -3l2 5l1 3l-2 3l-1 2l-6 8l-1 -4l1 -6l-1 -1l-1 -2l-2 -1l1 -3l1 -5l-3 2l-1 0l0 7l2 4l-1 0l-1 0l3 2l-1 3l0 6l1 0l2 1l2 3l1 4l2 9l-10 7l-1 0l-4 -1l-9 8l-6 0l-7 7l-1 1l-6 4l-2 2l-3 2l-4 3l-3 5l-3 8l1 6l0 3l4 8l2 3l2 2l2 10l3 7l-1 10l-3 6l-7 1l-6 -8l-1 -5l0 -1l-4 -3l-3 -6l-3 -5l1 -4l1 -1l-2 -6l-6 -7l-3 -3l-6 -1l-7 5l-4 -1l-3 -5l-8 -2l-10 1l-5 0l1 -2l-1 0l-1 1l-3 2l-12 0l-2 1l1 0l3 0l-2 4l2 3l4 2l-4 2l-6 -2l-8 1l-2 -1l-3 -1l-5 -2l-5 -1l-2 0l-7 -2l-6 1l-5 2l-4 1l-4 3l-3 2l-10 5l-3 3l-3 2l-3 6l-1 5l3 8l-4 1l-7 -2l-9 -3l-4 -11l-6 -6l-2 -2l-3 -8l-8 -7l-8 -1l-1 0l-1 1l-3 1l-4 7l-9 -3l-5 -4l-4 -9l-11 -8l-5 -4l-17 0l0 4l0 1l-28 0l-21 -7l-17 -5l1 -2l-24 2l-2 -5l-3 -4l-3 -2l-5 -2l-1 -2l-7 -2l-4 -2l-9 -1l-1 -1l0 -5l-3 -3l-4 -3l-6 -6l0 -3l0 -1l1 -1l-2 -2l-4 -2l-1 -3l0 -3l-5 -2l0 -3l-6 -5l-1 -1l-1 -9l-6 -6l3 -6l-1 -10l-2 -5l-1 -4l3 -6l1 -6l0 -4l2 -10zM492 96l0 1l1 0l0 -1z" fill="#FFEBAF"/><path d="M157 181l-20 0l-21 -7l-17 -5l1 -2l0 -1l2 -3l-2 -3l3 -7l0 -1l2 -1l-2 -2l-2 -3l0 -2l-1 -5l-1 -6l1 0l0 -1l6 0l1 -8l0 -1l15 0l12 0l23 0l0 1l0 18l0 18zM64 116l-4 14l0 1l-19 12l0 1l0 -1l-3 -3l-4 -3l-6 -6l0 -3l0 -1l1 -1l-2 -2l-4 -2l-1 -3l0 -3l-5 -2l0 -3l-6 -5l-1 -1l-1 -9l-6 -6l3 -6l-1 -10l0 -1l22 0l20 0l1 0l0 1l0 28l0 2l3 2zM175 43l14 0l18 0l0 1l0 19l-15 2l-1 0l-1 0l-7 1l-1 0l-11 -6l0 -1l4 -15zM535 76l0 1l-1 0l0 -1l-1 -2l-4 0l-3 0l-14 0l0 -1l1 -4l-7 -1l0 -1l-1 -11l-6 -2l-4 -9l5 -1l14 0l7 0l11 0l0 -1l1 -2l3 0l1 0l1 16l0 3l3 3l-1 0l-1 2l1 0l1 2l-1 1l-1 1l-1 2l0 1zM361 54l-2 -7l9 -8l1 0l1 1l2 3l-1 0l-3 4l0 1l2 -1l7 -6l-5 8l0 6l-2 4l-9 -4zM207 35l-1 0l0 -1l0 -17l1 -1l13 1l2 -1l1 0l10 4l7 -4l9 5l0 13l0 1l-1 0l-15 0l-15 0z" fill="#FFAA00"/><path d="M134 99l1 0l8 7l-4 18l-12 0l-20 0l0 8l-7 1l0 6l1 5l-14 -10l-13 -10l-5 -3l-22 -17l0 -6l0 -24l0 -1l32 0l14 0l-3 -15l-13 -1l0 -1l0 -1l1 -3l-3 -2l0 -1l3 -5l4 -6l7 0l8 -13l-7 -5l-4 -6l0 -10l34 0l-1 14l21 14l0 12l-3 0l0 5l-5 0l-8 0l-5 0l-2 9l-10 2l-3 13l3 0l0 1l0 18l14 -1l1 0l8 8zM180 124l-23 0l-1 0l0 -25l0 -15l-6 0l-13 0l-1 0l0 -20l1 0l9 0l7 8l10 -3l1 0l7 14l21 0l0 1l0 8l0 1l-13 13zM35 55l6 3l1 16l-20 0l-17 0l-2 -5l-1 -4l3 -6l1 -6l11 0l6 5l11 -3zM174 30l6 -7l0 -19l95 0l2 10l1 2l1 3l1 6l2 9l0 1l-18 0l-16 0l0 -1l0 -12l-8 -5l-7 4l-11 -4l-2 1l-13 -1l0 10l0 17l-34 0l1 -13zM78 34l-11 0l-10 0l-3 1l-1 0l-2 -13l-4 -2l-1 0l3 -16l28 0l0 13l0 13zM23 20l0 1l0 2l-7 10l-3 -1l-6 0l0 -1l0 -4l-1 -3l-3 -6l-3 -5l0 -3l6 2l9 0l5 0l1 4l1 4l0 1l0 -1zM284 182l20 -24l-2 0l0 -1l0 -3l0 -1l13 -3l5 6l9 -6l8 5l4 -7l0 -1l2 -1l3 -3l10 0l9 0l13 0l13 1l1 0l2 11l2 10l1 5l1 1l-1 8l1 5l1 2l12 1l14 1l1 0l1 1l0 -3l6 0l0 1l1 6l0 3l4 8l2 3l2 2l2 10l3 7l-1 10l-3 6l-7 1l-6 -8l-1 -5l0 -1l-4 -3l-3 -6l-3 -5l1 -4l1 -1l-2 -6l-6 -7l-3 -3l-6 -1l-7 5l-4 -1l-3 -5l-8 -2l-10 1l1 -4l-2 -1l0 -1l0 -1l0 -1l12 0l1 -11l-9 -2l-6 5l-6 0l0 6l1 9l0 2l-1 0l-12 0l-2 1l1 0l3 0l-2 4l2 3l4 2l-4 2l-6 -2l-8 1l-2 -1l-3 -1l-5 -2l-5 -1l-2 0l-7 -2l-6 1l-5 2zM442 97l0 -11l0 -12l8 -3l7 -4l1 -2l-1 -4l15 0l5 0l2 0l6 -3l-1 -5l5 -4l5 -4l2 0l4 8l6 2l1 12l0 1l-1 0l-2 1l-5 10l2 1l-4 4l-1 2l0 1l4 5l-6 4l-1 0l-1 0l-1 0l-1 1l-1 0l-4 0l-13 0l-8 0l-11 0zM540 63l-3 -3l-1 -19l3 -1l4 -4l1 -1l1 -4l2 -4l8 -8l3 3l6 -2l5 3l1 0l0 12l3 3l0 4l5 4l-7 3l-7 2l-5 -1l-1 2l-2 2l-7 2l-4 2l-3 4z" fill="#FFD37F"/><path d="M305 198l0 1l-1 0l-4 1l-4 3l-3 2l-10 5l-3 3l-3 2l-3 6l-1 5l3 8l-4 1l-7 -2l-9 -3l-4 -11l-6 -6l-2 -2l-3 -8l-8 -7l-8 -1l-1 0l-1 1l-8 -22l-20 0l-13 0l0 2l-3 0l-5 -15l0 -1l8 -11l-7 -8l2 -17l0 -1l19 0l21 0l23 0l0 1l-1 4l8 0l1 0l0 1l0 9l9 -4l1 -10l0 -1l1 0l15 0l14 0l13 0l0 -15l0 -6l-3 -6l-4 -2l-5 -6l-1 -1l0 -5l-2 -5l-1 -2l-3 -6l-1 -10l0 -1l1 0l0 -17l0 -1l-3 -2l-1 0l3 -4l-2 -9l0 -2l-1 -4l-2 -5l-1 -10l21 0l0 -4l3 1l2 6l8 1l4 0l4 0l6 3l2 1l1 0l3 14l8 -1l3 -1l3 4l1 0l10 3l2 1l10 2l1 0l0 1l2 4l0 1l-9 7l1 7l9 4l0 1l-2 4l1 6l1 0l-1 0l-16 0l-11 0l4 3l0 1l0 3l-1 2l0 1l-1 0l-7 1l0 2l0 4l-4 4l0 4l1 1l1 1l6 6l0 2l4 1l1 0l0 1l0 2l-2 4l2 1l0 1l-9 6l-1 0l-12 -10l-4 0l-4 19l-14 0l1 11l0 17l2 1l1 0l-1 0l-20 24zM24 39l-5 -2l-1 -4l-2 0l-1 0l0 -1l7 -9l0 -2l0 -1l2 0l0 -2l-1 -7l-3 -7l29 0l-2 15l4 3l1 0l2 13l-12 2l-5 1l-2 0l-7 -1zM346 144l4 -10l2 -5l0 -1l1 0l2 -4l1 0l0 -1l6 -1l0 -2l4 -4l0 -1l5 -1l6 0l1 0l3 0l-2 -10l5 -4l0 -1l-7 -8l0 -1l4 -4l-3 -9l0 -1l1 0l1 0l9 0l10 0l1 0l0 10l0 11l0 6l4 1l5 2l1 1l7 -1l1 0l3 3l4 -2l4 -3l1 0l0 1l-8 7l6 6l7 3l9 -3l2 -3l4 -7l1 0l0 -1l7 -1l2 -1l4 -2l5 -1l1 -2l3 2l4 3l0 1l-2 4l3 0l1 1l3 2l3 2l-1 3l0 6l1 0l2 1l2 3l0 1l-12 0l-2 11l6 7l0 1l-4 -1l-9 8l-6 0l0 1l-12 -10l-2 0l-7 0l-2 7l-1 0l-10 -1l-4 5l-6 -8l-4 -2l-1 0l2 -3l-11 0l-13 0l-4 0l-19 0l-3 0z" fill="#E0FFBD"/><use href="#b"/></g></g><g filter="url(#bl)"><g transform="translate(674.40 207.99) scale(0.2870 0.2925)"><path d="M7 31l0 -4l-1 -3l-3 -6l-3 -5l0 -3l6 2l9 0l5 0l1 4l1 4l0 1l0 -1l2 0l0 -2l-1 -7l-3 -7l276 0l0 -4l3 1l2 6l8 1l4 0l4 0l6 3l2 1l8 1l6 -1l13 2l-5 2l-10 5l-8 5l8 -1l3 -1l3 4l11 -3l7 -4l8 -2l-3 3l1 3l4 0l5 4l2 -1l9 -1l10 -1l4 3l5 0l0 5l-6 1l-8 -2l-10 2l-4 2l-1 0l-6 6l-3 4l0 1l2 -1l7 -6l-5 8l0 6l-2 4l-2 4l1 6l3 7l3 1l3 -1l1 0l3 -3l3 -5l0 -1l-3 -9l1 -2l2 -9l6 -3l0 -1l6 -6l3 -1l5 1l3 1l5 4l1 5l0 4l-5 4l2 2l0 1l7 -5l5 11l-1 4l-6 3l-1 3l-2 2l0 1l4 1l3 1l7 0l3 -1l4 -2l8 -2l8 -3l7 -4l1 -2l-1 -4l15 0l5 0l2 0l6 -3l-1 -5l5 -4l5 -4l6 -1l14 0l7 0l11 0l0 -1l1 -2l3 0l3 -1l4 -4l1 -1l1 -4l2 -4l8 -8l3 3l6 -2l5 3l1 0l0 12l3 3l0 4l5 4l-7 3l-7 2l-5 -1l-1 2l-2 2l-7 2l-4 2l-3 4l-2 1l-1 2l1 0l1 2l-2 2l-1 2l2 3l7 -1l1 4l-7 1l-5 1l-7 2l-8 0l-3 0l-7 3l-2 0l-1 0l0 3l3 -2l13 -2l4 0l-9 3l-11 2l-1 1l0 5l-4 6l-5 4l-4 -3l2 5l1 3l-2 3l-1 2l-6 8l-1 -4l1 -6l-1 -1l-1 -2l-2 -1l1 -3l1 -5l-3 2l-1 0l0 7l2 4l-1 0l-1 0l3 2l-1 3l0 6l1 0l2 1l2 3l1 4l2 9l-10 7l-1 0l-4 -1l-9 8l-6 0l-7 7l-1 1l-6 4l-2 2l-3 2l-4 3l-3 5l-3 8l1 6l0 3l4 8l2 3l2 2l2 10l3 7l-1 10l-3 6l-7 1l-6 -8l-1 -5l0 -1l-4 -3l-3 -6l-3 -5l1 -4l1 -1l-2 -6l-6 -7l-3 -3l-6 -1l-7 5l-4 -1l-3 -5l-8 -2l-10 1l-5 0l1 -2l-1 0l-1 1l-3 2l-12 0l-2 1l1 0l3 0l-2 4l2 3l4 2l-4 2l-6 -2l-8 1l-2 -1l-3 -1l-5 -2l-5 -1l-2 0l-7 -2l-6 1l-5 2l-4 1l-4 3l-3 2l-10 5l-3 3l-3 2l-3 6l-1 5l3 8l-4 1l-7 -2l-9 -3l-4 -11l-6 -6l-2 -2l-3 -8l-8 -7l-8 -1l-1 0l-1 1l-3 1l-4 7l-9 -3l-5 -4l-4 -9l-11 -8l-5 -4l-17 0l0 4l0 1l-28 0l-21 -7l-17 -5l1 -2l-24 2l-2 -5l-3 -4l-3 -2l-5 -2l-1 -2l-7 -2l-4 -2l-9 -1l-1 -1l0 -5l-3 -3l-4 -3l-6 -6l0 -3l0 -1l1 -1l-2 -2l-4 -2l-1 -3l0 -3l-5 -2l0 -3l-6 -5l-1 -1l-1 -9l-6 -6l3 -6l-1 -10l-2 -5l-1 -4l3 -6l1 -6l0 -4l2 -10zM492 96l0 1l1 0l0 -1z" fill="#FFAA00"/><path d="M217 156l0 1l-19 1l-2 16l-1 0l-13 0l0 2l-3 0l-5 -15l0 -1l8 -11l-7 -8l2 -17l0 -1l3 0l-2 -18l13 -13l1 0l12 14l22 -6l0 -6l1 0l0 -1l16 0l14 0l15 0l16 0l5 0l-4 -5l1 0l25 -1l0 1l0 18l-1 0l0 1l-12 1l0 4l0 12l0 5l1 11l0 17l2 1l2 0l0 16l3 4l2 4l-1 6l-2 9l-5 2l-4 1l-4 3l-3 2l-10 5l-3 3l-7 -7l0 -1l7 -23l-11 -7l0 -21l-1 0l-7 -1l-6 -2l-8 -2l0 -1l0 -10l0 -9l-8 0l-21 0l0 13zM274 138l4 2l9 -3l1 -13l-5 0l-9 0zM134 99l1 0l8 7l-4 18l-12 0l-20 0l0 8l-7 1l0 6l1 5l-14 -10l-13 -10l-5 -3l-22 -17l0 -6l29 -5l8 12l22 -1l0 -12l0 -18l1 0l0 -1l19 0l0 1l-4 17l8 8zM323 190l1 0l10 -3l2 -3l-5 0l2 -6l-6 -2l-1 0l0 -1l1 -11l0 -1l1 0l7 0l1 -2l1 -6l4 -7l0 -1l2 -1l3 -3l10 0l9 0l13 0l0 1l1 12l6 2l8 -4l1 0l0 1l2 10l1 5l1 1l-1 8l1 5l-1 0l-13 0l-9 0l-3 0l0 1l2 2l-1 4l-1 0l-5 0l1 -2l-1 0l-1 1l-3 2l-12 0l-2 1l-10 3l-2 6l-3 -1l-5 -2l-5 -1l-2 0zM356 124l-2 5l-1 0l-2 5l-1 0l-6 0l-1 0l2 -5l-10 0l1 -10l-13 -9l0 -1l12 -13l6 6l0 2l4 1l1 0l0 1l0 2l-2 4l2 1l7 8l3 2zM331 74l-1 0l-7 -1l-1 -14l0 -1l13 0l0 1l2 7l0 1l-6 6zM346 46l5 -3l2 -11l0 -1l1 0l2 1l10 2l1 0l0 1l2 4l1 1l2 3l-1 0l-3 4l0 1l2 -1l7 -6l-5 8l0 6l-2 4l-9 -4l-8 5l-1 0l-7 -5l0 -1l0 -8zM399 103l-5 4l-1 1l-1 0l-8 -7l-5 3l-8 -1l1 -3l0 -9l0 -15l3 1l3 -1l1 0l1 0l9 0l10 0l1 0l0 10l0 11zM496 45l4 8l0 1l-6 9l-3 0l-2 11l-1 0l-10 0l-1 0l0 -13l2 0l6 -3l-1 -5l5 -4l5 -4z" fill="#FFD37F"/><path d="M281 212l-1 1l-3 2l-3 6l-1 5l3 8l-4 1l-7 -2l-9 -3l-4 -11l-6 -6l-2 -2l-3 -8l-8 -7l-8 -1l-1 0l-1 1l-3 1l-4 7l-9 -3l-5 -4l-4 -9l-11 -8l-5 -4l-1 -2l0 -1l34 0l2 0l0 -15l0 -29l0 -1l30 0l1 0l0 1l0 19l1 0l6 2l6 2l7 1l1 1l1 0l-1 20l12 8l-7 23zM302 88l-12 0l-1 0l-1 -1l0 -5l-2 -5l-1 -2l-3 -6l-1 -10l0 -1l14 0l3 0l1 -18l1 -15l9 -4l14 12l0 1l-4 3l1 4l0 3l0 2l7 3l1 0l7 6l0 4l-12 0l0 13l7 1l6 -7l1 0l4 2l5 4l0 1l0 3l-1 2l0 1l-1 0l-7 1l0 2l0 4l-4 4l0 4l1 1l1 1l1 0l0 1l-1 0l-11 13l-4 0l-1 0l-5 -4l1 -18l-9 0zM385 159l-7 -3l0 -12l0 -1l9 1l-1 -15l-9 0l-1 -14l0 -1l1 0l1 0l6 -1l6 -3l3 -4l6 -4l5 2l5 2l1 1l7 -1l1 0l3 3l4 -2l4 -3l1 0l0 1l-8 7l6 6l0 1l-16 8l19 1l-3 5l-1 0l-11 4l-8 4l-3 1l-1 2l-12 0l2 11zM540 63l-3 -3l-1 -19l3 -1l4 -4l1 -1l1 -4l2 -4l8 -8l3 3l6 -2l5 3l1 0l0 12l3 3l0 4l5 4l-7 3l-7 2l-5 -1l-1 2l-2 2l-7 2l-4 2l-3 4z" fill="#FFEBAF"/><use href="#b"/></g></g><g filter="url(#bl)"><g transform="translate(848.90 207.99) scale(0.2873 0.2925)"><path d="M7 31l0 -4l-1 -3l-3 -6l-3 -5l0 -3l6 2l9 0l5 0l1 4l1 4l0 1l0 -1l2 0l0 -2l-1 -7l-3 -7l276 0l0 -4l3 1l2 6l8 1l4 0l4 0l6 3l2 1l8 1l6 -1l13 2l-5 2l-10 5l-8 5l8 -1l3 -1l3 4l11 -3l7 -4l8 -2l-3 3l1 3l4 0l5 4l2 -1l9 -1l10 -1l4 3l5 0l0 5l-6 1l-8 -2l-10 2l-4 2l-1 0l-6 6l-3 4l0 1l2 -1l7 -6l-5 8l0 6l-2 4l-2 4l1 6l3 7l3 1l3 -1l1 0l3 -3l3 -5l0 -1l-3 -9l1 -2l2 -9l6 -3l0 -1l6 -6l3 -1l5 1l3 1l5 4l1 5l0 4l-5 4l2 2l0 1l7 -5l5 11l-1 4l-6 3l-1 3l-2 2l0 1l4 1l3 1l7 0l3 -1l4 -2l8 -2l8 -3l7 -4l1 -2l-1 -4l15 0l5 0l2 0l6 -3l-1 -5l5 -4l5 -4l6 -1l14 0l7 0l11 0l0 -1l1 -2l3 0l3 -1l4 -4l1 -1l1 -4l2 -4l8 -8l3 3l6 -2l5 3l1 0l0 12l3 3l0 4l5 4l-7 3l-7 2l-5 -1l-1 2l-2 2l-7 2l-4 2l-3 4l-2 1l-1 2l1 0l1 2l-2 2l-1 2l2 3l7 -1l1 4l-7 1l-5 1l-7 2l-8 0l-3 0l-7 3l-2 0l-1 0l0 3l3 -2l13 -2l4 0l-9 3l-11 2l-1 1l0 5l-4 6l-5 4l-4 -3l2 5l1 3l-2 3l-1 2l-6 8l-1 -4l1 -6l-1 -1l-1 -2l-2 -1l1 -3l1 -5l-3 2l-1 0l0 7l2 4l-1 0l-1 0l3 2l-1 3l0 6l1 0l2 1l2 3l1 4l2 9l-10 7l-1 0l-4 -1l-9 8l-6 0l-7 7l-1 1l-6 4l-2 2l-3 2l-4 3l-3 5l-3 8l1 6l0 3l4 8l2 3l2 2l2 10l3 7l-1 10l-3 6l-7 1l-6 -8l-1 -5l0 -1l-4 -3l-3 -6l-3 -5l1 -4l1 -1l-2 -6l-6 -7l-3 -3l-6 -1l-7 5l-4 -1l-3 -5l-8 -2l-10 1l-5 0l1 -2l-1 0l-1 1l-3 2l-12 0l-2 1l1 0l3 0l-2 4l2 3l4 2l-4 2l-6 -2l-8 1l-2 -1l-3 -1l-5 -2l-5 -1l-2 0l-7 -2l-6 1l-5 2l-4 1l-4 3l-3 2l-10 5l-3 3l-3 2l-3 6l-1 5l3 8l-4 1l-7 -2l-9 -3l-4 -11l-6 -6l-2 -2l-3 -8l-8 -7l-8 -1l-1 0l-1 1l-3 1l-4 7l-9 -3l-5 -4l-4 -9l-11 -8l-5 -4l-17 0l0 4l0 1l-28 0l-21 -7l-17 -5l1 -2l-24 2l-2 -5l-3 -4l-3 -2l-5 -2l-1 -2l-7 -2l-4 -2l-9 -1l-1 -1l0 -5l-3 -3l-4 -3l-6 -6l0 -3l0 -1l1 -1l-2 -2l-4 -2l-1 -3l0 -3l-5 -2l0 -3l-6 -5l-1 -1l-1 -9l-6 -6l3 -6l-1 -10l-2 -5l-1 -4l3 -6l1 -6l0 -4l2 -10zM492 96l0 1l1 0l0 -1z" fill="#FFAA00"/><path d="M281 212l-1 1l-3 2l-3 6l-1 5l3 8l-4 1l-7 -2l-9 -3l-4 -11l-6 -6l-2 -2l-3 -8l-8 -7l-8 -1l-1 0l-1 1l-3 1l-4 7l-9 -3l-5 -4l-4 -9l-11 -8l-5 -4l-1 -2l0 -1l34 0l2 0l0 -15l0 -29l0 -1l22 0l0 -4l0 -1l1 0l19 0l15 0l14 0l13 0l0 1l1 0l0 5l1 11l-10 1l-5 -3l-10 3l-1 0l-4 -3l-8 3l-8 -7l-9 5l0 9l1 0l6 2l6 2l7 1l1 1l6 1l6 0l6 1l7 -1l9 2l2 1l1 0l-1 0l-20 24l-4 1l-7 22zM272 83l-9 -6l0 -1l2 -11l0 -1l3 1l7 0l5 2l3 1l0 1l3 6l-13 8zM370 69l-1 0l-16 0l-12 0l-5 -2l0 -1l-1 -6l0 -1l-1 -3l-6 -5l0 -1l7 -9l-11 -10l0 -4l3 -1l2 0l8 -1l3 -1l3 4l1 0l0 1l-6 12l8 5l6 -3l8 4l8 -8l1 0l1 1l2 3l-1 0l-3 4l0 1l2 -1l7 -6l-5 8l0 6l-2 4l-2 4l1 6zM439 173l0 1l-3 5l-3 8l-5 0l-1 3l0 1l0 -1l-1 0l-1 -1l-14 -1l-12 -1l-1 0l-1 -3l-1 -5l1 -6l0 -2l-2 -6l-1 -5l0 -1l10 -3l1 0l3 1l0 1l2 5l8 3l7 -8l0 -1l1 0l0 1l7 5l0 1l2 6l2 2zM368 129l0 -1l19 0l18 0l5 -1l1 0l20 1l-3 5l-1 0l-11 4l-8 4l-3 1l-1 2l-13 0l-4 0l-19 0zM471 118l-8 -3l-1 0l-2 -9l-1 0l-1 1l-7 1l-1 2l-1 1l0 -1l-4 -4l2 -10l5 0l1 0l0 1l0 4l4 -2l6 -2l6 0l0 1l1 2l3 2l4 3l0 1l-2 4l3 0l1 1l0 1zM506 68l0 -1l-1 -12l1 0l7 -4l0 -2l0 -5l1 0l7 0l11 0l0 -1l1 0l0 1l-1 5l-5 4l-1 3l-2 5l-2 5l1 0l0 1l-8 0l-1 2l0 1zM558 52l-1 0l-4 -12l-9 -5l1 -4l2 -4l8 -8l3 3l6 -2l5 3l1 0l0 12l3 3l0 4l5 4l-7 3l-7 2l-5 -1z" fill="#FFD37F"/><path d="M130 100l-6 9l-1 0l-16 0l-1 0l0 -17l0 -18l1 0l0 -1l19 0l0 1l-4 17zM301 108l0 -6l-3 -6l-4 -2l-5 -6l1 0l11 0l-6 -15l-9 2l-1 0l-3 -6l-1 -10l0 -1l14 0l15 0l12 0l13 0l0 1l2 7l4 2l5 4l0 1l0 3l-1 2l0 1l-1 0l-7 1l0 2l0 4l-4 4l0 4l1 1l1 1l1 0l0 1l-1 0l-11 13l-4 0l-1 0l-5 -3zM409 107l0 -1l1 1l7 -1l1 0l3 3l4 -2l4 -3l1 0l0 1l-8 7l6 6l0 1l-17 9l-5 0zM360 47l-8 -3l-6 3l-9 -6l6 -13l1 0l10 3l2 1l10 2l1 0l0 1l2 4l0 1z" fill="#FFEBAF"/><use href="#b"/></g></g><g filter="url(#bl)"><g transform="translate(152.60 285.89) scale(0.2838 0.2916)"><path d="M7 31l0 -4l-1 -3l-3 -6l-3 -5l0 -3l6 2l9 0l5 0l1 4l1 4l0 1l0 -1l2 0l0 -2l-1 -7l-3 -7l276 0l0 -4l3 1l2 6l8 1l4 0l4 0l6 3l2 1l8 1l6 -1l13 2l-5 2l-10 5l-8 5l8 -1l3 -1l3 4l11 -3l7 -4l8 -2l-3 3l1 3l4 0l5 4l2 -1l9 -1l10 -1l4 3l5 0l0 5l-6 1l-8 -2l-10 2l-4 2l-1 0l-6 6l-3 4l0 1l2 -1l7 -6l-5 8l0 6l-2 4l-2 4l1 6l3 7l3 1l3 -1l1 0l3 -3l3 -5l0 -1l-3 -9l1 -2l2 -9l6 -3l0 -1l6 -6l3 -1l5 1l3 1l5 4l1 5l0 4l-5 4l2 2l0 1l7 -5l5 11l-1 4l-6 3l-1 3l-2 2l0 1l4 1l3 1l7 0l3 -1l4 -2l8 -2l8 -3l7 -4l1 -2l-1 -4l15 0l5 0l2 0l6 -3l-1 -5l5 -4l5 -4l6 -1l14 0l7 0l11 0l0 -1l1 -2l3 0l3 -1l4 -4l1 -1l1 -4l2 -4l8 -8l3 3l6 -2l5 3l1 0l0 12l3 3l0 4l5 4l-7 3l-7 2l-5 -1l-1 2l-2 2l-7 2l-4 2l-3 4l-2 1l-1 2l1 0l1 2l-2 2l-1 2l2 3l7 -1l1 4l-7 1l-5 1l-7 2l-8 0l-3 0l-7 3l-2 0l-1 0l0 3l3 -2l13 -2l4 0l-9 3l-11 2l-1 1l0 5l-4 6l-5 4l-4 -3l2 5l1 3l-2 3l-1 2l-6 8l-1 -4l1 -6l-1 -1l-1 -2l-2 -1l1 -3l1 -5l-3 2l-1 0l0 7l2 4l-1 0l-1 0l3 2l-1 3l0 6l1 0l2 1l2 3l1 4l2 9l-10 7l-1 0l-4 -1l-9 8l-6 0l-7 7l-1 1l-6 4l-2 2l-3 2l-4 3l-3 5l-3 8l1 6l0 3l4 8l2 3l2 2l2 10l3 7l-1 10l-3 6l-7 1l-6 -8l-1 -5l0 -1l-4 -3l-3 -6l-3 -5l1 -4l1 -1l-2 -6l-6 -7l-3 -3l-6 -1l-7 5l-4 -1l-3 -5l-8 -2l-10 1l-5 0l1 -2l-1 0l-1 1l-3 2l-12 0l-2 1l1 0l3 0l-2 4l2 3l4 2l-4 2l-6 -2l-8 1l-2 -1l-3 -1l-5 -2l-5 -1l-2 0l-7 -2l-6 1l-5 2l-4 1l-4 3l-3 2l-10 5l-3 3l-3 2l-3 6l-1 5l3 8l-4 1l-7 -2l-9 -3l-4 -11l-6 -6l-2 -2l-3 -8l-8 -7l-8 -1l-1 0l-1 1l-3 1l-4 7l-9 -3l-5 -4l-4 -9l-11 -8l-5 -4l-17 0l0 4l0 1l-28 0l-21 -7l-17 -5l1 -2l-24 2l-2 -5l-3 -4l-3 -2l-5 -2l-1 -2l-7 -2l-4 -2l-9 -1l-1 -1l0 -5l-3 -3l-4 -3l-6 -6l0 -3l0 -1l1 -1l-2 -2l-4 -2l-1 -3l0 -3l-5 -2l0 -3l-6 -5l-1 -1l-1 -9l-6 -6l3 -6l-1 -10l-2 -5l-1 -4l3 -6l1 -6l0 -4l2 -10zM492 96l0 1l1 0l0 -1z" fill="#FFEBAF"/><path d="M74 148l-14 -17l0 -1l3 -14l-16 -12l0 -6l29 -5l8 12l23 -1l0 19l15 0l12 0l23 0l20 0l0 1l-1 17l7 7l0 1l-8 12l-18 -2l0 1l0 21l-20 0l-21 -7l-17 -5l1 -2l-24 2l-2 -5l-3 -4l-1 0zM150 84l-1 0l3 -12l-6 -7l-1 0l1 -1l8 -11l1 0l12 8l4 -2l1 0l11 6l7 -1l2 0l15 -2l0 1l0 21l-12 0l-19 0l-5 0zM272 83l-9 -6l0 -1l2 -11l0 -1l3 1l7 0l5 2l2 1l-1 -9l0 -1l1 0l0 -17l0 -1l-3 -2l-1 0l3 -4l-2 -9l0 -2l-1 -4l-2 -5l-1 -10l21 0l0 -4l3 1l2 6l8 1l4 0l4 0l6 3l2 1l8 1l6 -1l13 2l-5 2l-10 5l-8 5l8 -1l3 -1l3 4l1 0l10 3l2 1l10 2l1 0l0 1l2 4l1 1l2 3l-1 0l-3 4l0 1l2 -1l7 -6l-5 8l0 6l-2 4l-2 4l1 6l3 7l3 1l3 -1l1 0l1 0l9 0l10 0l1 0l0 10l0 11l-1 0l-10 -2l-4 4l-1 0l-7 -8l-5 0l0 2l-17 -3l0 -1l0 -7l3 -3l0 -10l-5 0l-11 0l4 3l0 1l0 3l-1 2l0 1l-1 0l-7 1l0 2l0 4l-4 4l0 4l1 1l1 1l1 0l0 1l-1 0l-11 13l-4 0l-1 0l-5 -4l1 -18l-9 0l-4 0l-12 0l-1 0l-1 -1l0 -5l-2 -5l-1 -2l-12 8zM47 19l4 3l11 -5l4 2l0 1l1 14l-10 0l-3 1l-12 2l-5 1l-1 0l-1 -7l-13 -8l0 -2l0 -1l2 0l0 -2l10 -4l1 0l7 6zM429 230l0 -1l-4 -3l-3 -6l-3 -5l1 -4l1 -1l-2 -6l15 -11l0 3l4 8l2 3l2 2l2 10l3 7l-12 0zM474 140l-9 1l-1 0l-3 -3l-10 3l-1 0l-5 -13l16 0l16 0l12 0l1 4l2 9l-10 7l-1 0l-1 0zM464 97l-11 0l-11 0l0 -8l-1 1l-2 7l-3 2l-1 0l-5 -8l-7 0l-4 -5l2 -7l6 0l3 -1l4 -2l8 -2l8 -3l7 -4l1 -2l-1 -4l15 0l5 0l2 0l6 -3l-1 -5l5 -4l5 -4l6 -1l14 0l7 0l11 0l0 -1l1 -2l3 0l3 -1l4 -4l1 -1l1 -4l2 -4l8 -8l3 3l6 -2l5 3l1 0l0 12l3 3l0 4l5 4l-7 3l-7 2l-5 -1l-1 2l-2 2l-7 2l-4 2l-3 4l-2 1l-1 2l1 0l1 2l-2 2l-1 2l2 3l7 -1l1 4l-7 1l-5 1l-7 2l-8 0l-3 0l-7 3l-2 0l-1 0l-8 -3l-2 -2l-1 -1l-1 0l-2 -4l-6 0l-10 0l-13 0l-1 0l1 9l0 1l-2 2zM507 88l0 -1l1 0l3 -2l13 -2l4 0l-9 3l-11 2z" fill="#FFAA00"/><path d="M322 198l1 -8l-3 -4l3 -9l4 -2l7 2l0 1l-2 5l4 0l14 0l0 1l-1 3l3 5l-1 0l-2 1l1 0l3 0l-2 4l2 3l4 2l-4 2l-6 -2l-8 1l-2 -1l-3 -1l-5 -2l-5 -1zM335 129l-19 0l-15 0l0 -5l0 -16l13 -2l6 4l3 -1l12 -13l6 6l0 2l4 1l1 0l0 1l0 2l-2 4l2 1l0 1l-9 5zM5 73l22 0l20 0l32 0l0 1l-3 19l-28 5l0 4l-1 0l-20 -6l-15 10l-1 0l-1 -1l-1 -9l-6 -6l3 -6l-1 -10zM153 72l-3 12l-13 0l-1 0l0 -20l0 -20l1 0l0 -1l15 0l1 0l0 1l2 9l0 1l-9 11zM264 77l-1 0l-7 4l0 -1l-12 -7l-5 6l-1 0l-12 -1l0 -1l-3 -13l0 -1l21 0l18 0l3 1l0 1l1 0l-2 11zM279 19l1 6l2 9l0 1l-18 0l0 -1l0 -12l-6 -5l-1 -13l18 0l2 10l1 2zM140 33l-1 0l-21 -14l0 -1l1 -14l62 0l0 19l0 1l-7 7l-22 -13zM434 225l13 0l0 1l-1 10l-3 6l-7 1l-6 -8l-1 -5zM426 158l-7 8l-1 0l-8 -3l-1 0l-2 -5l-2 -1l-10 3l-1 0l-3 -16l11 0l2 0l12 -1l1 0l0 1l-3 3l4 1l1 0l0 1zM379 77l0 -1l3 -3l3 -5l0 -1l-3 -9l1 -2l2 -9l6 -3l0 -1l6 -6l3 -1l5 1l3 1l5 4l1 5l0 4l-5 4l2 2l-3 7l7 9l0 1l-2 2l0 1l-14 0l-1 0z" fill="#FFD37F"/><path d="M156 181l0 -22l1 0l0 -1l18 2l7 -11l-7 -8l2 -17l0 -1l19 0l21 0l9 0l0 -13l1 0l15 -2l5 5l10 -5l-1 -14l0 -1l1 0l15 0l16 0l6 0l4 2l1 0l0 1l3 6l0 10l0 12l0 4l11 0l12 0l12 0l9 0l0 1l-2 4l6 0l2 -4l0 -1l1 0l2 -4l1 0l0 -1l6 -1l0 -2l3 -3l-9 -9l1 -4l-5 -11l3 -4l17 3l0 1l0 7l0 4l1 5l-5 6l3 -1l6 0l1 0l6 -1l6 -3l3 -4l6 -4l5 2l5 2l1 1l7 -1l1 0l3 3l4 -2l4 -3l1 0l0 1l-8 7l6 6l0 1l-16 8l19 1l-3 5l-1 0l-11 4l-8 4l-3 1l-1 2l-12 0l2 11l1 4l9 -3l1 0l3 1l0 1l2 5l8 3l7 -8l0 -1l1 0l0 1l7 5l0 1l2 6l2 2l2 1l0 1l-3 5l-3 8l1 6l0 1l-14 10l-1 0l-6 -7l-3 -3l-6 -1l-7 5l-4 -1l-3 -5l-8 -2l-10 1l1 -4l-2 -1l0 -1l0 -1l0 -1l21 0l5 0l-1 -4l1 -6l0 -2l-11 0l-2 1l-9 -2l-6 5l-6 0l-1 0l0 -1l2 -16l2 -13l-1 -1l-19 0l-1 2l-3 2l-4 7l-2 9l-16 0l-13 0l-1 0l0 -5l-4 -1l-8 -3l-5 1l-2 1l-6 -1l-2 0l-4 0l-7 -2l-7 -1l-6 -2l-8 -2l0 -1l0 -10l0 -9l-8 0l-21 0l0 13l-1 14l0 18l-22 0l-13 0l0 2l-17 0l0 4l0 1zM27 95l20 6l1 0l0 1l0 2l3 2l0 1l-22 20l-1 0l1 -1l-2 -2l-4 -2l-1 -3l0 -3l-5 -2l0 -3l-6 -5l0 -1zM84 106l-1 0l-7 -13l3 -19l0 -1l28 0l0 1l0 30l0 1zM137 74l-17 0l1 -12l-4 -4l-10 3l0 -1l-9 -8l-8 6l-13 -1l0 -1l0 -1l1 -3l-3 -2l0 -1l3 -5l4 -6l-4 -4l-1 -4l0 -7l0 -19l10 0l0 10l3 5l8 6l2 1l4 1l-1 11l6 0l1 0l0 1l0 1l3 4l4 5l2 0l5 -1l8 0l5 1l0 12zM22 74l-17 0l-2 -5l-1 -4l3 -6l1 -6l0 -4l2 -10l-1 -8l0 -4l-1 -3l-3 -6l-3 -5l0 -3l6 2l9 0l5 0l1 4l1 4l0 1l0 -1l1 0l0 1l0 2l13 7l1 8l-2 0l-1 0l1 17l0 1l-11 3zM207 64l-1 0l0 -18l0 -12l0 -17l0 -13l52 0l1 13l6 4l-1 13l0 1l0 11l7 5l-1 15l-1 0l-1 0l-6 -2l-7 0l-16 0l-18 0zM35 14l-11 4l-1 -7l-3 -7l16 0zM454 124l8 -9l-3 -9l0 -1l1 0l4 -2l5 -1l1 -2l3 2l4 3l0 1l-2 4l3 0l1 1l3 2l3 2l-1 3l0 6l1 0l2 1l2 3l0 1l-17 0l-18 -1l0 -3z" fill="#E0FFBD"/><path d="M285 181l20 17l0 1l-1 0l-4 1l-4 3l-3 2l-10 5l-3 3l-7 -7l-16 -2l-10 9l-1 0l-2 -2l-3 -8l-8 -7l-8 -1l-1 0l-1 1l-9 -22l1 0l0 -1l2 0l0 -15l0 -29l0 -1l30 0l1 0l0 1l0 19l1 0l6 2l6 2l7 1l1 1l1 0l-1 20l12 8zM50 106l1 0l13 10l-4 14l0 1l-19 12l0 1l0 -1l-3 -3l-4 -3l-6 -6l0 -3l0 -1l1 -1zM258 108l-11 6l-5 -5l-15 1l-1 0l0 -16l1 0l0 -1l13 0l-2 -15l6 -5l1 0l11 7l-2 13l3 0l0 1z" fill="#A3FF73"/><path d="M224 195l-1 1l-3 1l-4 7l-9 -3l-5 -4l-4 -9l-11 -8l-5 -4l-1 -2l0 -1l34 0l0 1zM307 158l0 16l3 4l2 4l-1 6l-2 9l-5 2l-19 -17l-4 1l-1 0l0 -1l-11 -7l0 -21l6 1l6 0l6 1l7 -1l9 2l2 1z" fill="#55FF00"/><path d="M257 203l16 2l8 7l-1 1l-3 2l-3 6l-1 5l3 8l-4 1l-7 -2l-9 -3l-4 -11l-6 -6z" fill="#38A800"/><use href="#b"/></g></g><g filter="url(#bl)"><g transform="translate(326.40 281.79) scale(0.2870 0.2929)"><path d="M7 31l0 -4l-1 -3l-3 -6l-3 -5l0 -3l6 2l9 0l5 0l1 4l1 4l0 1l0 -1l2 0l0 -2l-1 -7l-3 -7l276 0l0 -4l3 1l2 6l8 1l4 0l4 0l6 3l2 1l8 1l6 -1l13 2l-5 2l-10 5l-8 5l8 -1l3 -1l3 4l11 -3l7 -4l8 -2l-3 3l1 3l4 0l5 4l2 -1l9 -1l10 -1l4 3l5 0l0 5l-6 1l-8 -2l-10 2l-4 2l-1 0l-6 6l-3 4l0 1l2 -1l7 -6l-5 8l0 6l-2 4l-2 4l1 6l3 7l3 1l3 -1l1 0l3 -3l3 -5l0 -1l-3 -9l1 -2l2 -9l6 -3l0 -1l6 -6l3 -1l5 1l3 1l5 4l1 5l0 4l-5 4l2 2l0 1l7 -5l5 11l-1 4l-6 3l-1 3l-2 2l0 1l4 1l3 1l7 0l3 -1l4 -2l8 -2l8 -3l7 -4l1 -2l-1 -4l15 0l5 0l2 0l6 -3l-1 -5l5 -4l5 -4l6 -1l14 0l7 0l11 0l0 -1l1 -2l3 0l3 -1l4 -4l1 -1l1 -4l2 -4l8 -8l3 3l6 -2l5 3l1 0l0 12l3 3l0 4l5 4l-7 3l-7 2l-5 -1l-1 2l-2 2l-7 2l-4 2l-3 4l-2 1l-1 2l1 0l1 2l-2 2l-1 2l2 3l7 -1l1 4l-7 1l-5 1l-7 2l-8 0l-3 0l-7 3l-2 0l-1 0l0 3l3 -2l13 -2l4 0l-9 3l-11 2l-1 1l0 5l-4 6l-5 4l-4 -3l2 5l1 3l-2 3l-1 2l-6 8l-1 -4l1 -6l-1 -1l-1 -2l-2 -1l1 -3l1 -5l-3 2l-1 0l0 7l2 4l-1 0l-1 0l3 2l-1 3l0 6l1 0l2 1l2 3l1 4l2 9l-10 7l-1 0l-4 -1l-9 8l-6 0l-7 7l-1 1l-6 4l-2 2l-3 2l-4 3l-3 5l-3 8l1 6l0 3l4 8l2 3l2 2l2 10l3 7l-1 10l-3 6l-7 1l-6 -8l-1 -5l0 -1l-4 -3l-3 -6l-3 -5l1 -4l1 -1l-2 -6l-6 -7l-3 -3l-6 -1l-7 5l-4 -1l-3 -5l-8 -2l-10 1l-5 0l1 -2l-1 0l-1 1l-3 2l-12 0l-2 1l1 0l3 0l-2 4l2 3l4 2l-4 2l-6 -2l-8 1l-2 -1l-3 -1l-5 -2l-5 -1l-2 0l-7 -2l-6 1l-5 2l-4 1l-4 3l-3 2l-10 5l-3 3l-3 2l-3 6l-1 5l3 8l-4 1l-7 -2l-9 -3l-4 -11l-6 -6l-2 -2l-3 -8l-8 -7l-8 -1l-1 0l-1 1l-3 1l-4 7l-9 -3l-5 -4l-4 -9l-11 -8l-5 -4l-17 0l0 4l0 1l-28 0l-21 -7l-17 -5l1 -2l-24 2l-2 -5l-3 -4l-3 -2l-5 -2l-1 -2l-7 -2l-4 -2l-9 -1l-1 -1l0 -5l-3 -3l-4 -3l-6 -6l0 -3l0 -1l1 -1l-2 -2l-4 -2l-1 -3l0 -3l-5 -2l0 -3l-6 -5l-1 -1l-1 -9l-6 -6l3 -6l-1 -10l-2 -5l-1 -4l3 -6l1 -6l0 -4l2 -10zM492 96l0 1l1 0l0 -1z" fill="#FFAA00"/><path d="M60 130l3 -14l-16 -12l0 -2l-20 -6l-1 0l0 -22l1 0l0 -1l14 0l-1 -15l1 0l10 -5l-4 -17l0 -1l1 0l5 -1l-2 -12l11 -5l4 2l0 1l1 13l11 0l-1 -3l0 -7l0 -19l104 0l0 19l0 1l-6 7l-1 13l-1 0l-33 0l-3 0l0 5l-5 0l-8 0l-7 1l-4 -5l-1 0l-2 -4l-12 8l0 3l9 8l-3 14l-1 0l-10 0l-14 0l-3 19l8 12l23 -1l0 19l15 0l0 1l-2 24l6 4l6 0l9 9l16 -2l0 1l0 21l-20 0l-21 -7l-17 -5l1 -2l-24 2l-2 -5l-3 -4l-3 -2l-5 -2l-1 -2l-7 -2l-4 -2l-9 -1l-1 -1l0 -5zM345 113l1 0l7 8l3 2l6 -1l0 -2l4 -4l0 -1l5 -1l6 0l1 0l6 -1l6 -3l3 -4l6 -4l5 2l5 2l1 1l7 -1l1 0l3 3l4 -2l4 -3l1 0l0 1l-8 7l6 6l0 1l-17 9l-5 0l-8 0l-21 1l-10 0l-1 0l0 -2l-13 2l-2 5l-1 0l-6 0l-1 0l2 -5l-10 0l-19 0l-1 0l4 -19l5 -1l13 10zM179 105l1 19l-23 0l-1 0l0 -25l1 0zM434 225l-2 -12l0 -1l8 -5l2 2l2 10l3 7l-1 10l-3 6l-7 1l-6 -8l-1 -5zM424 175l-4 -2l-2 -7l-8 -3l-1 0l-2 -5l0 -1l11 -8l1 0l7 9l7 5l0 1l2 6zM454 164l-5 -8l-9 1l-2 -4l2 -7l-1 0l-2 -2l-2 -1l2 -15l8 0l16 0l16 0l-2 12l-10 1l-2 14l-1 0l-7 7l-1 1z" fill="#FFD37F"/><path d="M48 102l0 2l3 2l0 1l-22 20l-1 0l1 -1l-2 -2l-4 -2l-1 -3l0 -3l-5 -2l0 -3l-6 -5l-1 -1l-1 -9l-6 -6l3 -6l-1 -10l-2 -5l-1 -4l3 -6l1 -6l0 -4l2 -10l-1 -8l0 -4l-1 -3l-3 -6l-3 -5l0 -3l6 2l9 0l5 0l1 4l1 4l0 1l0 -1l2 0l0 -2l-1 -7l-3 -7l29 0l-2 15l4 3l1 0l2 13l-6 1l4 17l0 1l-1 0l-10 5l1 15l-15 0l0 21l20 6l1 0zM142 106l-8 -6l-4 0l-9 -9l4 -17l0 -1l1 0l10 0l0 -9l0 -20l1 0l0 -1l15 0l23 0l14 0l17 0l0 -9l0 -17l0 -13l35 0l0 12l8 5l0 13l15 0l0 12l7 5l-1 15l-1 0l-1 0l-3 -1l-1 11l9 7l0 10l15 0l6 0l4 2l1 0l0 1l3 6l0 10l0 12l0 4l11 0l12 0l0 1l0 11l3 2l0 1l2 8l-1 0l-8 6l-1 6l8 0l7 0l1 -2l1 -6l4 -7l0 -1l2 -1l3 -2l4 -10l2 -5l0 -1l1 0l14 -1l0 1l1 0l19 0l18 0l5 -1l1 0l20 1l-3 5l-1 0l-11 4l-8 4l-3 1l0 1l11 0l1 0l0 1l-3 3l4 1l1 0l0 1l-11 9l2 5l9 3l2 7l3 1l11 -5l0 1l2 2l2 1l0 1l-3 5l-3 8l1 6l0 1l-14 10l-1 0l-6 -7l-3 -3l-6 -1l-7 5l-4 -1l-3 -5l-8 -2l-10 1l-5 0l1 -2l-1 0l-1 1l-3 2l-12 0l-3 -5l1 -2l0 -1l-5 0l-8 0l-1 3l4 9l-2 6l-3 -1l-5 -2l-5 -1l-2 0l-7 -2l-6 1l-1 0l2 -9l1 -3l0 -3l-2 -4l-1 -1l-1 -3l-1 0l0 -10l0 -5l-4 -1l-8 -3l-5 1l-1 0l5 -15l-6 -4l1 -13l-5 0l-9 0l0 14l-1 0l-8 3l-8 -7l-10 5l0 -1l0 -9l-8 0l0 -5l-12 0l-1 0l0 -14l0 -16l1 0l0 -1l16 0l10 0l2 -13l-11 -7l0 -9l-5 0l-15 0l2 13l0 1l-4 6l-1 0l-14 0l-12 0l-19 0l-5 0l-14 0l0 21l-14 1zM394 160l-1 -5l-8 4l1 11l11 0l-2 -5zM433 212l0 1l2 12l0 1l-6 4l0 -1l-4 -3l-3 -6l-3 -5l1 -4l0 -1l1 0l11 2zM421 110l-4 -3l-1 0l-6 1l-6 -3l-1 0l0 -1l7 -9l-2 -5l0 -1l1 -2l11 -2l0 1l3 4l7 0l6 9l-3 2l-3 4l-4 3l-1 0z" fill="#FFEBAF"/><path d="M156 181l0 -22l0 -16l0 -19l-17 0l-12 0l-20 0l-1 0l0 -15l0 -4l-22 1l-1 0l-7 -13l3 -19l0 -1l28 0l19 0l0 1l-4 17l8 8l4 0l1 0l8 7l14 -1l0 18l20 0l3 0l-2 -17l-21 -6l-1 0l0 -1l0 -15l1 0l0 -1l35 0l29 0l5 -6l-3 -13l0 -1l21 0l1 0l0 1l0 9l11 7l-2 14l-1 0l-12 0l-14 0l0 6l0 23l13 0l0 1l-1 4l8 0l1 0l0 1l0 9l9 -4l1 0l7 6l8 -2l0 -14l0 -1l1 0l14 0l1 0l0 1l-1 13l5 4l-4 15l5 -1l9 2l2 1l2 0l0 16l3 4l2 4l-1 6l-2 9l-5 2l-4 1l-4 3l-3 2l-10 5l-3 3l-3 2l-3 6l-1 5l3 8l-4 1l-7 -2l-9 -3l-4 -11l-6 -6l11 -10l16 2l7 -23l-11 -7l-14 7l-1 0l-10 -4l-7 -18l-20 -1l0 15l-22 0l-13 0l0 2l-17 0l0 4l0 1zM174 30l6 -7l0 -19l27 0l0 23l0 17l-34 0l1 -13zM385 171l0 -1l0 -12l8 -4l1 0l0 1l2 10l1 5l0 1l-11 0zM320 156l9 -5l-1 -8l-4 -2l1 -12l0 -1l12 0l9 0l0 1l-2 4l6 0l1 0l0 1l-4 10l-2 2l-3 2l-4 7l-2 9l-16 0l-1 0z" fill="#E0FFBD"/><path d="M224 195l-1 1l-3 1l-4 7l-9 -3l-5 -4l-4 -9l-11 -8l-5 -4l-1 -2l0 -1l34 0l0 1z" fill="#55FF00"/><path d="M247 213l-1 0l-2 -2l-3 -8l-8 -7l-8 -1l-1 0l-1 1l-9 -22l1 0l0 -1l2 0l0 -15l20 2l1 0l7 18l10 3l14 -7l12 8l-8 23l0 1l-16 -2z" fill="#4CE600"/><use href="#b"/></g></g><g filter="url(#bl)"><g transform="translate(496.10 284.08) scale(0.2870 0.2941)"><path d="M7 31l0 -4l-1 -3l-3 -6l-3 -5l0 -3l6 2l9 0l5 0l1 4l1 4l0 1l0 -1l2 0l0 -2l-1 -7l-3 -7l276 0l0 -4l3 1l2 6l8 1l4 0l4 0l6 3l2 1l8 1l6 -1l13 2l-5 2l-10 5l-8 5l8 -1l3 -1l3 4l11 -3l7 -4l8 -2l-3 3l1 3l4 0l5 4l2 -1l9 -1l10 -1l4 3l5 0l0 5l-6 1l-8 -2l-10 2l-4 2l-1 0l-6 6l-3 4l0 1l2 -1l7 -6l-5 8l0 6l-2 4l-2 4l1 6l3 7l3 1l3 -1l1 0l3 -3l3 -5l0 -1l-3 -9l1 -2l2 -9l6 -3l0 -1l6 -6l3 -1l5 1l3 1l5 4l1 5l0 4l-5 4l2 2l0 1l7 -5l5 11l-1 4l-6 3l-1 3l-2 2l0 1l4 1l3 1l7 0l3 -1l4 -2l8 -2l8 -3l7 -4l1 -2l-1 -4l15 0l5 0l2 0l6 -3l-1 -5l5 -4l5 -4l6 -1l14 0l7 0l11 0l0 -1l1 -2l3 0l3 -1l4 -4l1 -1l1 -4l2 -4l8 -8l3 3l6 -2l5 3l1 0l0 12l3 3l0 4l5 4l-7 3l-7 2l-5 -1l-1 2l-2 2l-7 2l-4 2l-3 4l-2 1l-1 2l1 0l1 2l-2 2l-1 2l2 3l7 -1l1 4l-7 1l-5 1l-7 2l-8 0l-3 0l-7 3l-2 0l-1 0l0 3l3 -2l13 -2l4 0l-9 3l-11 2l-1 1l0 5l-4 6l-5 4l-4 -3l2 5l1 3l-2 3l-1 2l-6 8l-1 -4l1 -6l-1 -1l-1 -2l-2 -1l1 -3l1 -5l-3 2l-1 0l0 7l2 4l-1 0l-1 0l3 2l-1 3l0 6l1 0l2 1l2 3l1 4l2 9l-10 7l-1 0l-4 -1l-9 8l-6 0l-7 7l-1 1l-6 4l-2 2l-3 2l-4 3l-3 5l-3 8l1 6l0 3l4 8l2 3l2 2l2 10l3 7l-1 10l-3 6l-7 1l-6 -8l-1 -5l0 -1l-4 -3l-3 -6l-3 -5l1 -4l1 -1l-2 -6l-6 -7l-3 -3l-6 -1l-7 5l-4 -1l-3 -5l-8 -2l-10 1l-5 0l1 -2l-1 0l-1 1l-3 2l-12 0l-2 1l1 0l3 0l-2 4l2 3l4 2l-4 2l-6 -2l-8 1l-2 -1l-3 -1l-5 -2l-5 -1l-2 0l-7 -2l-6 1l-5 2l-4 1l-4 3l-3 2l-10 5l-3 3l-3 2l-3 6l-1 5l3 8l-4 1l-7 -2l-9 -3l-4 -11l-6 -6l-2 -2l-3 -8l-8 -7l-8 -1l-1 0l-1 1l-3 1l-4 7l-9 -3l-5 -4l-4 -9l-11 -8l-5 -4l-17 0l0 4l0 1l-28 0l-21 -7l-17 -5l1 -2l-24 2l-2 -5l-3 -4l-3 -2l-5 -2l-1 -2l-7 -2l-4 -2l-9 -1l-1 -1l0 -5l-3 -3l-4 -3l-6 -6l0 -3l0 -1l1 -1l-2 -2l-4 -2l-1 -3l0 -3l-5 -2l0 -3l-6 -5l-1 -1l-1 -9l-6 -6l3 -6l-1 -10l-2 -5l-1 -4l3 -6l1 -6l0 -4l2 -10zM492 96l0 1l1 0l0 -1z" fill="#FFAA00"/><path d="M157 159l0 1l0 21l-20 0l-21 -7l9 -22l1 0l6 0l9 9zM64 116l-4 14l0 1l-19 12l0 1l0 -1l-3 -3l-4 -3l-6 -6l0 -3l0 -1l1 -1l-2 -2l-4 -2l-1 -3l0 -3l-5 -2l0 -3l-6 -5l0 -1l16 -10l20 6l1 0l0 1l0 2l3 2zM180 124l-23 0l-1 0l0 -25l0 -15l1 0l0 -1l35 0l0 1l0 8l0 1l-13 13zM174 30l0 1l1 0l-1 13l-1 0l-33 0l-3 0l0 5l-5 0l-8 0l-7 1l-4 -5l-1 0l-3 -6l-6 0l-1 0l0 -1l1 -7l15 -13l1 -14l33 0l0 13zM78 34l-11 0l-10 0l-3 1l-12 2l-5 1l-1 0l-1 -7l-13 -8l0 -2l0 -1l2 0l0 -2l10 -4l1 -10l42 0l0 13l0 13zM232 21l1 -1l7 -4l0 -12l35 0l2 10l1 2l1 3l1 6l2 9l0 1l-18 0l-16 0l-15 0l-1 0l0 -1zM339 196l-2 6l-3 -1l-5 -2l-5 -1l-2 0l-7 -2l-6 1l-1 0l2 -9l1 -3l0 -3l-2 -4l-1 -1l-1 -3l-1 0l0 -10l1 0l0 -1l10 0l11 0l7 0l1 -2l1 -6l4 -7l0 -1l2 -1l3 -3l10 0l9 0l1 0l0 1l1 1l-2 12l-1 12l-1 6l0 6l1 9l0 2l-1 0l-12 0l-3 -5l1 -2l0 -1l-5 0l-8 0l-1 3zM420 210l1 0l11 2l8 -5l2 2l2 10l3 7l-1 10l-3 6l-7 1l-6 -8l-1 -5l0 -1l-4 -3l-3 -6l-3 -5l1 -4zM424 175l-4 -2l-2 -7l7 -8l0 -1l1 0l0 1l7 5l0 1l2 6zM429 152l-5 5l-6 -8l-4 -2l-1 0l3 -3l0 -1l8 -2l4 1l1 0zM462 155l2 -14l-3 -3l-1 0l0 -1l1 -8l-7 -1l0 -3l0 -1l8 -9l-3 -9l0 -1l1 0l4 -2l5 -1l1 -2l3 2l4 3l0 1l-2 4l3 0l1 1l3 2l3 2l-1 3l0 6l1 0l2 1l2 3l1 4l2 9l-10 7l-1 0l-4 -1l-9 8z" fill="#FFD37F"/><path d="M175 161l-18 -2l-1 0l0 -16l0 -19l1 0l0 -1l20 0l19 0l0 1l2 16l-7 9l-9 0zM107 132l-7 1l0 6l1 5l-14 -10l-13 -10l-5 -3l-22 -17l0 -6l0 -24l-5 0l-20 0l-17 0l-2 -5l-1 -4l3 -6l1 -6l0 -4l2 -10l-1 -8l0 -4l-1 -3l-3 -6l-3 -5l0 -3l6 2l9 0l5 0l1 4l1 4l0 1l0 -1l1 0l0 1l0 2l13 7l1 7l5 -1l6 -1l6 -1l3 -1l7 0l14 0l5 4l0 1l-4 7l-3 4l2 2l0 1l0 3l-1 1l0 17l2 0l28 0l0 1l0 30l0 20zM202 124l2 -18l-13 -13l0 -1l0 -8l0 -1l1 0l14 0l0 -19l1 0l0 -1l14 0l0 -13l1 0l3 -3l1 -13l19 0l19 0l0 12l0 1l-8 5l0 11l6 0l3 1l0 1l1 0l-2 11l9 7l0 11l-1 0l1 13l-7 5l1 12l-1 0l-20 0l-19 0zM145 65l1 -1l8 -11l-2 -9l0 -1l23 0l14 0l1 0l0 1l1 20l-1 0l0 1l-7 1l-1 0l-11 -6l-3 2l-4 8l-11 2l-1 0l-6 -7zM181 24l-1 0l0 -1l0 -19l27 0l0 23zM35 14l-11 4l-1 -7l-3 -7l16 0zM336 164l-16 0l-13 0l-1 0l0 -5l-4 -1l-8 -3l-5 1l-1 0l5 -15l-6 -4l1 -13l0 -1l13 0l0 1l1 0l0 4l11 0l12 0l10 0l1 -9l1 0l8 -6l1 0l7 8l3 2l0 1l-2 4l13 -1l0 1l1 0l19 0l18 0l5 -1l1 0l20 1l-3 5l-1 0l-11 4l-8 4l-3 1l0 1l11 0l1 0l0 1l-3 3l4 1l1 0l0 1l7 9l-7 8l2 7l3 1l11 -5l0 1l2 2l2 1l0 1l-3 5l-3 8l1 6l0 3l4 8l2 3l1 0l-8 6l-1 0l-12 -2l1 -1l-2 -6l-6 -7l-3 -3l-6 -1l-7 5l-4 -1l-3 -5l-8 -2l-10 1l-5 0l1 -2l-1 0l-1 1l-3 2l0 -2l-1 -15l0 -1l2 -16l2 -13l-1 -1l-19 0l-1 2l-3 2l-4 7zM366 117l-1 0l-9 -9l1 -4l0 -1l1 0l14 -4l0 1l0 3l7 1l5 -4l0 -1l0 -1l5 -4l10 3l1 0l-1 6l-5 4l-1 1l-3 3l-6 3l-3 1l-3 0l-7 0l-4 1z" fill="#FFEBAF"/><path d="M107 124l-1 0l0 -15l0 -17l0 -18l-3 0l-10 0l-16 0l0 -18l0 -1l1 -3l-3 -2l0 -1l3 -5l4 -6l-4 -4l-1 -4l0 -7l0 -19l43 0l-1 15l-15 12l-1 7l6 0l1 0l0 1l0 1l3 4l4 5l2 0l5 -1l8 0l4 1l0 -5l1 0l0 -1l15 0l1 0l0 1l2 9l0 1l-9 11l7 7l10 -3l4 -8l4 -2l1 0l11 6l7 -1l-1 -20l-16 0l1 -13l-22 -13l0 -14l29 0l0 19l25 3l0 -9l0 -13l35 0l0 13l-1 0l-7 4l0 13l0 1l-6 0l-1 12l-4 3l-1 14l-14 0l0 20l-12 0l-19 0l-5 0l-21 0l-7 0l-8 15l8 7l-4 18l-12 0zM156 181l0 -22l1 0l0 -1l18 2l7 -12l9 0l6 -9l-2 -15l-15 0l-2 -19l13 -13l1 0l13 14l-2 17l14 0l23 0l19 0l7 0l-1 -11l7 -5l0 -13l0 -1l16 0l6 0l4 2l1 0l0 1l3 6l0 10l-1 12l-12 0l-1 13l5 4l-4 15l-2 1l-6 -1l-2 0l-4 0l-7 -2l-7 -1l-6 -2l-6 -2l-11 11l-1 0l-20 -1l0 15l-22 0l-13 0l0 2l-17 0l0 4l0 1zM462 128l-1 9l0 1l-10 3l-2 5l-1 0l-9 0l-2 -2l-2 -1l-11 -1l-1 1l-1 0l0 -1l-2 -7l7 -3l3 -4l1 0l6 0l8 0l16 0zM366 129l0 -2l-13 2l2 -5l1 0l0 -1l6 -1l0 -2l4 -4l0 -1l5 -1l6 0l1 0l6 -1l6 -3l3 -4l6 -4l5 2l5 2l1 1l7 -1l1 0l3 3l4 -2l4 -3l1 0l0 1l-8 7l6 6l0 1l-17 9l-5 0l-8 0l-21 1l-10 0z" fill="#E0FFBD"/><path d="M273 205l7 -23l4 -1l21 -23l2 0l0 16l3 4l2 4l-1 6l-2 9l-5 2l-4 1l-4 3l-3 2l-10 5l-3 3l-7 -7zM181 174l0 -1l34 0l2 0l0 -15l20 2l1 0l7 18l-19 17l-1 0l-1 0l-1 1l-3 1l-4 7l-9 -3l-5 -4l-4 -9l-11 -8l-5 -4z" fill="#A3FF73"/><path d="M247 213l-1 0l-2 -2l-3 -8l-8 -7l-8 -1l19 -17l-7 -18l12 -12l6 2l6 2l7 1l1 1l6 1l6 0l6 1l7 -1l9 2l2 1l1 0l-1 0l-20 24l-4 1l-8 22l0 1l-16 -2z" fill="#55FF00"/><path d="M257 203l16 2l8 7l-1 1l-3 2l-3 6l-1 5l3 8l-4 1l-7 -2l-9 -3l-4 -11l-6 -6z" fill="#38A800"/><use href="#b"/></g></g><g filter="url(#bl)"><g transform="translate(674.40 282.68) scale(0.2875 0.2941)"><path d="M7 31l0 -4l-1 -3l-3 -6l-3 -5l0 -3l6 2l9 0l5 0l1 4l1 4l0 1l0 -1l2 0l0 -2l-1 -7l-3 -7l276 0l0 -4l3 1l2 6l8 1l4 0l4 0l6 3l2 1l8 1l6 -1l13 2l-5 2l-10 5l-8 5l8 -1l3 -1l3 4l11 -3l7 -4l8 -2l-3 3l1 3l4 0l5 4l2 -1l9 -1l10 -1l4 3l5 0l0 5l-6 1l-8 -2l-10 2l-4 2l-1 0l-6 6l-3 4l0 1l2 -1l7 -6l-5 8l0 6l-2 4l-2 4l1 6l3 7l3 1l3 -1l1 0l3 -3l3 -5l0 -1l-3 -9l1 -2l2 -9l6 -3l0 -1l6 -6l3 -1l5 1l3 1l5 4l1 5l0 4l-5 4l2 2l0 1l7 -5l5 11l-1 4l-6 3l-1 3l-2 2l0 1l4 1l3 1l7 0l3 -1l4 -2l8 -2l8 -3l7 -4l1 -2l-1 -4l15 0l5 0l2 0l6 -3l-1 -5l5 -4l5 -4l6 -1l14 0l7 0l11 0l0 -1l1 -2l3 0l3 -1l4 -4l1 -1l1 -4l2 -4l8 -8l3 3l6 -2l5 3l1 0l0 12l3 3l0 4l5 4l-7 3l-7 2l-5 -1l-1 2l-2 2l-7 2l-4 2l-3 4l-2 1l-1 2l1 0l1 2l-2 2l-1 2l2 3l7 -1l1 4l-7 1l-5 1l-7 2l-8 0l-3 0l-7 3l-2 0l-1 0l0 3l3 -2l13 -2l4 0l-9 3l-11 2l-1 1l0 5l-4 6l-5 4l-4 -3l2 5l1 3l-2 3l-1 2l-6 8l-1 -4l1 -6l-1 -1l-1 -2l-2 -1l1 -3l1 -5l-3 2l-1 0l0 7l2 4l-1 0l-1 0l3 2l-1 3l0 6l1 0l2 1l2 3l1 4l2 9l-10 7l-1 0l-4 -1l-9 8l-6 0l-7 7l-1 1l-6 4l-2 2l-3 2l-4 3l-3 5l-3 8l1 6l0 3l4 8l2 3l2 2l2 10l3 7l-1 10l-3 6l-7 1l-6 -8l-1 -5l0 -1l-4 -3l-3 -6l-3 -5l1 -4l1 -1l-2 -6l-6 -7l-3 -3l-6 -1l-7 5l-4 -1l-3 -5l-8 -2l-10 1l-5 0l1 -2l-1 0l-1 1l-3 2l-12 0l-2 1l1 0l3 0l-2 4l2 3l4 2l-4 2l-6 -2l-8 1l-2 -1l-3 -1l-5 -2l-5 -1l-2 0l-7 -2l-6 1l-5 2l-4 1l-4 3l-3 2l-10 5l-3 3l-3 2l-3 6l-1 5l3 8l-4 1l-7 -2l-9 -3l-4 -11l-6 -6l-2 -2l-3 -8l-8 -7l-8 -1l-1 0l-1 1l-3 1l-4 7l-9 -3l-5 -4l-4 -9l-11 -8l-5 -4l-17 0l0 4l0 1l-28 0l-21 -7l-17 -5l1 -2l-24 2l-2 -5l-3 -4l-3 -2l-5 -2l-1 -2l-7 -2l-4 -2l-9 -1l-1 -1l0 -5l-3 -3l-4 -3l-6 -6l0 -3l0 -1l1 -1l-2 -2l-4 -2l-1 -3l0 -3l-5 -2l0 -3l-6 -5l-1 -1l-1 -9l-6 -6l3 -6l-1 -10l-2 -5l-1 -4l3 -6l1 -6l0 -4l2 -10zM492 96l0 1l1 0l0 -1z" fill="#FFAA00"/><path d="M100 166l2 -3l-2 -3l3 -7l0 -1l2 -1l-2 -2l-2 -3l0 -2l-1 -5l-1 -6l1 0l0 -1l6 0l1 -8l0 -1l15 0l12 0l23 0l0 1l0 18l0 18l0 21l-20 0l-21 -7l-17 -5l1 -2zM64 116l-4 14l0 1l-19 12l0 1l0 -1l-3 -3l-4 -3l-6 -6l0 -3l0 -1l1 -1l-2 -2l-4 -2l-1 -3l0 -3l-5 -2l0 -3l-6 -5l-1 -1l-1 -9l-6 -6l3 -6l-1 -10l0 -1l22 0l0 1l0 21l20 6l1 0l0 1l0 2l3 2zM40 58l1 0l10 -5l8 3l6 -4l-1 -18l0 -1l14 0l5 4l0 1l-4 7l-3 4l2 2l0 1l0 3l-1 1l0 18l-17 0l-18 0l-1 0zM164 70l-11 2l-1 0l-6 -7l-9 0l-1 -1l0 -20l1 0l0 -1l3 0l-1 -11l13 -15l0 -13l29 0l0 19l0 1l-6 7l-1 12l1 0l14 0l1 0l0 1l1 20l-1 0l0 1l-7 1l-1 0l-11 -6l-3 2zM119 19l-15 12l0 1l-1 0l0 -1l1 -3l-4 -1l-10 -7l-4 -6l0 -10l34 0zM339 196l-2 6l-3 -1l-5 -2l-5 -1l-2 0l-7 -2l-6 1l-1 0l2 -9l1 -3l0 -3l-2 -4l-1 -1l0 -1l9 -3l6 4l4 -2l7 2l0 1l-2 5l4 0l0 1l1 0l-1 0l-1 3zM404 172l8 6l8 -6l1 0l3 2l10 -5l-2 -5l-7 -6l-1 -1l0 -1l4 -4l0 -1l10 2l1 0l1 3l9 -1l3 -7l-2 -2l-2 0l2 -5l-5 -13l9 0l0 -3l-8 -10l4 -7l1 0l0 -1l7 -1l2 -1l3 10l8 2l8 -6l3 2l3 2l-1 3l0 6l1 0l2 1l2 3l1 4l2 9l-10 7l-1 0l-4 -1l-9 8l-6 0l-7 7l-1 1l-6 4l-2 2l-3 2l-4 3l-3 5l-3 8l-5 0l-1 3l0 1l0 -1l-1 0l-1 -1l-14 -1l-12 -1l-1 0l-1 -3l-1 -5l1 -6zM366 129l0 -2l-13 2l2 -5l-3 -3l-7 -7l0 -1l11 -5l1 -4l0 -1l1 0l14 -4l0 1l0 3l7 1l5 -4l1 0l7 7l1 -1l6 -4l5 2l5 2l0 1l-3 20l4 0l1 0l20 1l-3 5l-1 0l-11 4l-8 4l-1 0l0 -1l-2 -12l-7 0l-21 1l-10 0z" fill="#FFD37F"/><path d="M197 158l-7 -9l0 -1l7 -9l-2 -15l0 -1l1 0l6 0l2 -17l23 -6l0 24l-9 0l0 5l0 13l-1 14l0 1l-19 1zM107 132l-7 1l0 6l1 5l-14 -10l-13 -10l-5 -3l-22 -17l0 -6l0 -24l0 -1l32 0l24 0l4 -13l10 -3l2 -8l5 -1l8 0l5 1l0 12l0 3l9 0l7 8l10 -3l4 -8l4 -2l1 0l11 6l7 -1l-1 -20l-16 0l1 -13l0 -1l6 -7l0 -19l27 0l0 23l0 17l0 19l16 0l21 0l11 0l0 -11l-10 -5l-1 0l0 -1l0 -12l1 0l19 0l0 12l7 5l-1 15l-1 0l-1 0l-3 -1l-1 11l9 7l0 11l-20 0l-12 0l-14 0l-1 0l0 -10l-5 0l-14 0l-12 0l-3 0l0 8l0 1l-13 13l1 18l-23 0l-1 0l0 -25l0 -15l-6 0l-13 0l-1 0l0 -10l-16 0l-13 0l0 30l0 20zM331 184l2 -6l-6 -2l-4 1l-6 -4l-8 4l-1 0l-1 -3l-1 0l0 -10l0 -5l-4 -1l0 -1l0 -3l0 -1l13 -3l5 6l9 -5l-1 -8l-4 -2l1 -12l0 -1l12 0l9 0l0 1l-2 4l6 0l2 -4l0 -1l1 0l14 -1l0 1l1 0l19 0l18 0l1 0l2 12l0 1l-3 1l-1 2l-12 0l2 11l-9 4l1 11l11 0l1 1l-1 8l1 5l1 2l12 1l0 1l-1 6l0 1l0 -1l-6 -1l-7 5l-4 -1l-3 -5l-8 -2l-10 1l-5 0l1 -2l-1 0l-1 1l-3 2l-12 0l-3 -5l1 -2l0 -1l-5 0zM420 210l1 0l11 2l8 -5l2 2l2 10l3 7l-1 10l-3 6l-7 1l-6 -8l-1 -5l0 -1l-4 -3l-3 -6l-3 -5l1 -4zM409 106l1 1l7 -1l1 0l3 3l4 -2l4 -3l1 0l0 1l-8 7l6 6l0 1l-17 9l-5 0l3 -21z" fill="#FFEBAF"/><path d="M156 181l0 -22l0 -16l0 -19l-17 0l-12 0l-20 0l-1 0l0 -15l0 -17l0 -18l1 0l0 -1l19 0l11 0l0 1l0 9l6 0l14 0l0 1l0 21l0 18l20 0l3 0l-2 -18l13 -13l0 -8l0 -1l1 0l35 0l0 1l0 16l-22 7l-2 17l-1 0l-6 0l2 16l-7 8l7 9l19 -1l0 -27l0 -5l0 -1l23 0l6 0l1 -10l10 -5l-1 -14l0 -1l1 0l15 0l16 0l1 0l0 1l-2 14l-3 3l-1 12l5 0l13 0l0 1l1 0l0 5l1 11l0 17l0 1l-1 0l-8 -3l-5 1l-2 1l-6 -1l-2 0l-4 0l-7 -2l-7 -1l-6 -2l-6 -2l-11 11l-1 0l-20 -1l0 15l-2 0l9 21l-1 1l-3 1l-4 7l-9 -3l-5 -4l-4 -9l-11 -8l-5 -4l-17 0l0 4l0 1zM256 51l0 1l0 12l-1 0l-16 0l-18 0l-14 0l-1 0l0 -18l0 -12l0 -17l0 -13l52 0l1 13l6 4l-1 13l0 1l-16 0l-3 0l0 11zM432 213l-12 -2l1 -1l-2 -6l-6 -7l-3 -3l1 -7l14 1l1 0l1 1l0 -3l6 0l0 1l1 6l0 3l4 8l2 3l1 0l-8 6z" fill="#E0FFBD"/><path d="M307 158l0 16l3 4l2 4l-1 6l-2 9l-5 2l-4 1l-4 3l-3 2l-10 5l-3 3l-7 -7l-16 -2l-10 9l-1 0l-2 -2l-3 -8l-8 -7l-8 -1l-1 0l-1 1l-9 -22l1 0l0 -1l2 0l0 -15l20 2l12 -12l6 2l6 2l7 1l1 1l6 1l6 0l6 1l7 -1l9 2l2 1zM247 124l-1 0l-19 0l-1 0l0 -14l0 -16l1 0l0 -1l16 0l14 0l0 1l1 14l-11 6z" fill="#A3FF73"/><path d="M257 203l16 2l8 7l-1 1l-3 2l-3 6l-1 5l3 8l-4 1l-7 -2l-9 -3l-4 -11l-6 -6z" fill="#55FF00"/><use href="#b"/></g></g><g filter="url(#bl)"><g transform="translate(850.20 281.79) scale(0.2868 0.2929)"><path d="M7 31l0 -4l-1 -3l-3 -6l-3 -5l0 -3l6 2l9 0l5 0l1 4l1 4l0 1l0 -1l2 0l0 -2l-1 -7l-3 -7l276 0l0 -4l3 1l2 6l8 1l4 0l4 0l6 3l2 1l8 1l6 -1l13 2l-5 2l-10 5l-8 5l8 -1l3 -1l3 4l11 -3l7 -4l8 -2l-3 3l1 3l4 0l5 4l2 -1l9 -1l10 -1l4 3l5 0l0 5l-6 1l-8 -2l-10 2l-4 2l-1 0l-6 6l-3 4l0 1l2 -1l7 -6l-5 8l0 6l-2 4l-2 4l1 6l3 7l3 1l3 -1l1 0l3 -3l3 -5l0 -1l-3 -9l1 -2l2 -9l6 -3l0 -1l6 -6l3 -1l5 1l3 1l5 4l1 5l0 4l-5 4l2 2l0 1l7 -5l5 11l-1 4l-6 3l-1 3l-2 2l0 1l4 1l3 1l7 0l3 -1l4 -2l8 -2l8 -3l7 -4l1 -2l-1 -4l15 0l5 0l2 0l6 -3l-1 -5l5 -4l5 -4l6 -1l14 0l7 0l11 0l0 -1l1 -2l3 0l3 -1l4 -4l1 -1l1 -4l2 -4l8 -8l3 3l6 -2l5 3l1 0l0 12l3 3l0 4l5 4l-7 3l-7 2l-5 -1l-1 2l-2 2l-7 2l-4 2l-3 4l-2 1l-1 2l1 0l1 2l-2 2l-1 2l2 3l7 -1l1 4l-7 1l-5 1l-7 2l-8 0l-3 0l-7 3l-2 0l-1 0l0 3l3 -2l13 -2l4 0l-9 3l-11 2l-1 1l0 5l-4 6l-5 4l-4 -3l2 5l1 3l-2 3l-1 2l-6 8l-1 -4l1 -6l-1 -1l-1 -2l-2 -1l1 -3l1 -5l-3 2l-1 0l0 7l2 4l-1 0l-1 0l3 2l-1 3l0 6l1 0l2 1l2 3l1 4l2 9l-10 7l-1 0l-4 -1l-9 8l-6 0l-7 7l-1 1l-6 4l-2 2l-3 2l-4 3l-3 5l-3 8l1 6l0 3l4 8l2 3l2 2l2 10l3 7l-1 10l-3 6l-7 1l-6 -8l-1 -5l0 -1l-4 -3l-3 -6l-3 -5l1 -4l1 -1l-2 -6l-6 -7l-3 -3l-6 -1l-7 5l-4 -1l-3 -5l-8 -2l-10 1l-5 0l1 -2l-1 0l-1 1l-3 2l-12 0l-2 1l1 0l3 0l-2 4l2 3l4 2l-4 2l-6 -2l-8 1l-2 -1l-3 -1l-5 -2l-5 -1l-2 0l-7 -2l-6 1l-5 2l-4 1l-4 3l-3 2l-10 5l-3 3l-3 2l-3 6l-1 5l3 8l-4 1l-7 -2l-9 -3l-4 -11l-6 -6l-2 -2l-3 -8l-8 -7l-8 -1l-1 0l-1 1l-3 1l-4 7l-9 -3l-5 -4l-4 -9l-11 -8l-5 -4l-17 0l0 4l0 1l-28 0l-21 -7l-17 -5l1 -2l-24 2l-2 -5l-3 -4l-3 -2l-5 -2l-1 -2l-7 -2l-4 -2l-9 -1l-1 -1l0 -5l-3 -3l-4 -3l-6 -6l0 -3l0 -1l1 -1l-2 -2l-4 -2l-1 -3l0 -3l-5 -2l0 -3l-6 -5l-1 -1l-1 -9l-6 -6l3 -6l-1 -10l-2 -5l-1 -4l3 -6l1 -6l0 -4l2 -10zM492 96l0 1l1 0l0 -1z" fill="#FFAA00"/><path d="M175 160l5 16l-15 0l0 4l0 1l-9 0l0 -22l1 0l0 -1zM301 129l0 -1l12 0l12 0l12 0l9 0l0 1l-2 4l6 0l2 -4l0 -1l1 0l2 -4l1 0l0 -1l6 -1l0 -2l4 -4l0 -1l5 -1l6 0l1 0l6 -1l6 -3l3 -4l6 -4l5 2l5 2l0 1l-3 21l-8 0l-21 1l-8 0l-1 14l10 0l0 1l1 12l6 2l8 -4l1 0l0 1l2 10l1 5l0 1l-11 0l-2 1l-9 -2l-2 -10l-8 -2l-1 11l-1 6l0 6l0 1l-9 -1l-4 4l-1 2l3 5l-1 0l-2 1l1 0l3 0l-2 4l2 3l4 2l-4 2l-6 -2l-8 1l-2 -1l-3 -1l-5 -2l-5 -1l-2 0l-7 -2l-6 1l-1 0l2 -9l1 -3l9 0l3 -8l4 -2l7 2l0 1l-2 5l4 0l8 0l-1 -10l3 -3l-3 -9l1 0l4 -4l-5 -10l-1 1l-4 7l-1 0l0 1l0 -1l-8 -4l-8 6l-1 7l-13 0l-1 0l0 -5l-4 -1l0 -1l0 -3l1 -13l0 -1zM5 73l22 0l20 0l1 0l0 1l0 28l-1 0l-20 -6l-15 10l-1 0l-1 -1l-1 -9l-6 -6l3 -6l-1 -10zM137 84l-1 0l0 -20l0 -20l1 0l0 -1l3 0l-1 -11l13 -15l0 -13l55 0l0 23l0 17l-34 0l-20 0l2 9l12 8l4 -2l1 0l11 6l7 -1l2 0l15 -2l0 1l0 21l-12 0l-19 0l-5 0l-21 0zM317 42l2 -2l1 1l0 3l0 2l7 3l1 0l7 6l0 4l-22 0zM424 175l-4 -2l-2 -7l-8 -3l-1 0l-2 -5l-3 -1l-2 -13l2 0l12 -1l1 0l0 1l-3 3l4 1l1 0l0 1l7 9l7 5l0 1l2 6z" fill="#FFD37F"/><path d="M175 161l-18 -2l-1 0l0 -16l0 -19l1 0l0 -1l20 0l19 0l0 1l2 16l-7 9l-9 0zM107 132l-7 1l0 6l1 5l-14 -10l-13 -10l-5 -3l-22 -17l0 -6l0 -24l0 -1l13 0l-2 -17l7 -4l12 2l1 -2l-3 -2l0 -1l3 -5l4 -6l7 0l9 10l12 -8l3 4l4 5l2 0l5 -1l8 0l5 1l0 12l0 13l-17 0l-13 0l0 30l0 20zM204 107l0 -1l-13 -13l0 -1l0 -8l0 -1l1 0l14 0l0 -19l0 -1l-14 2l-1 0l-1 0l-7 1l-1 0l-11 -6l-4 2l-13 -8l0 -1l-2 -9l0 -1l23 0l14 0l17 0l0 -9l0 -17l0 -13l52 0l1 13l-1 0l-10 5l-8 -5l-7 4l-11 -4l-2 1l-2 16l8 0l1 0l-1 13l-4 3l-1 13l2 0l21 0l1 0l0 1l0 9l11 7l-2 13l3 0l15 0l0 1l1 13l-7 5l1 12l-1 0l-20 0l1 -10l-6 -5l0 -1l2 -14l-2 0l-14 0l0 6zM385 170l1 0l11 0l1 1l-1 8l1 5l-1 0l-13 0l-9 0l-6 -9l-1 0l1 0l6 -6l9 2zM303 157l0 1l-1 0l-8 -3l-5 1l-2 1l-6 -1l-2 0l-2 -15l-4 -3l0 -14l0 -1l1 0l14 0l13 0l0 1l1 0l0 5l1 11zM368 129l0 -1l19 0l18 0l1 0l2 12l0 1l-3 1l-1 2l-13 0l-4 0l-19 0z" fill="#FFEBAF"/><path d="M174 161l0 -1l8 -12l9 0l6 -9l-2 -15l-15 0l-2 -19l13 -13l1 0l12 14l22 -6l0 -6l1 0l0 -1l16 0l0 1l1 0l-2 14l5 5l0 10l12 0l15 0l0 1l0 14l4 2l2 15l1 0l6 1l7 -1l9 2l2 1l1 0l-1 0l-20 24l20 16l0 1l-1 0l-4 1l-4 3l-3 2l-10 5l-3 3l-7 -7l0 -1l7 -23l-11 -7l0 -21l-1 0l-7 -1l-6 -2l-6 -2l-11 11l7 18l-19 17l-1 0l-1 0l-1 1l-3 1l-4 7l-9 -3l-5 -4l-4 -9l-11 -8l-5 -4l-3 0zM64 116l-4 14l0 1l-19 12l0 1l0 -1l-3 -3l-4 -3l-6 -6l0 -3l0 -1l1 -1l-2 -2l-4 -2l-1 -3l0 -3l-5 -2l0 -3l-6 -5l0 -1l16 -10l20 6l1 0l0 1l0 2l3 2zM107 124l-1 0l0 -15l0 -17l0 -18l1 0l0 -1l19 0l11 0l0 1l0 9l6 0l0 1l-8 15l8 7l-4 18l-12 0zM220 18l0 -1l2 -1l1 0l10 4l7 -4l9 5l0 13l0 1l-1 0l-3 0l0 11l11 5l0 1l0 12l-1 0l-16 0l-18 0l-1 0l1 -14l1 0l3 -3l1 -12l-8 0l0 -1l1 -16zM432 213l-12 -2l1 -1l-2 -6l-6 -7l-3 -3l1 -7l14 1l1 0l1 1l0 -3l6 0l0 1l1 6l0 3l4 8l2 3l1 0l-8 6z" fill="#E0FFBD"/><path d="M284 182l21 -24l2 0l0 16l3 4l2 4l-1 6l-2 9l-5 2zM237 160l12 -12l6 2l6 2l7 1l1 1l1 0l-1 21l-14 7l-1 0l-10 -4z" fill="#A3FF73"/><path d="M281 212l-1 1l-3 2l-3 6l-1 5l3 8l-4 1l-7 -2l-9 -3l-4 -11l-6 -6l-2 -2l-3 -8l-8 -7l-8 -1l19 -17l1 0l10 3l14 -7l12 8l-7 23z" fill="#55FF00"/><use href="#b"/></g></g><g filter="url(#bl)"><g transform="translate(156.70 365.88) scale(0.2859 0.2941)"><path d="M7 31l0 -4l-1 -3l-3 -6l-3 -5l0 -3l6 2l9 0l5 0l1 4l1 4l0 1l0 -1l2 0l0 -2l-1 -7l-3 -7l276 0l0 -4l3 1l2 6l8 1l4 0l4 0l6 3l2 1l8 1l6 -1l13 2l-5 2l-10 5l-8 5l8 -1l3 -1l3 4l11 -3l7 -4l8 -2l-3 3l1 3l4 0l5 4l2 -1l9 -1l10 -1l4 3l5 0l0 5l-6 1l-8 -2l-10 2l-4 2l-1 0l-6 6l-3 4l0 1l2 -1l7 -6l-5 8l0 6l-2 4l-2 4l1 6l3 7l3 1l3 -1l1 0l3 -3l3 -5l0 -1l-3 -9l1 -2l2 -9l6 -3l0 -1l6 -6l3 -1l5 1l3 1l5 4l1 5l0 4l-5 4l2 2l0 1l7 -5l5 11l-1 4l-6 3l-1 3l-2 2l0 1l4 1l3 1l7 0l3 -1l4 -2l8 -2l8 -3l7 -4l1 -2l-1 -4l15 0l5 0l2 0l6 -3l-1 -5l5 -4l5 -4l6 -1l14 0l7 0l11 0l0 -1l1 -2l3 0l3 -1l4 -4l1 -1l1 -4l2 -4l8 -8l3 3l6 -2l5 3l1 0l0 12l3 3l0 4l5 4l-7 3l-7 2l-5 -1l-1 2l-2 2l-7 2l-4 2l-3 4l-2 1l-1 2l1 0l1 2l-2 2l-1 2l2 3l7 -1l1 4l-7 1l-5 1l-7 2l-8 0l-3 0l-7 3l-2 0l-1 0l0 3l3 -2l13 -2l4 0l-9 3l-11 2l-1 1l0 5l-4 6l-5 4l-4 -3l2 5l1 3l-2 3l-1 2l-6 8l-1 -4l1 -6l-1 -1l-1 -2l-2 -1l1 -3l1 -5l-3 2l-1 0l0 7l2 4l-1 0l-1 0l3 2l-1 3l0 6l1 0l2 1l2 3l1 4l2 9l-10 7l-1 0l-4 -1l-9 8l-6 0l-7 7l-1 1l-6 4l-2 2l-3 2l-4 3l-3 5l-3 8l1 6l0 3l4 8l2 3l2 2l2 10l3 7l-1 10l-3 6l-7 1l-6 -8l-1 -5l0 -1l-4 -3l-3 -6l-3 -5l1 -4l1 -1l-2 -6l-6 -7l-3 -3l-6 -1l-7 5l-4 -1l-3 -5l-8 -2l-10 1l-5 0l1 -2l-1 0l-1 1l-3 2l-12 0l-2 1l1 0l3 0l-2 4l2 3l4 2l-4 2l-6 -2l-8 1l-2 -1l-3 -1l-5 -2l-5 -1l-2 0l-7 -2l-6 1l-5 2l-4 1l-4 3l-3 2l-10 5l-3 3l-3 2l-3 6l-1 5l3 8l-4 1l-7 -2l-9 -3l-4 -11l-6 -6l-2 -2l-3 -8l-8 -7l-8 -1l-1 0l-1 1l-3 1l-4 7l-9 -3l-5 -4l-4 -9l-11 -8l-5 -4l-17 0l0 4l0 1l-28 0l-21 -7l-17 -5l1 -2l-24 2l-2 -5l-3 -4l-3 -2l-5 -2l-1 -2l-7 -2l-4 -2l-9 -1l-1 -1l0 -5l-3 -3l-4 -3l-6 -6l0 -3l0 -1l1 -1l-2 -2l-4 -2l-1 -3l0 -3l-5 -2l0 -3l-6 -5l-1 -1l-1 -9l-6 -6l3 -6l-1 -10l-2 -5l-1 -4l3 -6l1 -6l0 -4l2 -10zM492 96l0 1l1 0l0 -1z" fill="#FFAA00"/><path d="M273 205l7 -23l-11 -7l0 -21l6 1l6 0l6 1l7 -1l9 2l2 1l2 0l0 16l3 4l2 4l-1 6l-2 9l-5 2l-4 1l-4 3l-3 2l-10 5l-3 3l-7 -7zM335 139l1 -10l-1 0l1 -10l1 0l8 -6l1 0l7 8l3 2l6 -1l0 -2l4 -4l1 -1l5 -6l-1 -5l0 -1l0 -1l1 0l7 2l3 10l0 1l-1 0l-3 0l-1 0l1 14l-1 0l-10 0l-1 0l0 -2l-13 2l-2 5l-4 10l-2 2l-1 0zM390 86l-1 0l0 -9l-10 0l0 -1l3 -3l3 -5l0 -1l-1 0l1 0l12 -1l0 1l1 9l1 0l1 0l0 10l-1 0zM259 17l-1 0l-10 5l-8 -5l-7 4l-11 -4l-2 1l-13 -1l-1 0l0 -13l52 0zM429 230l0 -1l-4 -3l-3 -6l-3 -5l1 -4l1 -1l-2 -6l15 -11l0 3l4 8l2 3l2 2l2 10l3 7l-12 0zM439 153l-1 0l-10 -1l0 -9l-4 -1l-1 1l-1 0l0 -1l-2 -7l7 -3l3 -4l1 0l6 0l8 0l9 0l0 -3l0 -1l8 -9l1 -1l8 3l8 -6l3 2l3 2l-1 3l0 6l1 0l2 1l2 3l0 1l-12 0l-2 11l-10 1l-2 14l-1 0l0 1l-12 -10l-2 0l-7 0z" fill="#FFD37F"/><path d="M434 225l13 0l0 1l-1 10l-3 6l-7 1l-6 -8l-1 -5zM254 182l0 -1l15 -7l12 8l-8 23l0 1l-16 -2zM471 118l-8 -3l-1 0l-3 -9l0 -1l1 0l4 -2l5 -1l1 -2l3 2l4 3l0 1l-2 4l3 0l1 1l0 1zM258 16l7 5l-1 13l0 1l-16 0l-15 0l-1 0l0 -1l0 -13l1 -1l7 -4l8 5z" fill="#FFEBAF"/><path d="M257 203l16 2l8 7l-1 1l-3 2l-3 6l-1 5l3 8l-4 1l-7 -2l-9 -3l-4 -11l-6 -6z" fill="#E0FFBD"/><use href="#b"/></g></g><g filter="url(#bl)"><g transform="translate(328.70 365.28) scale(0.2871 0.2941)"><path d="M7 31l0 -4l-1 -3l-3 -6l-3 -5l0 -3l6 2l9 0l5 0l1 4l1 4l0 1l0 -1l2 0l0 -2l-1 -7l-3 -7l276 0l0 -4l3 1l2 6l8 1l4 0l4 0l6 3l2 1l8 1l6 -1l13 2l-5 2l-10 5l-8 5l8 -1l3 -1l3 4l11 -3l7 -4l8 -2l-3 3l1 3l4 0l5 4l2 -1l9 -1l10 -1l4 3l5 0l0 5l-6 1l-8 -2l-10 2l-4 2l-1 0l-6 6l-3 4l0 1l2 -1l7 -6l-5 8l0 6l-2 4l-2 4l1 6l3 7l3 1l3 -1l1 0l3 -3l3 -5l0 -1l-3 -9l1 -2l2 -9l6 -3l0 -1l6 -6l3 -1l5 1l3 1l5 4l1 5l0 4l-5 4l2 2l0 1l7 -5l5 11l-1 4l-6 3l-1 3l-2 2l0 1l4 1l3 1l7 0l3 -1l4 -2l8 -2l8 -3l7 -4l1 -2l-1 -4l15 0l5 0l2 0l6 -3l-1 -5l5 -4l5 -4l6 -1l14 0l7 0l11 0l0 -1l1 -2l3 0l3 -1l4 -4l1 -1l1 -4l2 -4l8 -8l3 3l6 -2l5 3l1 0l0 12l3 3l0 4l5 4l-7 3l-7 2l-5 -1l-1 2l-2 2l-7 2l-4 2l-3 4l-2 1l-1 2l1 0l1 2l-2 2l-1 2l2 3l7 -1l1 4l-7 1l-5 1l-7 2l-8 0l-3 0l-7 3l-2 0l-1 0l0 3l3 -2l13 -2l4 0l-9 3l-11 2l-1 1l0 5l-4 6l-5 4l-4 -3l2 5l1 3l-2 3l-1 2l-6 8l-1 -4l1 -6l-1 -1l-1 -2l-2 -1l1 -3l1 -5l-3 2l-1 0l0 7l2 4l-1 0l-1 0l3 2l-1 3l0 6l1 0l2 1l2 3l1 4l2 9l-10 7l-1 0l-4 -1l-9 8l-6 0l-7 7l-1 1l-6 4l-2 2l-3 2l-4 3l-3 5l-3 8l1 6l0 3l4 8l2 3l2 2l2 10l3 7l-1 10l-3 6l-7 1l-6 -8l-1 -5l0 -1l-4 -3l-3 -6l-3 -5l1 -4l1 -1l-2 -6l-6 -7l-3 -3l-6 -1l-7 5l-4 -1l-3 -5l-8 -2l-10 1l-5 0l1 -2l-1 0l-1 1l-3 2l-12 0l-2 1l1 0l3 0l-2 4l2 3l4 2l-4 2l-6 -2l-8 1l-2 -1l-3 -1l-5 -2l-5 -1l-2 0l-7 -2l-6 1l-5 2l-4 1l-4 3l-3 2l-10 5l-3 3l-3 2l-3 6l-1 5l3 8l-4 1l-7 -2l-9 -3l-4 -11l-6 -6l-2 -2l-3 -8l-8 -7l-8 -1l-1 0l-1 1l-3 1l-4 7l-9 -3l-5 -4l-4 -9l-11 -8l-5 -4l-17 0l0 4l0 1l-28 0l-21 -7l-17 -5l1 -2l-24 2l-2 -5l-3 -4l-3 -2l-5 -2l-1 -2l-7 -2l-4 -2l-9 -1l-1 -1l0 -5l-3 -3l-4 -3l-6 -6l0 -3l0 -1l1 -1l-2 -2l-4 -2l-1 -3l0 -3l-5 -2l0 -3l-6 -5l-1 -1l-1 -9l-6 -6l3 -6l-1 -10l-2 -5l-1 -4l3 -6l1 -6l0 -4l2 -10zM492 96l0 1l1 0l0 -1z" fill="#FFAA00"/><path d="M223 196l-8 -22l-20 0l2 -16l-7 -9l0 -1l7 -9l-2 -15l0 -1l1 0l21 0l1 0l0 1l0 4l29 0l1 0l0 1l0 19l1 0l6 2l6 2l7 1l1 1l1 0l-1 21l-14 7l3 22l-1 0l-10 9l-1 0l-2 -2l-3 -8l-8 -7l-8 -1l-1 0zM76 93l8 12l0 1l-10 18l-5 -3l-22 -17l0 -6zM284 182l21 -24l2 0l0 16l3 4l2 4l-1 6l-2 9l-5 2zM247 113l11 -5l7 3l8 -4l0 -1l10 4l1 0l0 1l-1 13l-17 0l-20 0z" fill="#FFD37F"/><path d="M285 181l20 17l0 1l-1 0l-4 1l-4 3l-3 2l-10 5l-3 3l-7 -7l-16 -2l-3 -22l0 -1l15 -7l12 8zM84 105l23 -1l0 20l0 8l-7 1l0 6l1 5l-14 -10l-13 -10l9 -19z" fill="#FFEBAF"/><path d="M257 203l16 2l8 7l-1 1l-3 2l-3 6l-1 5l3 8l-4 1l-7 -2l-9 -3l-4 -11l-6 -6z" fill="#E0FFBD"/><use href="#b"/></g></g><g filter="url(#bl)"><g transform="translate(497.90 363.58) scale(0.2868 0.2941)"><path d="M7 31l0 -4l-1 -3l-3 -6l-3 -5l0 -3l6 2l9 0l5 0l1 4l1 4l0 1l0 -1l2 0l0 -2l-1 -7l-3 -7l276 0l0 -4l3 1l2 6l8 1l4 0l4 0l6 3l2 1l8 1l6 -1l13 2l-5 2l-10 5l-8 5l8 -1l3 -1l3 4l11 -3l7 -4l8 -2l-3 3l1 3l4 0l5 4l2 -1l9 -1l10 -1l4 3l5 0l0 5l-6 1l-8 -2l-10 2l-4 2l-1 0l-6 6l-3 4l0 1l2 -1l7 -6l-5 8l0 6l-2 4l-2 4l1 6l3 7l3 1l3 -1l1 0l3 -3l3 -5l0 -1l-3 -9l1 -2l2 -9l6 -3l0 -1l6 -6l3 -1l5 1l3 1l5 4l1 5l0 4l-5 4l2 2l0 1l7 -5l5 11l-1 4l-6 3l-1 3l-2 2l0 1l4 1l3 1l7 0l3 -1l4 -2l8 -2l8 -3l7 -4l1 -2l-1 -4l15 0l5 0l2 0l6 -3l-1 -5l5 -4l5 -4l6 -1l14 0l7 0l11 0l0 -1l1 -2l3 0l3 -1l4 -4l1 -1l1 -4l2 -4l8 -8l3 3l6 -2l5 3l1 0l0 12l3 3l0 4l5 4l-7 3l-7 2l-5 -1l-1 2l-2 2l-7 2l-4 2l-3 4l-2 1l-1 2l1 0l1 2l-2 2l-1 2l2 3l7 -1l1 4l-7 1l-5 1l-7 2l-8 0l-3 0l-7 3l-2 0l-1 0l0 3l3 -2l13 -2l4 0l-9 3l-11 2l-1 1l0 5l-4 6l-5 4l-4 -3l2 5l1 3l-2 3l-1 2l-6 8l-1 -4l1 -6l-1 -1l-1 -2l-2 -1l1 -3l1 -5l-3 2l-1 0l0 7l2 4l-1 0l-1 0l3 2l-1 3l0 6l1 0l2 1l2 3l1 4l2 9l-10 7l-1 0l-4 -1l-9 8l-6 0l-7 7l-1 1l-6 4l-2 2l-3 2l-4 3l-3 5l-3 8l1 6l0 3l4 8l2 3l2 2l2 10l3 7l-1 10l-3 6l-7 1l-6 -8l-1 -5l0 -1l-4 -3l-3 -6l-3 -5l1 -4l1 -1l-2 -6l-6 -7l-3 -3l-6 -1l-7 5l-4 -1l-3 -5l-8 -2l-10 1l-5 0l1 -2l-1 0l-1 1l-3 2l-12 0l-2 1l1 0l3 0l-2 4l2 3l4 2l-4 2l-6 -2l-8 1l-2 -1l-3 -1l-5 -2l-5 -1l-2 0l-7 -2l-6 1l-5 2l-4 1l-4 3l-3 2l-10 5l-3 3l-3 2l-3 6l-1 5l3 8l-4 1l-7 -2l-9 -3l-4 -11l-6 -6l-2 -2l-3 -8l-8 -7l-8 -1l-1 0l-1 1l-3 1l-4 7l-9 -3l-5 -4l-4 -9l-11 -8l-5 -4l-17 0l0 4l0 1l-28 0l-21 -7l-17 -5l1 -2l-24 2l-2 -5l-3 -4l-3 -2l-5 -2l-1 -2l-7 -2l-4 -2l-9 -1l-1 -1l0 -5l-3 -3l-4 -3l-6 -6l0 -3l0 -1l1 -1l-2 -2l-4 -2l-1 -3l0 -3l-5 -2l0 -3l-6 -5l-1 -1l-1 -9l-6 -6l3 -6l-1 -10l-2 -5l-1 -4l3 -6l1 -6l0 -4l2 -10zM492 96l0 1l1 0l0 -1z" fill="#FFAA00"/><path d="M434 225l-2 -12l0 -1l8 -5l2 2l2 10l3 7l-1 10l-3 6l-7 1l-6 -8l-1 -5zM214 174l1 0l0 -1l2 0l0 -15l20 2l12 -12l6 2l6 2l7 1l1 1l6 1l6 0l6 1l7 -1l9 2l2 1l1 0l-1 0l-20 24l-4 1l-1 0l0 -1l-11 -7l-14 7l-1 0l-9 -4l-19 17l-1 0l-1 0l-1 1zM76 93l8 12l0 1l-10 18l-5 -3l-22 -17l0 -6z" fill="#FFD37F"/><path d="M273 205l7 -23l5 -1l20 17l0 1l-1 0l-4 1l-4 3l-3 2l-10 5l-3 3l-7 -7zM84 105l23 -1l0 20l0 8l-7 1l0 6l1 5l-14 -10l-13 -10l9 -19zM247 113l11 -5l7 3l8 -4l0 -1l10 4l1 0l0 1l-1 13l-17 0l-20 0z" fill="#FFEBAF"/><path d="M281 212l-1 1l-3 2l-3 6l-1 5l3 8l-4 1l-7 -2l-9 -3l-4 -11l-6 -6l-2 -2l-3 -8l-8 -7l-8 -1l19 -17l1 0l10 3l14 -7l12 8l-7 23z" fill="#E0FFBD"/><use href="#b"/></g></g><g filter="url(#bl)"><g transform="translate(675.30 365.88) scale(0.2875 0.2941)"><path d="M7 31l0 -4l-1 -3l-3 -6l-3 -5l0 -3l6 2l9 0l5 0l1 4l1 4l0 1l0 -1l2 0l0 -2l-1 -7l-3 -7l276 0l0 -4l3 1l2 6l8 1l4 0l4 0l6 3l2 1l8 1l6 -1l13 2l-5 2l-10 5l-8 5l8 -1l3 -1l3 4l11 -3l7 -4l8 -2l-3 3l1 3l4 0l5 4l2 -1l9 -1l10 -1l4 3l5 0l0 5l-6 1l-8 -2l-10 2l-4 2l-1 0l-6 6l-3 4l0 1l2 -1l7 -6l-5 8l0 6l-2 4l-2 4l1 6l3 7l3 1l3 -1l1 0l3 -3l3 -5l0 -1l-3 -9l1 -2l2 -9l6 -3l0 -1l6 -6l3 -1l5 1l3 1l5 4l1 5l0 4l-5 4l2 2l0 1l7 -5l5 11l-1 4l-6 3l-1 3l-2 2l0 1l4 1l3 1l7 0l3 -1l4 -2l8 -2l8 -3l7 -4l1 -2l-1 -4l15 0l5 0l2 0l6 -3l-1 -5l5 -4l5 -4l6 -1l14 0l7 0l11 0l0 -1l1 -2l3 0l3 -1l4 -4l1 -1l1 -4l2 -4l8 -8l3 3l6 -2l5 3l1 0l0 12l3 3l0 4l5 4l-7 3l-7 2l-5 -1l-1 2l-2 2l-7 2l-4 2l-3 4l-2 1l-1 2l1 0l1 2l-2 2l-1 2l2 3l7 -1l1 4l-7 1l-5 1l-7 2l-8 0l-3 0l-7 3l-2 0l-1 0l0 3l3 -2l13 -2l4 0l-9 3l-11 2l-1 1l0 5l-4 6l-5 4l-4 -3l2 5l1 3l-2 3l-1 2l-6 8l-1 -4l1 -6l-1 -1l-1 -2l-2 -1l1 -3l1 -5l-3 2l-1 0l0 7l2 4l-1 0l-1 0l3 2l-1 3l0 6l1 0l2 1l2 3l1 4l2 9l-10 7l-1 0l-4 -1l-9 8l-6 0l-7 7l-1 1l-6 4l-2 2l-3 2l-4 3l-3 5l-3 8l1 6l0 3l4 8l2 3l2 2l2 10l3 7l-1 10l-3 6l-7 1l-6 -8l-1 -5l0 -1l-4 -3l-3 -6l-3 -5l1 -4l1 -1l-2 -6l-6 -7l-3 -3l-6 -1l-7 5l-4 -1l-3 -5l-8 -2l-10 1l-5 0l1 -2l-1 0l-1 1l-3 2l-12 0l-2 1l1 0l3 0l-2 4l2 3l4 2l-4 2l-6 -2l-8 1l-2 -1l-3 -1l-5 -2l-5 -1l-2 0l-7 -2l-6 1l-5 2l-4 1l-4 3l-3 2l-10 5l-3 3l-3 2l-3 6l-1 5l3 8l-4 1l-7 -2l-9 -3l-4 -11l-6 -6l-2 -2l-3 -8l-8 -7l-8 -1l-1 0l-1 1l-3 1l-4 7l-9 -3l-5 -4l-4 -9l-11 -8l-5 -4l-17 0l0 4l0 1l-28 0l-21 -7l-17 -5l1 -2l-24 2l-2 -5l-3 -4l-3 -2l-5 -2l-1 -2l-7 -2l-4 -2l-9 -1l-1 -1l0 -5l-3 -3l-4 -3l-6 -6l0 -3l0 -1l1 -1l-2 -2l-4 -2l-1 -3l0 -3l-5 -2l0 -3l-6 -5l-1 -1l-1 -9l-6 -6l3 -6l-1 -10l-2 -5l-1 -4l3 -6l1 -6l0 -4l2 -10zM492 96l0 1l1 0l0 -1z" fill="#FFAA00"/><path d="M434 225l-2 -12l0 -1l8 -5l2 2l2 10l3 7l-1 10l-3 6l-7 1l-6 -8l-1 -5z" fill="#FFD37F"/><path d="M285 181l20 17l0 1l-1 0l-4 1l-4 3l-3 2l-10 5l-3 3l-3 2l-3 6l-1 5l3 8l-4 1l-7 -2l-9 -3l-4 -11l-6 -6l-2 -2l-3 -8l-8 -7l-8 -1l19 -17l1 0l10 3l14 -7l12 8z" fill="#FFEBAF"/><use href="#b"/></g></g><g filter="url(#bl)"><g transform="translate(851.90 365.88) scale(0.2870 0.2941)"><path d="M7 31l0 -4l-1 -3l-3 -6l-3 -5l0 -3l6 2l9 0l5 0l1 4l1 4l0 1l0 -1l2 0l0 -2l-1 -7l-3 -7l276 0l0 -4l3 1l2 6l8 1l4 0l4 0l6 3l2 1l8 1l6 -1l13 2l-5 2l-10 5l-8 5l8 -1l3 -1l3 4l11 -3l7 -4l8 -2l-3 3l1 3l4 0l5 4l2 -1l9 -1l10 -1l4 3l5 0l0 5l-6 1l-8 -2l-10 2l-4 2l-1 0l-6 6l-3 4l0 1l2 -1l7 -6l-5 8l0 6l-2 4l-2 4l1 6l3 7l3 1l3 -1l1 0l3 -3l3 -5l0 -1l-3 -9l1 -2l2 -9l6 -3l0 -1l6 -6l3 -1l5 1l3 1l5 4l1 5l0 4l-5 4l2 2l0 1l7 -5l5 11l-1 4l-6 3l-1 3l-2 2l0 1l4 1l3 1l7 0l3 -1l4 -2l8 -2l8 -3l7 -4l1 -2l-1 -4l15 0l5 0l2 0l6 -3l-1 -5l5 -4l5 -4l6 -1l14 0l7 0l11 0l0 -1l1 -2l3 0l3 -1l4 -4l1 -1l1 -4l2 -4l8 -8l3 3l6 -2l5 3l1 0l0 12l3 3l0 4l5 4l-7 3l-7 2l-5 -1l-1 2l-2 2l-7 2l-4 2l-3 4l-2 1l-1 2l1 0l1 2l-2 2l-1 2l2 3l7 -1l1 4l-7 1l-5 1l-7 2l-8 0l-3 0l-7 3l-2 0l-1 0l0 3l3 -2l13 -2l4 0l-9 3l-11 2l-1 1l0 5l-4 6l-5 4l-4 -3l2 5l1 3l-2 3l-1 2l-6 8l-1 -4l1 -6l-1 -1l-1 -2l-2 -1l1 -3l1 -5l-3 2l-1 0l0 7l2 4l-1 0l-1 0l3 2l-1 3l0 6l1 0l2 1l2 3l1 4l2 9l-10 7l-1 0l-4 -1l-9 8l-6 0l-7 7l-1 1l-6 4l-2 2l-3 2l-4 3l-3 5l-3 8l1 6l0 3l4 8l2 3l2 2l2 10l3 7l-1 10l-3 6l-7 1l-6 -8l-1 -5l0 -1l-4 -3l-3 -6l-3 -5l1 -4l1 -1l-2 -6l-6 -7l-3 -3l-6 -1l-7 5l-4 -1l-3 -5l-8 -2l-10 1l-5 0l1 -2l-1 0l-1 1l-3 2l-12 0l-2 1l1 0l3 0l-2 4l2 3l4 2l-4 2l-6 -2l-8 1l-2 -1l-3 -1l-5 -2l-5 -1l-2 0l-7 -2l-6 1l-5 2l-4 1l-4 3l-3 2l-10 5l-3 3l-3 2l-3 6l-1 5l3 8l-4 1l-7 -2l-9 -3l-4 -11l-6 -6l-2 -2l-3 -8l-8 -7l-8 -1l-1 0l-1 1l-3 1l-4 7l-9 -3l-5 -4l-4 -9l-11 -8l-5 -4l-17 0l0 4l0 1l-28 0l-21 -7l-17 -5l1 -2l-24 2l-2 -5l-3 -4l-3 -2l-5 -2l-1 -2l-7 -2l-4 -2l-9 -1l-1 -1l0 -5l-3 -3l-4 -3l-6 -6l0 -3l0 -1l1 -1l-2 -2l-4 -2l-1 -3l0 -3l-5 -2l0 -3l-6 -5l-1 -1l-1 -9l-6 -6l3 -6l-1 -10l-2 -5l-1 -4l3 -6l1 -6l0 -4l2 -10zM492 96l0 1l1 0l0 -1z" fill="#FFAA00"/><path d="M420 210l1 0l11 2l8 -5l2 2l2 10l3 7l-1 10l-3 6l-7 1l-6 -8l-1 -5l0 -1l-4 -3l-3 -6l-3 -5l1 -4zM285 181l20 17l0 1l-1 0l-4 1l-4 3l-3 2l-10 5l-3 3l-7 -7l-16 -2l-3 -22l0 -1l15 -7l12 8zM356 155l0 1l-2 2l-1 0l-5 -1l-5 -10l-1 0l0 -1l1 0l3 -2l4 -10l2 -5l0 -1l1 0l14 -1l0 1l1 0l0 1l1 0l-1 15l-3 0l-9 0zM259 17l-1 0l-10 5l-8 -5l0 -1l0 -12l18 0z" fill="#FFD37F"/><path d="M257 203l16 2l8 7l-1 1l-3 2l-3 6l-1 5l3 8l-4 1l-7 -2l-9 -3l-4 -11l-6 -6z" fill="#FFEBAF"/><use href="#b"/></g></g><g filter="url(#bl)"><g transform="translate(157.40 447.58) scale(0.2878 0.2941)"><path d="M7 31l0 -4l-1 -3l-3 -6l-3 -5l0 -3l6 2l9 0l5 0l1 4l1 4l0 1l0 -1l2 0l0 -2l-1 -7l-3 -7l276 0l0 -4l3 1l2 6l8 1l4 0l4 0l6 3l2 1l8 1l6 -1l13 2l-5 2l-10 5l-8 5l8 -1l3 -1l3 4l11 -3l7 -4l8 -2l-3 3l1 3l4 0l5 4l2 -1l9 -1l10 -1l4 3l5 0l0 5l-6 1l-8 -2l-10 2l-4 2l-1 0l-6 6l-3 4l0 1l2 -1l7 -6l-5 8l0 6l-2 4l-2 4l1 6l3 7l3 1l3 -1l1 0l3 -3l3 -5l0 -1l-3 -9l1 -2l2 -9l6 -3l0 -1l6 -6l3 -1l5 1l3 1l5 4l1 5l0 4l-5 4l2 2l0 1l7 -5l5 11l-1 4l-6 3l-1 3l-2 2l0 1l4 1l3 1l7 0l3 -1l4 -2l8 -2l8 -3l7 -4l1 -2l-1 -4l15 0l5 0l2 0l6 -3l-1 -5l5 -4l5 -4l6 -1l14 0l7 0l11 0l0 -1l1 -2l3 0l3 -1l4 -4l1 -1l1 -4l2 -4l8 -8l3 3l6 -2l5 3l1 0l0 12l3 3l0 4l5 4l-7 3l-7 2l-5 -1l-1 2l-2 2l-7 2l-4 2l-3 4l-2 1l-1 2l1 0l1 2l-2 2l-1 2l2 3l7 -1l1 4l-7 1l-5 1l-7 2l-8 0l-3 0l-7 3l-2 0l-1 0l0 3l3 -2l13 -2l4 0l-9 3l-11 2l-1 1l0 5l-4 6l-5 4l-4 -3l2 5l1 3l-2 3l-1 2l-6 8l-1 -4l1 -6l-1 -1l-1 -2l-2 -1l1 -3l1 -5l-3 2l-1 0l0 7l2 4l-1 0l-1 0l3 2l-1 3l0 6l1 0l2 1l2 3l1 4l2 9l-10 7l-1 0l-4 -1l-9 8l-6 0l-7 7l-1 1l-6 4l-2 2l-3 2l-4 3l-3 5l-3 8l1 6l0 3l4 8l2 3l2 2l2 10l3 7l-1 10l-3 6l-7 1l-6 -8l-1 -5l0 -1l-4 -3l-3 -6l-3 -5l1 -4l1 -1l-2 -6l-6 -7l-3 -3l-6 -1l-7 5l-4 -1l-3 -5l-8 -2l-10 1l-5 0l1 -2l-1 0l-1 1l-3 2l-12 0l-2 1l1 0l3 0l-2 4l2 3l4 2l-4 2l-6 -2l-8 1l-2 -1l-3 -1l-5 -2l-5 -1l-2 0l-7 -2l-6 1l-5 2l-4 1l-4 3l-3 2l-10 5l-3 3l-3 2l-3 6l-1 5l3 8l-4 1l-7 -2l-9 -3l-4 -11l-6 -6l-2 -2l-3 -8l-8 -7l-8 -1l-1 0l-1 1l-3 1l-4 7l-9 -3l-5 -4l-4 -9l-11 -8l-5 -4l-17 0l0 4l0 1l-28 0l-21 -7l-17 -5l1 -2l-24 2l-2 -5l-3 -4l-3 -2l-5 -2l-1 -2l-7 -2l-4 -2l-9 -1l-1 -1l0 -5l-3 -3l-4 -3l-6 -6l0 -3l0 -1l1 -1l-2 -2l-4 -2l-1 -3l0 -3l-5 -2l0 -3l-6 -5l-1 -1l-1 -9l-6 -6l3 -6l-1 -10l-2 -5l-1 -4l3 -6l1 -6l0 -4l2 -10zM492 96l0 1l1 0l0 -1z" fill="#FFAA00"/><path d="M107 104l0 20l0 8l-7 1l0 6l1 5l-14 -10l-13 -10l-5 -3l-22 -17l0 -2l-20 -6l-15 10l-1 0l-1 -1l-1 -9l-6 -6l3 -6l-1 -10l0 -1l22 0l14 0l-1 -14l-6 -3l-11 3l-6 -5l-11 0l0 -1l0 -4l2 -10l-1 -8l6 0l5 1l1 0l0 1l1 3l3 1l1 1l4 -1l6 0l1 0l7 -1l6 -1l5 -1l-2 -12l-4 -2l-5 1l-8 -7l1 -10l42 0l0 13l0 13l1 4l5 3l0 1l6 0l8 -13l-7 -5l-4 -6l0 -10l34 0l-1 15l-15 12l-1 7l6 0l1 0l0 1l0 1l3 4l4 5l2 0l5 -1l8 0l4 1l0 -5l1 0l0 -1l15 0l1 0l0 1l2 9l0 1l-9 11l-9 0l0 9l-17 0l-17 0l-10 0l-16 0l-17 0l-12 0l0 24l28 -5l8 12zM156 181l0 -22l0 -16l0 -1l1 0l18 -1l1 0l6 7l9 0l7 9l0 1l-2 16l-1 0l-13 0l0 2l-17 0l0 4l0 1zM369 175l-6 0l-1 0l0 -1l2 -16l2 -13l-1 -1l-19 0l4 -10l2 -5l0 -1l1 0l14 -1l0 1l1 0l0 1l1 0l-1 14l10 0l9 1l-1 -16l1 0l18 0l5 -1l1 0l20 1l6 0l1 0l-2 15l1 0l3 2l11 0l2 2l0 1l-4 8l-9 1l-2 -4l-10 -1l0 -9l-4 -1l-1 1l-1 0l0 -1l-2 -6l-4 1l-8 4l-3 1l-1 2l-12 0l2 11l2 10l1 5l0 1l-11 0l-2 1l-9 -2zM357 108l9 9l-3 3l0 3l-1 0l-6 1l-4 -3l-7 -7l0 -1l11 -5zM289 88l-1 -1l0 -5l-2 -5l-1 -2l10 -3l1 -1l0 -1l1 0l11 0l2 -11l-12 0l-15 0l-1 0l0 -18l0 -1l-1 0l1 0l17 -1l0 1l18 1l2 -1l1 1l0 3l0 2l7 3l1 0l7 6l0 4l1 0l9 -5l0 -7l-8 -6l6 -13l1 0l10 3l2 1l10 2l1 0l0 1l2 4l1 1l2 3l-1 0l-3 4l0 1l2 -1l7 -6l-5 8l0 6l-2 4l-2 4l1 6l1 0l-1 0l-16 0l-12 0l-4 -2l-6 6l0 1l-1 0l-7 -1l-2 1l-10 -1l-5 15l-4 0l-12 0zM221 84l-14 0l-1 0l0 -20l1 0l0 -1l16 0l21 0l1 0l0 1l0 9l-6 6l-1 0l-12 -1l-4 6zM454 128l0 -3l-8 -10l4 -7l1 0l0 -1l7 -1l2 -1l4 -2l5 -1l1 -2l3 2l4 3l0 1l-2 4l3 0l1 1l3 2l3 2l-1 3l0 6l1 0l2 1l2 3l0 1l-17 0zM442 74l1 0l0 12l-1 0l-9 0l-3 4l0 1l-7 0l-3 -5l-10 2l-2 2l-9 -1l0 -12l-1 0l-19 0l0 -1l3 -3l3 -5l0 -1l-1 0l1 0l12 -1l0 -1l1 0l10 -1l7 9l0 1l-2 2l0 1l4 1l3 1l7 0l3 -1l4 -2zM515 66l-1 3l0 1l-8 -2l-2 1l-1 0l-10 -6l-2 0l-6 -4l-1 0l1 -1l-1 -5l5 -4l5 -4l6 -1l14 0l0 5l0 3l1 6zM402 51l-3 0l0 1l0 -1l-8 -7l0 -1l6 -6l3 -1l5 1l3 1l0 1z" fill="#FFD37F"/><path d="M64 116l-4 14l0 1l-19 12l0 1l0 -1l-3 -3l-4 -3l-6 -6l0 -3l0 -1l1 -1l-2 -2l-4 -2l-1 -3l0 -3l-5 -2l0 -3l-6 -5l0 -1l16 -10l20 6l1 0l0 1l0 2l3 2zM107 124l-1 0l0 -15l0 -4l-22 1l-1 0l-7 -13l3 -19l0 -1l28 0l19 0l11 0l0 1l0 9l6 0l0 1l-8 15l8 7l-4 18l-12 0zM218 129l0 13l-1 14l0 18l-22 0l2 -16l-6 -9l-9 0l-7 -8l2 -17l-20 0l-1 0l0 -25l0 -15l1 0l0 -1l35 0l35 0l0 1l0 16l0 24l-9 0zM140 44l-3 0l0 5l-5 0l-8 0l-7 1l-4 -5l-1 0l-3 -6l-6 0l-1 0l0 -1l1 -7l15 -13l1 -14l62 0l0 19l0 1l-7 7l-22 -13l-12 15zM37 38l-2 0l-7 -1l-4 2l-5 -2l-1 -4l-2 0l-1 0l0 -1l7 -9l0 -2l0 -1l2 0l0 -2l-1 -7l-3 -7l16 0l-1 10l7 6l0 1l-6 9zM17 12l3 0l1 4l0 1l-1 0l-3 -4zM285 182l-4 1l-1 0l0 -1l-11 -7l-14 7l-1 0l-10 -4l-7 -18l12 -12l6 2l6 2l7 1l1 1l6 1l4 0l-2 -14l-4 -3l0 -14l0 -1l1 0l14 0l13 0l0 1l1 0l0 5l1 11l0 17l2 1l1 0l-1 0zM247 114l-6 -5l0 -1l2 -14l0 -1l14 0l15 0l0 1l1 13l-8 5l-7 -4zM223 16l0 1l-3 1l-13 -1l-1 0l0 -13l18 0zM356 124l-2 5l-1 0l-2 5l-1 0l-6 0l-1 0l2 -5l-10 0l1 -10l-13 -9l0 -1l12 -13l6 6l9 -8l-14 -9l0 -1l0 -4l1 0l0 -1l7 -1l1 -2l0 -3l-4 -4l-1 0l1 0l0 -1l17 0l11 0l0 1l3 7l0 3l0 14l0 7l0 3l7 1l5 -4l1 0l7 7l1 0l0 1l-3 3l-6 3l-3 1l-3 0l-7 0l-4 1l-1 1l-1 0l-9 -9l-10 6l7 7l3 2zM397 67l-12 0l-3 -9l1 -2l2 -9l6 -3l0 -1l1 0l7 8l2 -1l6 -12l1 0l5 4l1 5l0 4l-5 4l2 2l-3 7l-10 2z" fill="#FFEBAF"/><path d="M181 174l0 -1l34 0l2 0l0 -15l0 -29l0 -5l0 -1l9 0l0 -13l0 -16l0 -10l-5 0l5 -7l12 1l1 0l2 15l2 0l0 1l1 0l-2 14l5 5l11 -5l7 3l7 -4l0 -13l0 -1l16 0l5 0l-4 -5l1 0l15 0l6 -15l10 1l2 -2l7 1l6 -7l1 0l4 2l5 4l0 1l0 3l-1 2l0 1l-1 0l-7 1l0 2l0 4l-4 4l0 4l1 1l1 1l1 0l0 1l-1 0l-11 12l13 10l-2 10l-19 0l-15 0l0 -5l-18 0l-9 0l0 14l4 2l2 15l0 1l-1 0l-4 0l-7 -2l-7 -1l-6 -2l-6 -2l-11 11l7 18l10 3l14 -7l12 8l-8 23l0 1l-16 -2l-10 9l-1 0l-2 -2l-3 -8l-8 -7l-8 -1l-1 0l-1 1l-3 1l-4 7l-9 -3l-5 -4l-4 -9l-11 -8l-5 -4zM60 130l15 18l-4 12l0 1l0 -1l-3 -2l-5 -2l-1 -2l-7 -2l-4 -2l-9 -1l-1 -1l0 -5zM221 64l-14 0l-1 0l0 -18l0 -2l-33 0l1 -13l0 -1l6 -7l0 -19l27 0l0 12l13 1l2 -1l1 -12l52 0l2 10l1 2l0 1l-13 5l-1 0l-6 -5l-10 5l-8 -5l-7 4l0 13l0 1l-6 0l-1 12l-4 3zM23 20l0 1l0 2l-7 10l-3 -1l-6 0l0 -1l0 -4l-1 -3l-3 -6l-3 -5l0 -3l6 2l9 0l3 0l3 4l1 4l0 1l0 -1zM264 77l-1 0l-7 4l0 -1l-12 -7l0 -9l0 -1l11 0l0 -11l0 -1l8 -5l1 -12l18 0l0 1l-3 3l4 2l0 1l0 8l0 10l-1 0l1 10l-3 -1l-5 -2l-6 0l-1 0l-3 -1l-1 11zM385 100l-6 4l-8 -1l1 -3l0 -9l0 -15l3 1l3 -1l1 0l1 0l9 0l1 0l0 9l0 1l-1 0l1 9l-5 4z" fill="#E0FFBD"/><path d="M257 203l16 2l8 7l-1 1l-3 2l-3 6l-1 5l3 8l-4 1l-7 -2l-9 -3l-4 -11l-6 -6zM248 21l10 -5l7 5l13 -5l1 3l1 6l2 9l0 1l-18 0l-16 0l0 -1z" fill="#A3FF73"/><path d="M221 50l1 0l3 -3l1 -13l6 0l0 -13l1 -1l7 -4l9 5l0 13l15 0l0 12l0 1l-8 5l0 12l-1 0l-16 0l-18 0l-1 0z" fill="#55FF00"/><use href="#b"/></g></g><g filter="url(#bl)"><g transform="translate(328.20 447.98) scale(0.2875 0.2941)"><path d="M7 31l0 -4l-1 -3l-3 -6l-3 -5l0 -3l6 2l9 0l5 0l1 4l1 4l0 1l0 -1l2 0l0 -2l-1 -7l-3 -7l276 0l0 -4l3 1l2 6l8 1l4 0l4 0l6 3l2 1l8 1l6 -1l13 2l-5 2l-10 5l-8 5l8 -1l3 -1l3 4l11 -3l7 -4l8 -2l-3 3l1 3l4 0l5 4l2 -1l9 -1l10 -1l4 3l5 0l0 5l-6 1l-8 -2l-10 2l-4 2l-1 0l-6 6l-3 4l0 1l2 -1l7 -6l-5 8l0 6l-2 4l-2 4l1 6l3 7l3 1l3 -1l1 0l3 -3l3 -5l0 -1l-3 -9l1 -2l2 -9l6 -3l0 -1l6 -6l3 -1l5 1l3 1l5 4l1 5l0 4l-5 4l2 2l0 1l7 -5l5 11l-1 4l-6 3l-1 3l-2 2l0 1l4 1l3 1l7 0l3 -1l4 -2l8 -2l8 -3l7 -4l1 -2l-1 -4l15 0l5 0l2 0l6 -3l-1 -5l5 -4l5 -4l6 -1l14 0l7 0l11 0l0 -1l1 -2l3 0l3 -1l4 -4l1 -1l1 -4l2 -4l8 -8l3 3l6 -2l5 3l1 0l0 12l3 3l0 4l5 4l-7 3l-7 2l-5 -1l-1 2l-2 2l-7 2l-4 2l-3 4l-2 1l-1 2l1 0l1 2l-2 2l-1 2l2 3l7 -1l1 4l-7 1l-5 1l-7 2l-8 0l-3 0l-7 3l-2 0l-1 0l0 3l3 -2l13 -2l4 0l-9 3l-11 2l-1 1l0 5l-4 6l-5 4l-4 -3l2 5l1 3l-2 3l-1 2l-6 8l-1 -4l1 -6l-1 -1l-1 -2l-2 -1l1 -3l1 -5l-3 2l-1 0l0 7l2 4l-1 0l-1 0l3 2l-1 3l0 6l1 0l2 1l2 3l1 4l2 9l-10 7l-1 0l-4 -1l-9 8l-6 0l-7 7l-1 1l-6 4l-2 2l-3 2l-4 3l-3 5l-3 8l1 6l0 3l4 8l2 3l2 2l2 10l3 7l-1 10l-3 6l-7 1l-6 -8l-1 -5l0 -1l-4 -3l-3 -6l-3 -5l1 -4l1 -1l-2 -6l-6 -7l-3 -3l-6 -1l-7 5l-4 -1l-3 -5l-8 -2l-10 1l-5 0l1 -2l-1 0l-1 1l-3 2l-12 0l-2 1l1 0l3 0l-2 4l2 3l4 2l-4 2l-6 -2l-8 1l-2 -1l-3 -1l-5 -2l-5 -1l-2 0l-7 -2l-6 1l-5 2l-4 1l-4 3l-3 2l-10 5l-3 3l-3 2l-3 6l-1 5l3 8l-4 1l-7 -2l-9 -3l-4 -11l-6 -6l-2 -2l-3 -8l-8 -7l-8 -1l-1 0l-1 1l-3 1l-4 7l-9 -3l-5 -4l-4 -9l-11 -8l-5 -4l-17 0l0 4l0 1l-28 0l-21 -7l-17 -5l1 -2l-24 2l-2 -5l-3 -4l-3 -2l-5 -2l-1 -2l-7 -2l-4 -2l-9 -1l-1 -1l0 -5l-3 -3l-4 -3l-6 -6l0 -3l0 -1l1 -1l-2 -2l-4 -2l-1 -3l0 -3l-5 -2l0 -3l-6 -5l-1 -1l-1 -9l-6 -6l3 -6l-1 -10l-2 -5l-1 -4l3 -6l1 -6l0 -4l2 -10zM492 96l0 1l1 0l0 -1z" fill="#FFAA00"/><path d="M120 147l6 5l-10 22l-17 -5l1 -2l0 -1l2 -3l-2 -3l3 -7l0 -1l2 -1l-2 -2l0 -1l1 0zM247 114l-6 -5l0 -1l2 -14l0 -1l14 0l15 0l0 -10l-9 -6l0 -1l2 -11l0 -1l3 1l7 0l5 2l3 1l0 1l3 6l1 2l2 5l0 5l1 1l15 0l6 -15l-2 -2l-1 0l2 -12l0 -1l12 0l13 0l0 1l2 7l4 2l17 0l11 0l0 1l3 7l0 3l0 1l-14 0l-2 2l0 7l-4 4l6 10l14 -4l0 1l0 4l1 5l-5 6l-1 1l-1 1l-3 3l0 3l-1 0l-6 1l-2 5l-1 0l-2 5l-1 0l-6 0l-1 0l2 -5l-10 0l1 -10l-13 -9l0 -1l12 -12l-2 -2l-1 -1l1 -4l-3 -2l-9 0l-6 0l0 18l5 4l-4 19l-14 0l1 11l0 17l0 1l-1 0l-8 -3l-5 1l-1 0l5 -15l-6 -4l1 -13l0 -1l13 0l0 -11l-14 -3l-4 2l-10 -4l-8 5l-7 -4zM117 58l-10 3l0 -1l-9 -8l-8 6l-13 -1l0 -1l0 -1l1 -3l-3 -2l0 -1l3 -5l4 -6l-4 -4l-1 -4l0 -7l0 -19l10 0l0 10l3 5l8 6l2 1l4 1l0 3l14 -12l1 -14l33 0l0 14l-12 15l0 11l-3 0l0 5l-5 0l-8 0l-5 0zM255 52l-10 -5l-1 0l0 -1l0 -11l-11 0l-1 0l0 -1l0 -13l1 -1l7 -4l9 5l0 13l15 0l18 0l0 1l-3 3l4 2l0 1l0 8l-12 3l-7 -5l-8 5zM353 60l-1 0l-7 -5l0 -1l0 -7l-8 -6l6 -13l1 0l10 3l2 1l10 2l1 0l0 1l2 4l1 1l2 3l-1 0l-3 4l0 1l2 -1l7 -6l-5 8l0 6l-2 4l-9 -4zM374 187l-1 4l-1 0l-5 0l1 -2l-1 0l-1 1l-3 2l0 -2l-1 -15l0 -1l2 -16l0 -1l1 0l8 2l5 -3l7 2l1 12l11 0l1 1l-1 8l1 5l-1 0l-13 0l-9 0l-3 0l0 1zM481 148l-4 -1l-9 8l-6 0l0 1l-12 -10l-2 0l2 -5l0 -1l10 -3l1 -9l16 0l-2 12l6 7zM397 67l-12 0l-3 -9l1 -2l2 -9l6 -3l0 -1l1 0l7 8l3 -1l7 4l0 1l2 2l-3 7l-10 2z" fill="#FFD37F"/><path d="M239 129l-22 0l0 -5l0 -1l9 0l0 -13l0 -16l0 -10l-5 0l-14 0l-1 0l0 -20l0 -18l0 -12l0 -17l0 -13l35 0l0 13l-1 0l-7 4l0 13l12 0l0 12l10 5l9 -5l7 5l12 -3l0 1l0 9l12 0l3 0l1 -18l1 -15l9 -4l14 12l0 1l-4 3l1 4l0 3l0 2l7 3l1 0l7 6l0 4l-22 0l-3 0l-1 11l2 3l-5 15l-4 0l-12 0l-1 0l-1 -1l0 -5l-2 -5l-1 -2l-3 -6l-2 -1l-5 -2l-6 0l-1 0l-3 -1l-1 11l9 7l0 11l-20 0l-9 0l-2 14l5 5l11 -5l7 3l8 -4l0 -1l10 4l3 -2l1 0l14 3l1 0l0 1l-1 12l-18 0l-17 0l-20 0l-6 0zM180 124l-23 0l-1 0l0 -25l0 -15l1 0l0 -1l35 0l0 1l0 8l0 1l-13 13zM293 141l-4 15l-2 1l-6 -1l-2 0l-2 -16l11 -3zM337 119l-2 10l-19 0l-1 0l4 -19l-5 -4l1 -18l0 -1l15 0l3 3l0 4l1 1l1 1l1 0l0 1l-1 0l-11 12zM385 100l-6 4l-8 -1l1 -3l-14 4l-1 0l-5 -11l3 -4l0 -7l3 -3l14 0l0 -3l3 1l3 -1l1 0l3 -3l3 -5l0 -1l-1 0l1 0l12 -1l0 -1l1 0l10 -1l2 -7l1 0l0 1l7 -5l5 11l-1 4l-6 3l-1 3l-2 2l0 1l-13 0l0 9l0 11l-1 0l-10 -2l-4 4zM401 51l0 -1l6 -12l1 0l5 4l1 5l0 4l-5 4l-1 0z" fill="#FFEBAF"/><path d="M51 106l0 1l-22 20l-1 0l1 -1l-2 -2l-4 -2l-1 -3l0 -3l-5 -2l0 -3l-6 -5l-1 -1l-1 -9l-6 -6l3 -6l-1 -10l0 -1l16 0l2 -14l-6 -5l0 -1l6 -15l0 -1l1 1l4 -1l6 0l1 0l7 -1l6 -1l6 -1l3 -1l7 0l2 0l-1 -13l-3 -2l-1 -14l16 0l0 13l0 13l1 4l5 3l0 1l-4 7l-3 4l2 2l0 1l0 3l-1 1l13 2l7 -7l1 0l9 9l10 -3l2 -8l5 -1l8 0l5 1l0 12l0 13l-17 0l-17 0l-10 0l-14 0l-3 19l-28 5l0 4l0 2zM74 148l17 -11l1 0l9 6l0 1l1 2l4 5l-3 2l-2 7l1 3l0 1l-2 3l-24 2l-2 -5l-3 -4l-1 0zM107 124l-1 0l0 -15l0 -17l1 0l14 -1l1 0l8 8l4 0l8 -15l0 -1l1 0l14 0l0 1l0 21l0 19l-18 0l-12 0zM145 65l1 -1l8 -11l-2 -9l-12 0l-1 -12l13 -15l0 -13l55 0l0 23l0 17l-31 0l-4 15l11 6l0 1l-7 18l-5 0l-8 -14l-10 2l-1 0l-6 -7zM119 19l-15 12l0 1l-1 0l0 -1l1 -3l-4 -1l-10 -7l-4 -6l0 -10l34 0zM223 196l-9 -22l1 0l0 -1l2 0l0 -15l20 2l11 -11l-1 0l0 -1l0 -10l0 -9l-8 0l0 -5l0 -1l1 0l19 0l15 0l14 0l1 0l0 1l-1 13l-10 4l2 14l0 1l-1 0l-4 0l-5 -1l-1 19l12 8l-7 23l7 7l-1 1l-3 2l-3 6l-1 5l3 8l-4 1l-7 -2l-9 -3l-4 -11l-6 -6l-2 -2l-3 -8l-8 -7l-8 -1l-1 0z" fill="#E0FFBD"/><path d="M157 181l-20 0l-21 -7l9 -22l-5 -4l-16 1l-1 0l-2 -3l0 -2l-1 -5l-1 -6l1 0l0 -1l6 0l1 -8l0 -1l15 0l12 0l23 0l20 0l19 0l21 0l1 0l0 1l0 5l0 13l-1 0l-20 -2l-6 9l-9 0l-7 -8l-18 2l0 17zM71 161l0 -1l-3 -2l-5 -2l-1 -2l-7 -2l-4 -2l-9 -1l-1 -1l0 -5l-3 -3l-4 -3l-6 -6l0 -3l0 -1l1 -1l21 -20l1 0l13 10l6 4l18 13l4 4l-17 12l-4 11zM134 100l-4 0l-9 -8l-14 1l0 -1l-1 0l0 -18l1 0l0 -1l19 0l10 0l0 -9l0 -20l1 0l0 -1l15 0l1 0l0 1l2 9l0 1l-9 11l7 7l10 -3l1 0l7 15l-21 0l-7 0l-8 16zM35 30l6 -10l-7 -6l1 -10l26 0l1 13l4 2l0 1l1 14l-10 0l-3 1l-12 2l-5 1l-1 0zM181 174l0 -1l34 0l0 1l9 21l-1 1l-3 1l-4 7l-9 -3l-5 -4l-4 -9l-11 -8l-5 -4zM204 107l0 -1l-13 -13l0 -1l0 -8l-15 0l6 -18l-11 -6l0 -1l4 -15l0 -1l14 0l18 0l0 1l0 19l0 20l20 0l0 1l0 16z" fill="#A3FF73"/><path d="M217 174l-22 0l-13 0l0 2l-3 0l-4 -15l-18 -2l-1 0l0 -16l0 -1l1 0l18 -1l1 0l6 7l9 0l6 -9l20 2l0 -12l0 -1l30 0l1 0l0 1l0 19l1 0l0 1l-11 11l-1 0l-20 -1zM107 132l-7 1l0 6l1 5l-14 -10l-13 -10l-5 -3l-22 -17l0 -6l29 -5l3 -19l0 -1l28 0l0 1l0 30l0 20zM227 100l0 24l-25 0l-22 0l-2 -19l13 -13l1 0l12 14z" fill="#55FF00"/><path d="M175 160l5 16l-15 0l0 4l0 1l-9 0l0 -22l1 0l0 -1z" fill="#38A800"/><use href="#b"/></g></g><g filter="url(#bl)"><g transform="translate(500.20 445.88) scale(0.2868 0.2941)"><path d="M7 31l0 -4l-1 -3l-3 -6l-3 -5l0 -3l6 2l9 0l5 0l1 4l1 4l0 1l0 -1l2 0l0 -2l-1 -7l-3 -7l276 0l0 -4l3 1l2 6l8 1l4 0l4 0l6 3l2 1l8 1l6 -1l13 2l-5 2l-10 5l-8 5l8 -1l3 -1l3 4l11 -3l7 -4l8 -2l-3 3l1 3l4 0l5 4l2 -1l9 -1l10 -1l4 3l5 0l0 5l-6 1l-8 -2l-10 2l-4 2l-1 0l-6 6l-3 4l0 1l2 -1l7 -6l-5 8l0 6l-2 4l-2 4l1 6l3 7l3 1l3 -1l1 0l3 -3l3 -5l0 -1l-3 -9l1 -2l2 -9l6 -3l0 -1l6 -6l3 -1l5 1l3 1l5 4l1 5l0 4l-5 4l2 2l0 1l7 -5l5 11l-1 4l-6 3l-1 3l-2 2l0 1l4 1l3 1l7 0l3 -1l4 -2l8 -2l8 -3l7 -4l1 -2l-1 -4l15 0l5 0l2 0l6 -3l-1 -5l5 -4l5 -4l6 -1l14 0l7 0l11 0l0 -1l1 -2l3 0l3 -1l4 -4l1 -1l1 -4l2 -4l8 -8l3 3l6 -2l5 3l1 0l0 12l3 3l0 4l5 4l-7 3l-7 2l-5 -1l-1 2l-2 2l-7 2l-4 2l-3 4l-2 1l-1 2l1 0l1 2l-2 2l-1 2l2 3l7 -1l1 4l-7 1l-5 1l-7 2l-8 0l-3 0l-7 3l-2 0l-1 0l0 3l3 -2l13 -2l4 0l-9 3l-11 2l-1 1l0 5l-4 6l-5 4l-4 -3l2 5l1 3l-2 3l-1 2l-6 8l-1 -4l1 -6l-1 -1l-1 -2l-2 -1l1 -3l1 -5l-3 2l-1 0l0 7l2 4l-1 0l-1 0l3 2l-1 3l0 6l1 0l2 1l2 3l1 4l2 9l-10 7l-1 0l-4 -1l-9 8l-6 0l-7 7l-1 1l-6 4l-2 2l-3 2l-4 3l-3 5l-3 8l1 6l0 3l4 8l2 3l2 2l2 10l3 7l-1 10l-3 6l-7 1l-6 -8l-1 -5l0 -1l-4 -3l-3 -6l-3 -5l1 -4l1 -1l-2 -6l-6 -7l-3 -3l-6 -1l-7 5l-4 -1l-3 -5l-8 -2l-10 1l-5 0l1 -2l-1 0l-1 1l-3 2l-12 0l-2 1l1 0l3 0l-2 4l2 3l4 2l-4 2l-6 -2l-8 1l-2 -1l-3 -1l-5 -2l-5 -1l-2 0l-7 -2l-6 1l-5 2l-4 1l-4 3l-3 2l-10 5l-3 3l-3 2l-3 6l-1 5l3 8l-4 1l-7 -2l-9 -3l-4 -11l-6 -6l-2 -2l-3 -8l-8 -7l-8 -1l-1 0l-1 1l-3 1l-4 7l-9 -3l-5 -4l-4 -9l-11 -8l-5 -4l-17 0l0 4l0 1l-28 0l-21 -7l-17 -5l1 -2l-24 2l-2 -5l-3 -4l-3 -2l-5 -2l-1 -2l-7 -2l-4 -2l-9 -1l-1 -1l0 -5l-3 -3l-4 -3l-6 -6l0 -3l0 -1l1 -1l-2 -2l-4 -2l-1 -3l0 -3l-5 -2l0 -3l-6 -5l-1 -1l-1 -9l-6 -6l3 -6l-1 -10l-2 -5l-1 -4l3 -6l1 -6l0 -4l2 -10zM492 96l0 1l1 0l0 -1z" fill="#FFAA00"/><path d="M180 124l-23 0l-1 0l0 -25l0 -15l1 0l0 -1l35 0l0 1l0 8l0 1l-13 13zM74 124l-5 -3l-22 -17l0 -2l-20 -6l-15 10l-1 0l-1 -1l-1 -9l-6 -6l3 -6l-1 -10l0 -1l22 0l20 0l32 0l28 0l0 1l0 30l0 1l-23 1zM164 70l-11 2l-1 0l-6 -7l-9 0l-1 -1l0 -20l1 0l0 -1l15 0l23 0l14 0l18 0l0 1l0 19l-15 2l-1 0l-1 0l-7 1l-1 0l-11 -6l-3 2zM271 51l-1 14l5 0l5 2l3 1l0 1l3 6l1 2l2 5l0 5l1 1l4 5l4 2l1 0l0 1l3 6l0 10l-1 12l-18 0l-17 0l-1 -12l8 -5l0 -1l10 4l3 -2l2 -14l-15 0l-1 0l0 -11l-9 -6l0 -1l2 -11l-3 -1l-7 0l-16 0l-1 0l0 -13l6 -5l0 -12l1 0l19 0l0 12zM35 30l7 -10l5 -1l4 3l1 0l2 13l-12 2l-5 1l-1 0zM439 173l0 1l-3 5l-3 8l-5 0l0 1l-1 0l0 -1l-4 -12l-3 -2l-2 -7l7 -8l0 -1l1 0l0 1l7 5l0 1l2 6l2 2zM398 171l-1 8l1 5l-1 0l-13 0l-9 0l-6 -9l-1 0l1 0l6 -5l-2 -11l5 -3l7 2l8 -4l1 0l0 1l2 10l1 5zM409 107l0 -1l1 1l7 -1l1 0l3 3l4 -2l4 -3l1 0l0 1l-8 7l6 6l0 1l-17 9l-5 0zM346 46l5 -3l2 -11l0 -1l1 0l2 1l10 2l1 0l0 1l2 4l1 1l2 3l-1 0l-3 4l0 1l2 -1l7 -6l-5 8l0 6l-2 4l-9 -4l-8 5l-1 0l-7 -5l0 -1l0 -8z" fill="#FFD37F"/><path d="M119 148l2 -24l0 -1l1 0l4 0l-3 -14l0 -1l7 -8l0 -1l4 0l1 0l8 7l14 -1l0 19l0 18l-17 0l-8 11l-6 0l-1 0zM64 116l-4 14l0 1l-19 12l0 1l0 -1l-3 -3l-4 -3l-6 -6l0 -3l0 -1l1 -1l-2 -2l-4 -2l-1 -3l0 -3l-5 -2l0 -3l-6 -5l0 -1l16 -10l20 6l1 0l0 1l0 2l3 2zM84 105l23 -1l0 20l0 8l-7 1l0 6l1 5l-14 -10l-13 -10l9 -19zM206 34l0 -17l0 -13l35 0l0 13l-1 0l-7 4l0 13l12 0l0 12l0 1l-6 5l0 12l-15 0l2 13l0 1l-4 6l-1 0l-14 0l-1 0l0 -20l0 -18zM17 54l0 -1l6 -15l0 -1l1 1l4 -1l6 0l1 0l7 -1l6 -1l0 1l4 17l0 1l-1 0l-10 5l-7 -3l-11 3zM140 44l-3 0l0 5l-5 0l-8 0l-7 1l-4 -5l-1 0l-3 -6l-6 0l-1 0l0 -1l1 -7l15 -13l1 -14l33 0l0 14l-12 15zM78 34l-11 0l-10 0l-3 1l-1 0l-2 -13l-4 -2l-5 1l-6 9l0 1l-14 -8l0 -2l0 -1l2 0l0 -2l10 -4l1 -10l42 0l0 13l0 13zM303 157l0 1l-1 0l-8 -3l-5 1l-2 1l-6 -1l-2 0l-2 -16l10 -3l1 -13l0 -1l13 0l0 1l1 0l0 5l1 11zM267 124l-1 0l-20 0l1 -10l-6 -5l0 -1l2 -14l0 -1l10 0l2 -13l1 0l7 -4l1 0l9 7l0 10l15 0l1 0l0 1l-2 14l-4 3l-10 -4l-7 5zM302 88l-12 0l-1 0l-1 -1l0 -5l-2 -5l-1 -2l-3 -6l-1 -10l0 -1l14 0l3 0l1 -18l18 1l2 -1l1 1l0 3l0 2l7 3l1 0l7 6l0 4l2 7l4 2l5 4l0 1l0 3l-1 2l0 1l-1 0l-7 1l0 2l0 1l-1 0l0 -1l-6 -8l-7 -1l-2 1l-10 -1l-2 -2l-12 0l-1 1zM474 140l-9 1l-1 0l-3 -3l-1 0l0 -1l1 -9l10 0l0 -10l8 -7l3 2l3 2l-1 3l0 6l1 0l2 1l2 3l1 4l2 9l-10 7l-1 0l-1 0zM382 114l0 1l-1 0l-3 0l-7 0l-5 1l1 -1l5 -6l-1 -5l0 -1l1 -3l0 -7l-17 -3l0 -1l0 -7l3 -3l0 -10l0 -1l11 0l0 1l3 7l3 1l3 -1l1 0l3 -3l3 -5l0 -1l-3 -9l1 -2l12 1l1 0l2 9l-1 1l1 9l1 0l1 0l0 10l0 11l-1 0l-10 -2l-4 4l0 1l-6 4zM324 110l-4 0l-1 0l-5 -4l1 -18l0 -1l15 0l3 3l0 4l1 1l1 1l1 0l0 1l-1 0z" fill="#FFEBAF"/><path d="M101 144l1 2l4 5l-3 2l-2 7l1 3l0 1l-2 3l-24 2l-2 -5l-3 -4l-3 -2l-5 -2l-1 -2l-7 -2l-4 -2l-9 -1l-1 -1l0 -5l19 -13l3 -14l1 0l6 4l18 13l4 4l9 6zM156 124l1 0l0 -1l20 0l3 0l-2 -18l13 -13l0 -8l-15 0l-5 0l-14 0l0 21l-14 1l-1 0l-8 -6l-4 0l-6 9l3 15l-20 0l-1 0l0 -15l0 -17l0 -18l-3 0l-10 0l-16 0l-17 0l-18 0l-20 0l-1 0l2 -16l11 -3l1 0l6 3l10 -5l-4 -17l0 -1l1 0l6 -1l3 -1l7 0l14 0l5 4l0 1l-4 7l-3 4l2 2l0 1l0 3l-1 1l13 2l7 -7l1 0l9 9l10 -3l2 -8l5 -1l8 0l5 1l0 12l0 3l9 0l7 8l10 -3l4 -8l4 -2l1 0l11 6l7 -1l2 0l15 -2l0 1l0 20l14 0l5 -6l-3 -13l0 -1l21 0l18 0l3 1l0 1l1 0l-2 11l0 1l-1 0l-7 3l-2 14l-1 0l-9 0l-2 14l5 5l0 10l12 0l15 0l14 0l1 0l0 1l-1 13l-10 4l2 14l1 0l6 1l7 -1l9 2l2 1l1 0l-1 0l-20 24l-4 1l-8 22l0 1l-16 -2l-10 9l-1 0l-2 -2l-3 -8l-8 -7l-8 -1l-1 0l-1 1l-3 1l-4 7l-9 -3l-5 -4l-4 -9l-11 -8l-5 -4l-3 0l-4 -15l-18 -2l-1 0l0 -16zM139 32l13 -15l0 -13l55 0l0 23l0 17l-34 0l-33 0zM119 19l-15 12l0 1l-1 0l0 -1l1 -3l-4 -1l-10 -7l-4 -6l0 -10l34 0zM366 117l-3 3l0 3l-1 0l-6 1l-4 -3l-7 -7l-1 -2l-1 0l2 -4l0 -2l-4 -1l-1 0l0 -2l0 -1l-7 -7l-1 -1l1 -4l-3 -2l-9 0l-6 0l0 18l-1 0l0 1l-13 1l0 -6l-3 -6l-4 -2l-5 -6l1 0l11 0l-6 -16l1 -1l0 -1l1 0l12 0l2 3l10 1l2 -2l8 1l5 8l0 -1l1 0l0 -1l7 -1l1 -2l0 -3l-4 -4l-1 0l1 0l0 -1l17 0l1 0l0 1l0 10l0 1l-3 2l0 7l16 3l0 1l0 7l-14 4l-1 4zM397 66l-2 -9l3 -6l1 0l3 -1l7 4l0 1l2 2l0 1l7 -5l5 11l-1 4l-6 3l-1 3l-2 2l0 1l-14 0l-1 0l-1 0l0 -1l0 -9z" fill="#E0FFBD"/><path d="M257 203l16 2l8 7l-1 1l-3 2l-3 6l-1 5l3 8l-4 1l-7 -2l-9 -3l-4 -11l-6 -6zM175 160l5 16l-15 0l0 4l0 1l-9 0l0 -22l1 0l0 -1zM337 120l-1 0l-13 -10l0 -1l12 -13l6 6l0 2l4 1l1 0l0 1l0 2l-2 4l2 1l0 1z" fill="#A3FF73"/><use href="#b"/></g></g><g filter="url(#bl)"><g transform="translate(677.40 447.07) scale(0.2878 0.2962)"><path d="M7 31l0 -4l-1 -3l-3 -6l-3 -5l0 -3l6 2l9 0l5 0l1 4l1 4l0 1l0 -1l2 0l0 -2l-1 -7l-3 -7l276 0l0 -4l3 1l2 6l8 1l4 0l4 0l6 3l2 1l8 1l6 -1l13 2l-5 2l-10 5l-8 5l8 -1l3 -1l3 4l11 -3l7 -4l8 -2l-3 3l1 3l4 0l5 4l2 -1l9 -1l10 -1l4 3l5 0l0 5l-6 1l-8 -2l-10 2l-4 2l-1 0l-6 6l-3 4l0 1l2 -1l7 -6l-5 8l0 6l-2 4l-2 4l1 6l3 7l3 1l3 -1l1 0l3 -3l3 -5l0 -1l-3 -9l1 -2l2 -9l6 -3l0 -1l6 -6l3 -1l5 1l3 1l5 4l1 5l0 4l-5 4l2 2l0 1l7 -5l5 11l-1 4l-6 3l-1 3l-2 2l0 1l4 1l3 1l7 0l3 -1l4 -2l8 -2l8 -3l7 -4l1 -2l-1 -4l15 0l5 0l2 0l6 -3l-1 -5l5 -4l5 -4l6 -1l14 0l7 0l11 0l0 -1l1 -2l3 0l3 -1l4 -4l1 -1l1 -4l2 -4l8 -8l3 3l6 -2l5 3l1 0l0 12l3 3l0 4l5 4l-7 3l-7 2l-5 -1l-1 2l-2 2l-7 2l-4 2l-3 4l-2 1l-1 2l1 0l1 2l-2 2l-1 2l2 3l7 -1l1 4l-7 1l-5 1l-7 2l-8 0l-3 0l-7 3l-2 0l-1 0l0 3l3 -2l13 -2l4 0l-9 3l-11 2l-1 1l0 5l-4 6l-5 4l-4 -3l2 5l1 3l-2 3l-1 2l-6 8l-1 -4l1 -6l-1 -1l-1 -2l-2 -1l1 -3l1 -5l-3 2l-1 0l0 7l2 4l-1 0l-1 0l3 2l-1 3l0 6l1 0l2 1l2 3l1 4l2 9l-10 7l-1 0l-4 -1l-9 8l-6 0l-7 7l-1 1l-6 4l-2 2l-3 2l-4 3l-3 5l-3 8l1 6l0 3l4 8l2 3l2 2l2 10l3 7l-1 10l-3 6l-7 1l-6 -8l-1 -5l0 -1l-4 -3l-3 -6l-3 -5l1 -4l1 -1l-2 -6l-6 -7l-3 -3l-6 -1l-7 5l-4 -1l-3 -5l-8 -2l-10 1l-5 0l1 -2l-1 0l-1 1l-3 2l-12 0l-2 1l1 0l3 0l-2 4l2 3l4 2l-4 2l-6 -2l-8 1l-2 -1l-3 -1l-5 -2l-5 -1l-2 0l-7 -2l-6 1l-5 2l-4 1l-4 3l-3 2l-10 5l-3 3l-3 2l-3 6l-1 5l3 8l-4 1l-7 -2l-9 -3l-4 -11l-6 -6l-2 -2l-3 -8l-8 -7l-8 -1l-1 0l-1 1l-3 1l-4 7l-9 -3l-5 -4l-4 -9l-11 -8l-5 -4l-17 0l0 4l0 1l-28 0l-21 -7l-17 -5l1 -2l-24 2l-2 -5l-3 -4l-3 -2l-5 -2l-1 -2l-7 -2l-4 -2l-9 -1l-1 -1l0 -5l-3 -3l-4 -3l-6 -6l0 -3l0 -1l1 -1l-2 -2l-4 -2l-1 -3l0 -3l-5 -2l0 -3l-6 -5l-1 -1l-1 -9l-6 -6l3 -6l-1 -10l-2 -5l-1 -4l3 -6l1 -6l0 -4l2 -10zM492 96l0 1l1 0l0 -1z" fill="#FFAA00"/><path d="M156 181l0 -22l0 -16l0 -1l1 0l18 -1l2 -17l-20 0l-18 0l3 -18l-8 -6l0 -1l8 -15l-5 0l-1 0l0 -20l1 0l9 0l7 8l10 -3l4 -8l4 -2l1 0l11 6l7 -1l2 0l15 -2l0 1l0 20l20 0l0 1l0 16l0 24l-9 0l0 5l0 13l-1 14l0 18l-22 0l-13 0l0 2l-17 0l0 4l0 1zM179 105l12 -13l0 -8l-15 0l-5 0l-14 0l0 15zM64 116l-4 14l0 1l-19 12l0 1l0 -1l-3 -3l-4 -3l-6 -6l0 -3l0 -1l1 -1l-2 -2l-4 -2l-1 -3l0 -3l-5 -2l0 -3l-6 -5l0 -1l16 -10l20 6l1 0l0 1l0 2l3 2zM107 132l-7 1l0 6l1 5l-14 -10l-13 -10l9 -19l-7 -12l3 -19l0 -1l28 0l0 1l0 30l0 20zM40 58l1 0l10 -5l8 3l6 -4l12 2l1 0l0 1l-1 1l0 18l-17 0l-18 0l-1 0zM181 24l-1 0l0 -1l0 -19l27 0l0 23zM324 109l13 10l-2 10l-19 0l-15 0l0 -5l0 -16l13 -2l6 4zM247 114l-6 -5l0 -1l2 -14l-2 0l-3 -16l6 -5l0 -9l0 -1l18 0l3 1l3 1l1 0l2 -14l-7 -4l-1 0l0 -1l1 -11l-16 0l0 -1l0 -13l10 -5l7 5l13 -5l1 3l1 6l2 9l0 1l-3 3l4 2l0 1l0 8l0 9l12 0l15 0l0 1l-1 12l-12 0l-1 2l-1 0l-9 2l1 2l2 5l0 5l1 1l5 6l-1 0l-21 0l-1 0l1 13l-8 5l-7 -4zM333 95l-1 -1l1 -4l-3 -2l-9 0l0 -14l2 -2l-1 -13l0 -1l13 0l0 1l2 7l4 2l5 4l0 1l0 3l-1 2l0 1l-1 0l-7 1l0 2l0 2l14 9l1 0l3 -4l17 3l0 -1l0 -15l3 1l3 -1l1 0l3 10l-4 4l7 8l0 1l0 1l-6 4l-7 -1l0 1l1 5l-5 6l-1 1l-1 1l-3 3l0 3l-1 0l-6 1l-4 -3l-7 -7l-1 -2l-1 0l2 -4l0 -2l-4 -1l-1 0l0 -2l0 -1zM369 175l-6 0l-1 0l0 -1l2 -16l2 -13l-1 -1l0 -1l13 0l13 1l1 0l2 11l2 10l1 5l0 1l-11 0l-2 1l-9 -2zM407 158l0 -1l11 -8l-4 -2l-1 0l3 -3l0 -1l8 -2l4 1l9 1l3 2l1 0l0 1l-2 7l-1 0l-10 -1l-3 4l1 2l-7 8l-1 0l-8 -3l-1 0zM454 128l0 -3l-8 -10l4 -7l1 0l0 -1l7 -1l2 -1l4 -2l5 -1l1 -2l3 2l4 3l0 1l-2 4l3 0l1 1l3 2l3 2l-1 3l0 6l1 0l2 1l2 3l0 1l-17 0zM433 86l-3 -8l4 -2l8 -2l1 0l0 12l-1 0zM361 54l-8 6l-1 0l-7 -5l0 -1l0 -7l-8 -6l6 -13l1 0l10 3l2 1l10 2l1 0l0 1l2 4l0 1l-9 7z" fill="#FFD37F"/><path d="M239 129l-22 0l0 -5l0 -1l9 0l0 -13l0 -16l0 -10l-5 0l-14 0l-1 0l0 -20l0 -18l0 -12l0 -17l0 -13l35 0l0 13l-1 0l-7 4l0 13l12 0l19 0l0 12l7 5l-1 15l-1 0l-1 0l-6 -2l-7 0l-10 0l0 9l-6 5l2 15l2 0l0 1l1 0l-2 14l5 5l11 -5l7 3l8 -4l0 -1l10 4l1 0l0 1l-1 12l5 0l13 0l0 1l1 0l0 5l1 11l-10 1l-4 15l-2 1l-6 -1l-2 0l-2 -15l-4 -3l0 -14l-7 0l-20 0l-6 0zM137 74l-17 0l1 -12l-4 -4l0 -1l1 -7l-1 0l-4 -5l-1 0l-3 -6l-6 0l-1 0l0 -1l1 -7l15 -13l1 0l21 14l0 12l-3 0l0 5l0 12zM23 58l11 -3l0 -17l0 -1l1 0l7 -1l6 -1l6 -1l3 -1l7 0l14 0l5 4l0 1l-4 7l-3 4l2 2l0 1l0 3l-1 0l-12 -2l-6 4l-1 0l-7 -3l-10 5l1 15l-20 0l-1 0zM329 151l-1 -8l-4 -2l1 -12l0 -1l10 0l1 -9l1 0l8 -6l1 0l7 8l3 2l0 1l-2 4l13 -1l0 1l1 0l0 1l1 0l-1 15l-2 0l1 1l-2 12l-9 -1l-2 2l-1 0l-5 -1l-5 -10l-1 1l-4 7l-1 0l0 1l0 -1zM324 110l-4 0l-1 0l-5 -3l-13 1l0 -6l-3 -6l-4 -2l-5 -6l-1 -1l0 -5l-2 -5l-1 -2l10 -3l1 -1l0 -1l1 0l11 0l2 -11l0 -1l12 0l1 0l0 1l0 14l-1 1l0 13l8 0l3 3l0 4l1 1l1 1l1 0l0 1l-1 0zM386 128l1 0l18 0l5 -1l1 0l20 1l-3 5l-1 0l-11 4l-8 4l-3 1l-1 2l-13 0l-4 0zM377 90l4 -4l-3 -9l0 -1l1 0l3 -3l3 -5l0 -1l-3 -9l1 -2l2 -9l6 -3l0 -1l1 0l7 8l3 -1l7 4l0 1l2 2l-3 7l7 9l0 1l-2 2l0 1l-13 0l0 9l0 11l-1 0l-10 -2l-4 4l-1 0l-7 -8zM372 93l-16 -3l-4 4l-1 0l-1 0l-14 -9l0 -1l0 -4l1 0l0 -1l7 -1l1 -2l0 -3l-4 -4l-1 0l1 0l0 -1l17 0l11 0l0 1l3 7l0 3z" fill="#FFEBAF"/><path d="M181 174l0 -1l34 0l2 0l0 -15l20 2l1 0l7 18l-19 17l-1 0l-1 0l-1 1l-3 1l-4 7l-9 -3l-5 -4l-4 -9l-11 -8l-5 -4zM60 130l15 18l-4 12l0 1l0 -1l-3 -2l-5 -2l-1 -2l-7 -2l-4 -2l-9 -1l-1 -1l0 -5zM107 124l-1 0l0 -15l0 -17l0 -18l1 0l0 -1l19 0l11 0l0 1l0 9l6 0l0 1l-8 15l8 7l-4 18l-12 0zM174 44l-1 0l-33 0l-1 -11l-21 -14l0 -1l1 -14l62 0l0 19l0 1l-6 7zM254 182l0 -1l15 -7l12 8l-8 23l0 1l-16 -2zM278 140l2 15l0 1l-1 0l-4 0l-7 -2l-7 -1l-6 -2l-8 -2l0 -1l0 -10l0 -9l-8 0l0 -5l0 -1l1 0l19 0l15 0l0 1l0 14zM301 124l-18 0l-1 0l1 -13l-10 -4l-1 0l0 -13l0 -1l16 0l6 0l4 2l1 0l0 1l3 6l0 10zM337 120l-1 0l-13 -10l0 -1l12 -13l6 6l0 2l4 1l1 0l0 1l0 2l-2 4l2 1l0 1zM232 21l1 -1l7 -4l9 5l0 13l0 1l-1 0l-15 0l-1 0l0 -1z" fill="#E0FFBD"/><path d="M273 205l8 7l-1 1l-3 2l-3 6l-1 5l3 8l-4 1l-7 -2l-9 -3l-4 -11l-6 -6l-2 -2l-3 -8l-8 -7l-8 -1l19 -17l-7 -18l-20 -1l0 -1l0 -29l0 -1l30 0l1 0l0 1l0 19l1 0l6 2l6 2l7 1l1 1l1 0l-1 21l-14 7l3 21z" fill="#A3FF73"/><use href="#b"/></g></g><g filter="url(#bl)"><g transform="translate(851.40 447.07) scale(0.2878 0.2962)"><path d="M7 31l0 -4l-1 -3l-3 -6l-3 -5l0 -3l6 2l9 0l5 0l1 4l1 4l0 1l0 -1l2 0l0 -2l-1 -7l-3 -7l276 0l0 -4l3 1l2 6l8 1l4 0l4 0l6 3l2 1l8 1l6 -1l13 2l-5 2l-10 5l-8 5l8 -1l3 -1l3 4l11 -3l7 -4l8 -2l-3 3l1 3l4 0l5 4l2 -1l9 -1l10 -1l4 3l5 0l0 5l-6 1l-8 -2l-10 2l-4 2l-1 0l-6 6l-3 4l0 1l2 -1l7 -6l-5 8l0 6l-2 4l-2 4l1 6l3 7l3 1l3 -1l1 0l3 -3l3 -5l0 -1l-3 -9l1 -2l2 -9l6 -3l0 -1l6 -6l3 -1l5 1l3 1l5 4l1 5l0 4l-5 4l2 2l0 1l7 -5l5 11l-1 4l-6 3l-1 3l-2 2l0 1l4 1l3 1l7 0l3 -1l4 -2l8 -2l8 -3l7 -4l1 -2l-1 -4l15 0l5 0l2 0l6 -3l-1 -5l5 -4l5 -4l6 -1l14 0l7 0l11 0l0 -1l1 -2l3 0l3 -1l4 -4l1 -1l1 -4l2 -4l8 -8l3 3l6 -2l5 3l1 0l0 12l3 3l0 4l5 4l-7 3l-7 2l-5 -1l-1 2l-2 2l-7 2l-4 2l-3 4l-2 1l-1 2l1 0l1 2l-2 2l-1 2l2 3l7 -1l1 4l-7 1l-5 1l-7 2l-8 0l-3 0l-7 3l-2 0l-1 0l0 3l3 -2l13 -2l4 0l-9 3l-11 2l-1 1l0 5l-4 6l-5 4l-4 -3l2 5l1 3l-2 3l-1 2l-6 8l-1 -4l1 -6l-1 -1l-1 -2l-2 -1l1 -3l1 -5l-3 2l-1 0l0 7l2 4l-1 0l-1 0l3 2l-1 3l0 6l1 0l2 1l2 3l1 4l2 9l-10 7l-1 0l-4 -1l-9 8l-6 0l-7 7l-1 1l-6 4l-2 2l-3 2l-4 3l-3 5l-3 8l1 6l0 3l4 8l2 3l2 2l2 10l3 7l-1 10l-3 6l-7 1l-6 -8l-1 -5l0 -1l-4 -3l-3 -6l-3 -5l1 -4l1 -1l-2 -6l-6 -7l-3 -3l-6 -1l-7 5l-4 -1l-3 -5l-8 -2l-10 1l-5 0l1 -2l-1 0l-1 1l-3 2l-12 0l-2 1l1 0l3 0l-2 4l2 3l4 2l-4 2l-6 -2l-8 1l-2 -1l-3 -1l-5 -2l-5 -1l-2 0l-7 -2l-6 1l-5 2l-4 1l-4 3l-3 2l-10 5l-3 3l-3 2l-3 6l-1 5l3 8l-4 1l-7 -2l-9 -3l-4 -11l-6 -6l-2 -2l-3 -8l-8 -7l-8 -1l-1 0l-1 1l-3 1l-4 7l-9 -3l-5 -4l-4 -9l-11 -8l-5 -4l-17 0l0 4l0 1l-28 0l-21 -7l-17 -5l1 -2l-24 2l-2 -5l-3 -4l-3 -2l-5 -2l-1 -2l-7 -2l-4 -2l-9 -1l-1 -1l0 -5l-3 -3l-4 -3l-6 -6l0 -3l0 -1l1 -1l-2 -2l-4 -2l-1 -3l0 -3l-5 -2l0 -3l-6 -5l-1 -1l-1 -9l-6 -6l3 -6l-1 -10l-2 -5l-1 -4l3 -6l1 -6l0 -4l2 -10zM492 96l0 1l1 0l0 -1z" fill="#FFAA00"/><path d="M174 161l0 -1l8 -11l-7 -8l2 -17l0 -1l3 0l-2 -18l13 -13l0 -8l0 -1l1 0l14 0l0 -19l1 0l0 -1l16 0l21 0l1 0l0 1l0 9l-6 6l-1 0l-12 -1l-4 5l5 0l0 1l0 9l16 0l0 1l1 0l-2 14l5 5l0 11l-1 0l-19 0l-25 0l-6 0l2 16l-7 8l7 9l19 -1l0 18l-2 0l9 21l-1 1l-3 1l-4 7l-9 -3l-5 -4l-4 -9l-11 -8l-5 -4l-3 0zM287 157l-6 -1l-2 0l-2 -15l-4 -3l0 -14l0 -1l1 0l14 0l13 0l0 1l1 0l0 5l1 11l0 17l0 1l-1 0l-8 -3l-5 1zM60 130l15 18l-4 12l0 1l0 -1l-3 -2l-5 -2l-1 -2l-7 -2l-4 -2l-9 -1l-1 -1l0 -5zM78 54l0 1l-1 1l0 18l-17 0l-18 0l-1 0l-1 -15l-6 -3l0 -1l0 -17l0 -1l1 0l7 -1l6 -1l6 -1l3 -1l7 0l0 1l2 18l11 2zM139 32l13 -15l22 13l0 1l1 0l-1 13l-1 0l-33 0zM374 187l-1 4l-1 0l-5 0l1 -2l-1 0l-1 1l-3 2l0 -2l-1 -15l0 -1l2 -16l0 -1l1 0l8 2l5 -3l7 2l8 -4l1 0l0 1l2 10l1 5l1 1l-1 8l1 5l-1 0l-13 0l-9 0l-3 0l0 1zM363 123l-1 0l-6 1l-4 -3l-7 -7l0 -1l11 -5l1 -4l0 -1l1 0l14 -4l0 1l0 4l1 5l-5 6l-1 1l-1 1l-3 3zM399 102l5 2l5 2l0 1l-3 21l-8 0l-1 0l-8 -17l1 0l0 -1l3 -4zM314 106l0 1l-13 1l0 -6l-3 -6l-4 -2l-5 -6l1 0l25 -1l0 1l0 18zM321 74l2 -2l8 1l6 9l0 4l-4 4l-3 -2l-9 0zM379 77l0 -1l3 -3l3 -5l0 -1l-3 -9l1 -2l2 -9l6 -3l0 -1l1 0l7 8l3 -1l7 4l0 1l2 2l-3 7l7 9l0 1l-2 2l0 1l-14 0l-1 0zM361 54l-8 6l-1 0l-7 -5l0 -1l0 -7l-8 -6l6 -13l1 0l10 3l2 1l10 2l1 0l0 1l2 4l0 1l-9 7z" fill="#FFD37F"/><path d="M214 174l1 0l0 -1l2 0l0 -15l20 2l1 0l7 18l-19 17l-1 0l-1 0l-1 1zM197 158l-7 -9l0 -1l7 -9l-2 -15l0 -1l1 0l21 0l23 0l0 1l-1 5l-21 0l0 13l-1 14l0 1l-19 1zM127 124l-20 0l-1 0l0 -15l0 -17l0 -18l1 0l0 -1l19 0l0 1l-4 17l8 9l-6 9zM226 77l12 1l6 -5l0 -9l0 -1l18 0l3 1l0 1l1 0l-2 11l9 7l0 11l-1 0l1 13l10 3l3 -2l1 0l14 3l0 -3l13 -2l1 -18l0 -1l15 0l3 3l0 4l1 1l1 1l6 6l0 2l4 1l1 0l0 1l0 2l-2 4l2 1l0 1l-9 6l-1 0l-12 -10l-4 0l-4 19l-15 0l0 -5l-18 0l-17 0l-20 0l1 -10l-6 -5l0 -1l2 -14l-2 0l-14 0l-1 0l0 -10l-5 0zM239 51l0 13l-18 0l-14 0l-1 0l0 -18l0 -12l0 -7l-25 -3l-7 7l-22 -13l-12 15l-1 0l-21 -14l0 -1l1 -14l156 0l2 10l1 2l0 1l-13 5l-1 0l-6 -5l-10 5l-8 -5l-7 4l0 13l0 1l-6 0l-1 12zM431 128l-3 5l-1 0l-11 4l-8 4l-3 1l-1 2l-13 0l-4 0l-19 0l0 -15l-1 0l-1 0l0 -2l-13 2l2 -5l1 0l0 -1l6 -1l0 -2l4 -4l0 -1l5 -1l6 0l1 0l6 -1l6 -3l0 1l8 17l7 0l5 -1l1 0zM540 65l-1 0l-5 2l-11 0l-1 0l-1 0l0 -1l2 -5l2 -5l-4 -2l0 -10l11 0l0 -1l1 -2l3 0l3 -1l4 -4l1 -1l0 -1l10 6l4 12l-2 2l-7 2l-4 2l-3 4l-2 1l-1 2z" fill="#FFEBAF"/><path d="M244 178l-7 -18l-20 -1l0 -1l0 -29l0 -1l22 0l0 -4l0 -1l1 0l19 0l15 0l0 1l0 14l4 2l2 15l1 0l6 1l7 -1l9 2l2 1l1 0l-1 0l-20 24l-4 1l-8 22l0 1l-16 -2l-3 -22zM268 66l-6 -2l-7 0l-16 0l-1 0l0 -12l-12 -5l-1 0l1 -13l6 0l0 -13l1 -1l7 -4l8 5l10 -5l7 5l13 -5l1 3l1 6l2 9l0 1l-3 3l4 2l0 1l0 8l0 10l-1 0l1 10l-3 -1l-5 -2l-6 0zM294 93l4 2l1 0l0 1l3 6l0 10l-1 0l-14 -3l-4 2l-10 -4l-1 0l0 -13l0 -1l16 0zM296 70l1 0l11 0l2 -11l0 -1l12 0l13 0l0 1l2 7l0 1l-6 6l0 1l-1 0l-7 -1l-2 1l-10 -1l-5 15l-4 0l-1 0l-6 -16l1 -1z" fill="#E0FFBD"/><path d="M273 205l8 7l-1 1l-3 2l-3 6l-1 5l3 8l-4 1l-7 -2l-9 -3l-4 -11l-6 -6l-2 -2l-3 -8l-8 -7l-8 -1l19 -17l1 0l10 3l0 1l3 21z" fill="#A3FF73"/><use href="#b"/></g></g><text class="t" x="183.0" y="22.9" font-size="25.0" textLength="54.9" lengthAdjust="spacingAndGlyphs">PDSI</text><text class="t" x="351.1" y="24.9" font-size="25.0" textLength="73.1" lengthAdjust="spacingAndGlyphs">SPI-01</text><text class="t" x="535.6" y="24.3" font-size="25.8" textLength="78.2" lengthAdjust="spacingAndGlyphs">SPI-03</text><text class="t" x="714.9" y="22.9" font-size="25.0" textLength="74.0" lengthAdjust="spacingAndGlyphs">SPI-06</text><text class="t" x="892.0" y="26.4" font-size="26.0" textLength="77.0" lengthAdjust="spacingAndGlyphs">SPI-09</text><text class="t" x="7.4" y="69.0" font-size="17.7" textLength="135.0" lengthAdjust="spacingAndGlyphs">VIUPD based VCI</text><text class="t" x="12.0" y="152.3" font-size="17.9" textLength="127.2" lengthAdjust="spacingAndGlyphs">NDVI based VCI</text><text class="t" x="77.8" y="231.2" font-size="16.8" textLength="28.4" lengthAdjust="spacingAndGlyphs">PCI</text><text class="t" x="4.4" y="316.5" font-size="17.9" textLength="138.0" lengthAdjust="spacingAndGlyphs">MODIS based TCI</text><text class="t" x="18.6" y="393.0" font-size="17.8" textLength="118.2" lengthAdjust="spacingAndGlyphs">VUA based TCI</text><text class="t" x="67.2" y="473.4" font-size="17.6" textLength="45.2" lengthAdjust="spacingAndGlyphs">SMCI</text><rect x="402.9" y="549.4" width="42.6" height="21.8" fill="#FFAA00" stroke="#9c9c9c" stroke-width="0.6"/><rect x="445.5" y="549.4" width="42.6" height="21.8" fill="#FFD37F" stroke="#9c9c9c" stroke-width="0.6"/><rect x="488.1" y="549.4" width="42.6" height="21.8" fill="#FFEBAF" stroke="#9c9c9c" stroke-width="0.6"/><rect x="530.7" y="549.4" width="42.6" height="21.8" fill="#A3FF73" stroke="#9c9c9c" stroke-width="0.6"/><rect x="573.3" y="549.4" width="42.6" height="21.8" fill="#55FF00" stroke="#9c9c9c" stroke-width="0.6"/><rect x="615.9" y="549.4" width="42.6" height="21.8" fill="#4CE600" stroke="#9c9c9c" stroke-width="0.6"/><rect x="658.5" y="549.4" width="42.6" height="21.8" fill="#38A800" stroke="#9c9c9c" stroke-width="0.6"/><rect x="701.1" y="549.4" width="42.6" height="21.8" fill="#267300" stroke="#9c9c9c" stroke-width="0.6"/><text class="l" font-size="15.7" text-anchor="end" transform="translate(429.8 588.4) rotate(-45)">&lt;0.2</text><text class="l" font-size="15.7" text-anchor="end" transform="translate(472.4 588.4) rotate(-45)">0.2-0.3</text><text class="l" font-size="15.7" text-anchor="end" transform="translate(515.1 588.4) rotate(-45)">0.3-0.4</text><text class="l" font-size="15.7" text-anchor="end" transform="translate(557.7 588.4) rotate(-45)">0.4-0.5</text><text class="l" font-size="15.7" text-anchor="end" transform="translate(600.3 588.4) rotate(-45)">0.5-0.6</text><text class="l" font-size="15.7" text-anchor="end" transform="translate(643.0 588.4) rotate(-45)">0.6-0.7</text><text class="l" font-size="15.7" text-anchor="end" transform="translate(685.6 588.4) rotate(-45)">0.7-0.8</text><text class="l" font-size="15.7" text-anchor="end" transform="translate(728.2 588.4) rotate(-45)">0.8-1</text></svg></body></html>
